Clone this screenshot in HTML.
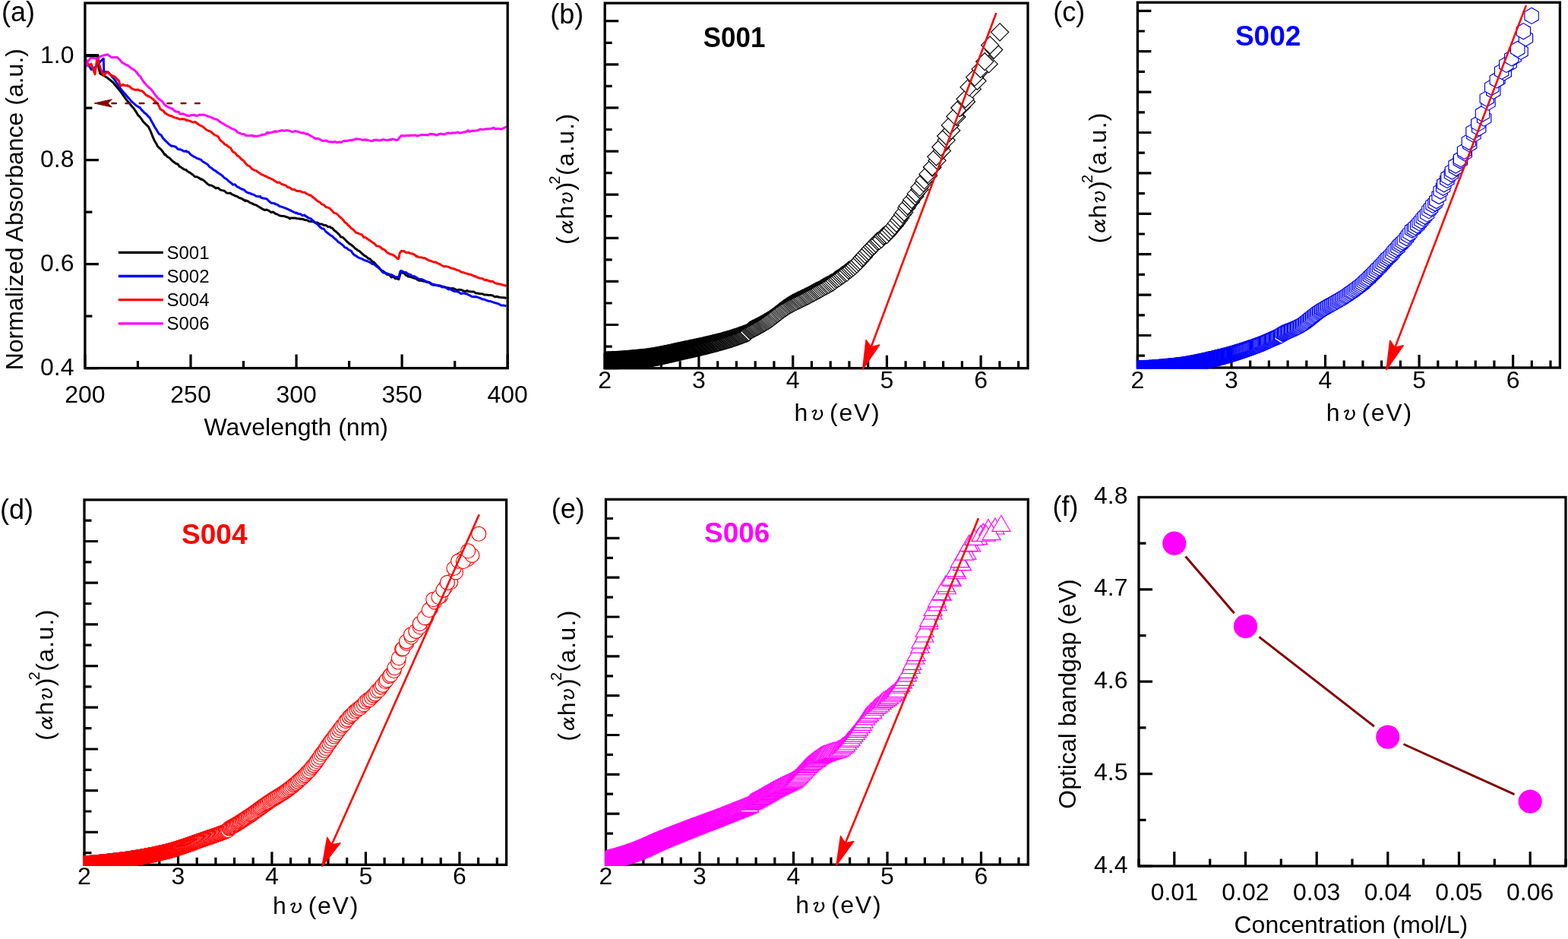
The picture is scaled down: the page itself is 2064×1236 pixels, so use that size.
<!DOCTYPE html>
<html><head><meta charset="utf-8"><title>Optical absorption and bandgap</title>
<style>html,body{margin:0;padding:0;background:#fff;}svg{display:block;}</style></head>
<body>
<svg width="2064" height="1236" viewBox="0 0 2064 1236" font-family="'Liberation Sans', Arial, sans-serif">
<rect width="2064" height="1236" fill="#fff"/>
<clipPath id="ca"><rect x="111.9" y="4" width="556.3" height="480.6"/></clipPath>
<g clip-path="url(#ca)" fill="none" stroke-width="3" stroke-linejoin="round">
<path d="M112.0 72.6L120.0 72.4L129.0 72.4L130.0 90.0L132.0 97.0L140.4 101.7L148.8 108.5L158.5 120.2L162.0 125.2L164.8 129.2L167.6 132.8L168.2 133.8L170.4 135.9L173.2 139.5L175.9 142.5L177.9 145.4L178.7 146.6L181.5 151.3L184.3 154.0L187.1 157.9L187.6 159.0L189.8 161.5L192.6 164.2L195.4 166.8L195.4 166.9L198.2 172.7L201.0 179.7L201.2 180.3L203.7 185.8L206.5 190.2L207.0 192.0L209.3 194.4L212.1 196.9L214.9 200.5L216.8 203.6L217.6 203.2L220.4 206.4L223.2 208.0L226.0 211.1L226.5 211.4L228.8 213.3L231.5 215.3L234.3 216.2L236.2 219.2L237.1 219.4L239.9 221.4L242.7 223.1L245.4 223.8L245.9 225.0L248.2 226.3L251.0 228.0L253.8 230.0L255.6 231.8L256.6 232.8L259.3 232.8L262.1 234.4L264.9 236.1L265.3 235.7L267.7 237.2L270.5 239.7L273.2 242.1L275.0 243.4L276.0 243.8L278.8 244.2L281.6 246.1L284.4 248.0L284.7 247.3L287.1 247.4L289.9 249.9L292.7 250.6L295.5 251.2L298.3 254.0L301.0 254.3L303.8 254.3L304.1 255.1L306.6 256.3L309.4 257.8L312.2 258.6L314.9 260.4L317.7 261.2L320.5 262.9L323.3 264.6L323.5 263.8L326.1 264.7L328.8 266.6L331.6 267.6L334.4 269.3L337.2 269.9L340.0 271.7L342.7 273.3L342.9 273.5L345.5 275.1L348.3 276.4L351.1 276.0L353.9 277.4L356.6 279.4L359.4 278.9L362.2 281.0L362.3 281.3L365.0 282.0L367.8 283.7L370.5 284.2L373.3 284.4L376.1 285.2L378.9 286.1L381.7 288.0L381.7 287.1L384.4 286.9L387.2 287.1L390.0 287.3L390.0 287.5L392.8 287.8L395.6 288.3L398.3 288.3L401.1 289.5L401.3 289.5L403.9 289.8L406.7 291.3L409.5 291.5L412.2 291.7L412.7 291.8L415.0 292.9L417.8 293.1L420.6 294.8L423.4 295.0L424.0 295.2L426.1 296.4L428.9 296.4L431.7 298.5L434.5 298.4L435.3 299.7L437.3 300.1L440.0 303.3L442.8 305.2L445.6 308.1L446.6 308.8L448.4 311.7L451.2 312.4L453.9 315.0L456.7 318.0L458.0 319.0L459.5 320.5L462.3 322.3L465.1 324.5L467.8 327.3L469.3 328.0L470.6 329.4L473.4 330.7L476.2 333.5L479.0 335.8L480.6 337.1L481.7 337.3L484.5 340.0L487.3 341.2L490.1 344.3L492.0 345.0L492.9 346.1L495.6 349.1L498.4 351.7L501.2 355.1L503.3 357.5L504.0 356.7L506.8 358.9L509.5 361.5L512.3 361.7L514.6 364.3L515.1 365.0L517.9 364.3L520.7 366.8L523.4 366.7L524.8 367.7L526.2 363.2L527.0 360.0L528.2 358.6L529.0 359.1L531.8 359.5L534.6 362.6L537.3 363.2L537.3 364.1L540.1 364.3L542.9 365.3L545.7 366.4L548.5 367.1L548.6 367.7L551.2 369.2L554.0 369.0L556.8 370.1L559.6 370.5L562.4 371.5L565.1 371.9L567.9 374.3L570.7 374.3L571.2 374.5L573.5 375.6L576.3 375.8L579.0 376.0L581.8 376.9L584.6 377.5L587.4 378.5L590.2 379.0L592.9 379.7L593.9 380.1L595.7 379.5L598.5 380.3L601.3 382.2L604.1 381.2L606.8 381.4L609.6 382.7L612.4 383.7L615.2 382.4L616.5 383.5L618.0 383.7L620.7 384.0L623.5 383.9L626.3 385.9L629.1 386.0L631.9 386.7L634.6 386.7L637.4 388.0L639.2 388.1L640.2 387.9L643.0 388.6L645.8 388.5L648.5 388.9L651.3 390.9L654.1 390.3L656.9 391.2L659.7 391.5L662.4 391.7L665.2 392.1L666.4 392.6" stroke="#000"/>
<path d="M112.0 73.4L113.3 80.2L120.1 91.6L126.0 88.0L133.0 80.0L136.3 77.0L136.8 94.4L142.4 95.0L150.5 104.5L158.5 116.3L162.0 120.9L164.8 123.7L167.6 127.1L168.2 127.9L170.4 130.1L173.2 133.6L175.9 136.0L177.9 137.6L178.7 138.5L181.5 140.2L184.3 141.9L187.1 145.5L187.6 145.4L189.8 148.2L192.6 150.3L195.4 153.5L197.3 155.1L198.2 157.2L201.0 162.2L203.7 167.3L206.5 171.5L207.0 172.6L209.3 176.2L212.1 177.9L214.9 182.4L216.8 184.2L217.6 185.2L220.4 187.6L223.2 190.5L226.0 192.5L226.5 192.0L228.8 192.4L231.5 193.5L234.3 196.4L236.2 196.8L237.1 196.5L239.9 197.9L242.7 199.3L245.4 198.7L245.9 199.8L248.2 200.1L251.0 203.5L253.8 205.3L255.6 206.5L256.6 206.8L259.3 208.4L262.1 209.3L264.9 210.3L265.3 211.4L267.7 213.1L270.5 214.7L273.2 216.4L276.0 219.8L278.8 221.5L281.6 223.9L284.4 225.2L284.7 226.0L287.1 227.4L289.9 229.3L292.7 231.4L295.5 234.2L298.3 235.7L301.0 238.4L303.8 240.5L304.1 240.5L306.6 243.2L309.4 242.8L312.2 245.9L314.9 247.0L317.7 248.7L320.5 249.5L323.3 251.8L323.5 252.2L326.1 253.7L328.8 254.3L331.6 255.5L334.4 256.4L337.2 258.3L340.0 258.7L342.7 258.5L342.9 259.9L345.5 260.7L348.3 261.2L351.1 261.7L353.9 264.6L356.6 266.9L359.4 267.4L362.2 268.0L362.3 268.7L365.0 269.2L367.8 271.5L370.5 272.1L373.3 273.1L376.1 274.1L378.9 275.3L381.7 276.9L381.7 276.4L384.4 278.1L387.2 279.3L390.0 280.5L390.0 279.9L392.8 281.6L395.6 281.8L398.3 283.7L401.1 283.1L401.3 283.9L403.9 285.4L406.7 287.1L409.5 288.0L412.2 291.5L412.7 290.7L415.0 293.7L417.8 295.0L420.6 298.3L423.4 300.5L424.0 300.9L426.1 301.0L428.9 305.0L431.7 307.0L434.5 309.3L435.3 309.9L437.3 310.8L440.0 313.6L442.8 315.8L445.6 318.9L446.6 319.0L448.4 320.6L451.2 322.6L453.9 325.7L456.7 326.7L458.0 328.0L459.5 329.0L462.3 330.4L465.1 334.6L467.8 336.5L469.3 337.1L470.6 338.3L473.4 339.6L476.2 340.6L479.0 342.1L480.6 342.8L481.7 343.1L484.5 344.2L487.3 345.5L490.1 347.4L492.0 347.3L492.9 348.4L495.6 350.6L498.4 352.7L501.2 355.2L503.3 357.5L504.0 358.7L506.8 359.2L509.5 360.0L512.3 360.9L514.6 362.0L515.1 361.5L517.9 363.1L520.7 364.5L523.4 364.7L524.8 365.4L526.2 359.8L527.0 357.0L528.2 356.4L529.0 356.7L531.8 358.2L534.6 358.6L537.3 360.9L537.3 360.8L540.1 361.5L542.9 363.7L545.7 363.8L548.5 365.7L548.6 365.4L551.2 367.4L554.0 367.4L556.8 368.3L559.6 369.9L562.4 370.9L565.1 371.5L567.9 373.5L570.7 375.5L571.2 374.5L573.5 375.0L576.3 375.9L579.0 376.2L581.8 377.9L584.6 377.8L587.4 378.7L590.2 380.9L592.9 380.5L593.9 381.3L595.7 382.5L598.5 383.6L601.3 383.7L604.1 384.7L606.8 386.4L609.6 385.9L612.4 386.5L615.2 386.9L616.5 388.1L618.0 388.6L620.7 390.3L623.5 390.8L626.3 390.5L629.1 391.4L631.9 392.4L634.6 393.7L637.4 394.2L639.2 394.9L640.2 395.3L643.0 396.2L645.8 396.6L648.5 397.6L651.3 398.5L654.1 399.2L656.9 400.3L659.7 402.0L662.4 402.0L665.2 402.5L666.4 402.8" stroke="#0000ff"/>
<path d="M112.0 77.0L116.1 86.3L120.0 84.0L125.0 97.7L128.2 74.2L130.3 84.3L133.0 92.0L136.3 99.7L141.2 94.4L146.0 99.0L150.5 100.5L156.6 106.6L158.5 113.4L162.0 111.3L163.0 112.0L164.8 112.7L167.6 112.1L168.2 113.4L170.4 113.6L173.2 116.4L175.9 117.7L177.9 118.2L178.7 118.3L181.5 117.9L184.3 119.3L187.1 119.7L187.6 120.2L189.8 122.4L192.6 125.5L195.4 126.5L197.3 127.9L198.2 128.1L201.0 130.1L203.7 133.0L206.5 135.2L207.0 135.7L209.3 139.6L210.9 143.5L212.1 144.4L214.9 145.8L217.6 149.2L218.7 149.3L220.4 150.8L223.2 152.2L226.0 152.7L226.5 153.2L228.8 154.4L231.5 155.1L234.3 156.0L236.2 157.0L237.1 156.9L239.9 156.6L242.7 156.8L245.4 158.4L245.9 158.0L248.2 158.6L251.0 159.7L253.8 161.0L255.6 160.9L256.6 160.3L259.3 162.3L262.1 164.3L264.9 165.8L265.3 165.8L267.7 167.2L270.5 170.0L273.2 171.5L275.0 172.6L276.0 172.5L278.8 174.3L281.6 177.0L284.4 178.5L284.7 178.4L287.1 179.7L289.9 184.4L292.7 186.8L294.4 188.1L295.5 189.8L298.3 191.0L301.0 193.3L303.8 195.0L304.1 195.9L306.6 199.9L309.4 201.1L312.2 204.9L313.8 205.6L314.9 206.4L317.7 209.6L320.5 211.3L323.3 214.9L323.5 215.3L326.1 217.9L328.8 218.8L331.6 222.4L333.2 223.0L334.4 223.9L337.2 224.8L340.0 226.8L342.7 228.5L342.9 228.9L345.5 230.2L348.3 231.3L351.1 232.5L353.9 234.2L356.6 235.2L359.4 236.4L362.2 238.5L362.3 238.6L365.0 240.3L367.8 240.1L370.5 242.3L373.3 243.2L376.1 244.2L378.9 246.5L381.7 247.0L381.7 247.3L384.4 249.4L387.2 249.3L390.0 251.0L390.0 251.2L392.8 251.4L395.6 251.7L398.3 253.1L401.1 253.2L401.3 253.3L403.9 255.2L406.7 256.5L409.5 257.5L412.2 259.8L412.7 260.1L415.0 262.0L417.8 264.7L420.6 265.8L423.4 268.6L424.0 269.1L426.1 269.4L428.9 272.5L431.7 273.1L434.5 274.3L435.3 275.9L437.3 277.4L440.0 280.4L442.8 281.0L445.6 283.5L446.6 285.0L448.4 286.3L451.2 288.8L453.9 292.5L456.7 294.5L458.0 296.3L459.5 297.2L462.3 300.5L465.1 302.2L467.8 305.4L469.3 306.5L470.6 306.6L473.4 307.8L476.2 308.9L479.0 312.5L480.6 312.2L481.7 312.8L484.5 315.1L487.3 316.8L490.1 318.9L492.0 320.1L492.9 320.7L495.6 323.8L498.4 324.0L501.2 325.6L503.3 328.0L504.0 327.8L506.8 329.3L509.5 332.2L512.3 333.9L514.6 334.8L515.1 334.5L517.9 335.8L520.7 338.0L523.4 340.6L524.8 340.5L526.2 333.3L527.0 332.0L528.2 330.3L529.0 330.8L531.8 330.6L534.6 332.5L537.3 332.6L537.3 332.0L540.1 333.6L542.9 333.9L545.7 335.4L548.5 337.9L548.6 337.1L551.2 338.5L554.0 338.8L556.8 339.4L559.6 339.8L562.4 341.7L565.1 342.9L567.9 343.8L570.7 344.8L571.2 345.0L573.5 345.1L576.3 346.7L579.0 347.7L581.8 349.5L584.6 350.8L587.4 350.6L590.2 351.2L592.9 352.6L593.9 353.0L595.7 353.3L598.5 354.2L601.3 355.5L604.1 355.9L606.8 357.9L609.6 358.4L612.4 359.6L615.2 360.3L616.5 360.9L618.0 361.0L620.7 361.8L623.5 363.2L626.3 364.0L629.1 365.4L631.9 366.2L634.6 366.4L637.4 368.2L639.2 368.8L640.2 368.3L643.0 369.5L645.8 370.5L648.5 370.3L651.3 372.4L654.1 373.2L656.9 373.8L659.7 374.5L662.4 375.3L665.2 375.8L666.4 376.7" stroke="#ff0000"/>
<path d="M112.9 88.3L116.1 80.2L120.1 75.4L126.2 77.4L134.3 73.4L141.6 71.7L146.5 75.4L154.6 75.4L160.2 81.6L160.6 82.3L162.9 83.3L165.7 85.2L167.9 86.3L168.5 86.0L171.3 88.7L174.1 90.5L176.8 92.2L177.9 93.0L179.6 94.9L182.4 98.9L185.2 101.1L185.7 102.7L188.0 106.0L190.7 109.6L191.5 110.5L193.5 112.7L196.3 115.5L199.1 117.6L199.3 118.2L201.9 121.3L204.6 125.3L207.0 127.9L207.4 128.6L210.2 131.2L213.0 132.9L215.8 136.9L216.8 137.6L218.5 139.4L221.3 141.0L224.1 142.2L226.5 143.5L226.9 142.8L229.7 146.0L232.4 147.0L235.2 147.2L236.2 149.3L238.0 150.1L240.8 149.8L243.6 150.7L245.9 152.2L246.3 151.8L249.1 152.6L251.9 151.4L254.7 151.5L255.6 151.2L257.5 152.2L260.2 152.2L263.0 151.1L265.3 151.2L265.8 151.2L268.6 151.1L271.4 152.0L274.1 153.3L275.0 153.2L276.9 154.2L279.7 155.1L282.5 156.7L284.7 157.0L285.3 156.9L288.0 159.0L290.8 161.2L293.6 162.8L294.4 162.9L296.4 164.7L299.2 166.0L301.9 167.2L304.1 168.7L304.7 169.3L307.5 170.1L310.3 171.4L313.1 174.4L313.8 174.5L315.8 175.3L318.6 176.6L321.4 176.5L323.5 178.4L324.2 178.3L327.0 178.4L329.7 178.5L332.5 178.0L333.2 179.4L335.3 179.0L338.1 179.4L340.9 178.8L342.9 178.4L343.6 177.8L346.4 177.3L349.2 177.0L352.0 174.0L352.6 175.5L354.8 174.8L357.5 174.3L360.3 173.6L362.3 172.6L363.1 173.5L365.9 172.9L368.7 172.1L371.4 171.8L372.0 171.6L374.2 172.2L377.0 171.6L379.8 172.1L381.7 172.2L382.6 172.8L385.3 173.7L388.1 172.6L390.0 172.9L390.9 173.0L393.7 173.7L396.5 175.0L399.2 174.7L401.3 175.1L402.0 176.3L404.8 176.3L407.6 178.1L410.4 179.5L412.7 180.8L413.1 181.4L415.9 182.7L418.7 182.3L421.5 183.7L424.0 185.3L424.3 185.5L427.0 185.2L429.8 185.0L432.6 186.8L435.3 186.4L435.4 186.7L438.2 186.9L440.9 186.5L443.7 187.5L446.5 186.9L446.6 187.1L449.3 187.3L452.1 185.7L454.8 185.3L457.6 185.5L458.0 185.3L460.4 184.4L463.2 184.7L466.0 183.8L468.7 182.6L469.3 183.0L471.5 183.3L474.3 183.3L477.1 184.4L479.9 183.7L480.6 184.2L482.6 183.9L485.4 184.9L488.2 185.5L491.0 185.4L492.0 184.2L493.8 184.2L496.5 184.3L499.3 185.1L502.1 184.1L503.3 184.2L504.9 183.6L507.7 184.3L510.4 184.5L513.2 183.7L514.6 184.2L516.0 183.2L518.8 183.3L521.6 184.6L523.7 184.2L524.3 182.9L527.1 179.8L528.2 178.5L529.9 178.6L532.7 178.9L535.5 178.3L537.3 178.5L538.2 178.8L541.0 178.0L543.8 178.3L546.6 177.9L548.6 178.5L549.4 179.1L552.1 178.2L554.9 177.6L557.7 177.6L560.5 177.5L563.3 177.9L566.0 176.3L568.8 176.4L571.2 176.9L571.6 176.6L574.4 178.2L577.2 177.0L579.9 176.1L582.7 176.4L585.5 177.0L588.3 175.4L591.1 175.1L593.8 175.8L593.9 175.1L596.6 175.1L599.4 175.0L602.2 174.0L605.0 175.2L607.7 174.8L610.5 173.8L613.3 173.6L616.1 171.7L616.5 172.9L618.9 173.0L621.6 172.1L624.4 172.2L627.2 172.0L630.0 171.0L632.8 169.9L635.5 170.8L638.3 169.8L639.2 170.1L641.1 169.8L643.9 169.4L646.7 169.4L649.4 168.0L652.2 170.0L655.0 169.2L657.8 169.5L660.6 169.9L663.3 168.5L666.1 167.2L666.4 168.3" stroke="#ff00ff"/>
</g>
<path d="M262.6 135.9H147.4" stroke="#800000" stroke-width="2.5" stroke-linecap="round" stroke-dasharray="5.6 12.7" fill="none"/>
<path d="M124.2 135.9L147.4 130.8L142.2 135.9L147.4 141Z" fill="#800000" stroke="#800000" stroke-width="1" stroke-linejoin="round"/>
<rect x="111.9" y="4" width="556.3" height="480.6" fill="none" stroke="#000" stroke-width="3.3"/>
<path d="M111.9 484.6v-18M181.4 484.6v-9.5M251 484.6v-18M320.5 484.6v-9.5M390.1 484.6v-18M459.6 484.6v-9.5M529.1 484.6v-18M598.7 484.6v-9.5M668.2 484.6v-18" stroke="#000" stroke-width="3.2" fill="none"/>
<path d="M111.9 484.6h18M111.9 416.1h9.5M111.9 347.6h18M111.9 279.1h9.5M111.9 210.6h18M111.9 142.1h9.5M111.9 73.6h18" stroke="#000" stroke-width="3.2" fill="none"/>
<text x="111.9" y="530" font-size="32" text-anchor="middle" font-weight="normal" fill="#000" >200</text>
<text x="251" y="530" font-size="32" text-anchor="middle" font-weight="normal" fill="#000" >250</text>
<text x="390.1" y="530" font-size="32" text-anchor="middle" font-weight="normal" fill="#000" >300</text>
<text x="529.1" y="530" font-size="32" text-anchor="middle" font-weight="normal" fill="#000" >350</text>
<text x="668.2" y="530" font-size="32" text-anchor="middle" font-weight="normal" fill="#000" >400</text>
<text x="97.5" y="493.6" font-size="32" text-anchor="end" font-weight="normal" fill="#000" >0.4</text>
<text x="97.5" y="356.6" font-size="32" text-anchor="end" font-weight="normal" fill="#000" >0.6</text>
<text x="97.5" y="219.6" font-size="32" text-anchor="end" font-weight="normal" fill="#000" >0.8</text>
<text x="97.5" y="82.6" font-size="32" text-anchor="end" font-weight="normal" fill="#000" >1.0</text>
<text x="268.5" y="573" font-size="32" text-anchor="start" font-weight="normal" fill="#000" >Wavelength (nm)</text>
<text transform="translate(29.8,275.7) rotate(-90)" font-size="32" text-anchor="middle">Normalized Absorbance (a.u.)</text>
<text x="1.9" y="28.3" font-size="36" text-anchor="start" font-weight="normal" fill="#000" >(a)</text>
<path d="M155.8 332.4H214.8" stroke="#000" stroke-width="3.3"/>
<text x="219.5" y="340.6" font-size="24" text-anchor="start" font-weight="normal" fill="#000" >S001</text>
<path d="M155.8 363.5H214.8" stroke="#0000ff" stroke-width="3.3"/>
<text x="219.5" y="371.7" font-size="24" text-anchor="start" font-weight="normal" fill="#000" >S002</text>
<path d="M155.8 394.7H214.8" stroke="#ff0000" stroke-width="3.3"/>
<text x="219.5" y="402.9" font-size="24" text-anchor="start" font-weight="normal" fill="#000" >S004</text>
<path d="M155.8 425.8H214.8" stroke="#ff00ff" stroke-width="3.3"/>
<text x="219.5" y="434" font-size="24" text-anchor="start" font-weight="normal" fill="#000" >S006</text>
<rect x="796.2" y="4.1" width="556.8" height="480.6" fill="none" stroke="#000" stroke-width="3.3"/>
<path d="M796.2 27.7h18M796.2 56.3h9.5M796.2 84.8h18M796.2 113.4h9.5M796.2 141.9h18M796.2 170.5h9.5M796.2 199.1h18M796.2 227.6h9.5M796.2 256.2h18M796.2 284.7h9.5M796.2 313.3h18M796.2 341.9h9.5M796.2 370.4h18M796.2 399h9.5M796.2 427.5h18M796.2 456.1h9.5M796.2 484.7h18" stroke="#000" stroke-width="3.2" fill="none"/>
<path d="M796.2 484.7v-17M820.9 484.7v-9.5M845.7 484.7v-9.5M870.4 484.7v-9.5M895.2 484.7v-9.5M919.9 484.7v-17M944.7 484.7v-9.5M969.4 484.7v-9.5M994.2 484.7v-9.5M1018.9 484.7v-9.5M1043.7 484.7v-17M1068.4 484.7v-9.5M1093.2 484.7v-9.5M1117.9 484.7v-9.5M1142.7 484.7v-9.5M1167.4 484.7v-17M1192.1 484.7v-9.5M1216.9 484.7v-9.5M1241.6 484.7v-9.5M1266.4 484.7v-9.5M1291.1 484.7v-17M1315.9 484.7v-9.5M1340.6 484.7v-9.5" stroke="#000" stroke-width="3.2" fill="none"/>
<clipPath id="cb"><rect x="794.8" y="2.7" width="559.6" height="483.4"/></clipPath>
<g clip-path="url(#cb)" fill="#fff" stroke="#000" stroke-width="1.15" stroke-linejoin="miter">
<path stroke-width="2.15" d="M796.2 463.9L807.8 475.5L796.2 487.1L784.6 475.5Z"/>
<path stroke-width="2.15" d="M796.6 463.9L808.2 475.5L796.6 487.1L785.0 475.5Z"/>
<path stroke-width="2.15" d="M797.0 463.9L808.6 475.5L797.0 487.1L785.4 475.5Z"/>
<path stroke-width="2.15" d="M797.4 463.9L809.0 475.5L797.4 487.1L785.8 475.5Z"/>
<path stroke-width="2.15" d="M797.8 463.9L809.4 475.5L797.8 487.1L786.2 475.5Z"/>
<path stroke-width="2.15" d="M798.2 463.9L809.8 475.5L798.2 487.1L786.6 475.5Z"/>
<path stroke-width="2.15" d="M798.6 463.9L810.2 475.5L798.6 487.1L787.0 475.5Z"/>
<path stroke-width="2.15" d="M799.0 463.9L810.6 475.5L799.0 487.1L787.4 475.5Z"/>
<path stroke-width="2.15" d="M799.4 463.8L811.0 475.4L799.4 487.0L787.8 475.4Z"/>
<path stroke-width="2.15" d="M799.8 463.8L811.4 475.4L799.8 487.0L788.2 475.4Z"/>
<path stroke-width="2.15" d="M800.3 463.8L811.9 475.4L800.3 487.0L788.7 475.4Z"/>
<path stroke-width="2.15" d="M800.7 463.8L812.3 475.4L800.7 487.0L789.1 475.4Z"/>
<path stroke-width="2.15" d="M801.1 463.8L812.7 475.4L801.1 487.0L789.5 475.4Z"/>
<path stroke-width="2.15" d="M801.5 463.8L813.1 475.4L801.5 487.0L789.9 475.4Z"/>
<path stroke-width="2.15" d="M801.9 463.8L813.5 475.4L801.9 487.0L790.3 475.4Z"/>
<path stroke-width="2.15" d="M802.3 463.8L813.9 475.4L802.3 487.0L790.7 475.4Z"/>
<path stroke-width="2.15" d="M802.8 463.7L814.4 475.3L802.8 486.9L791.2 475.3Z"/>
<path stroke-width="2.15" d="M803.2 463.7L814.8 475.3L803.2 486.9L791.6 475.3Z"/>
<path stroke-width="2.15" d="M803.6 463.7L815.2 475.3L803.6 486.9L792.0 475.3Z"/>
<path stroke-width="2.15" d="M804.0 463.7L815.6 475.3L804.0 486.9L792.4 475.3Z"/>
<path stroke-width="2.15" d="M804.4 463.7L816.0 475.3L804.4 486.9L792.8 475.3Z"/>
<path stroke-width="2.15" d="M804.9 463.7L816.5 475.3L804.9 486.9L793.3 475.3Z"/>
<path stroke-width="2.15" d="M805.3 463.6L816.9 475.2L805.3 486.8L793.7 475.2Z"/>
<path stroke-width="2.15" d="M805.7 463.6L817.3 475.2L805.7 486.8L794.1 475.2Z"/>
<path stroke-width="2.15" d="M806.2 463.6L817.8 475.2L806.2 486.8L794.6 475.2Z"/>
<path stroke-width="2.15" d="M806.6 463.6L818.2 475.2L806.6 486.8L795.0 475.2Z"/>
<path stroke-width="2.15" d="M807.0 463.6L818.6 475.2L807.0 486.8L795.4 475.2Z"/>
<path stroke-width="2.15" d="M807.5 463.6L819.1 475.2L807.5 486.8L795.9 475.2Z"/>
<path stroke-width="2.15" d="M807.9 463.5L819.5 475.1L807.9 486.7L796.3 475.1Z"/>
<path stroke-width="2.15" d="M808.3 463.5L819.9 475.1L808.3 486.7L796.7 475.1Z"/>
<path stroke-width="2.15" d="M808.8 463.5L820.4 475.1L808.8 486.7L797.2 475.1Z"/>
<path stroke-width="2.15" d="M809.2 463.5L820.8 475.1L809.2 486.7L797.6 475.1Z"/>
<path stroke-width="2.15" d="M809.7 463.4L821.3 475.0L809.7 486.6L798.1 475.0Z"/>
<path stroke-width="2.15" d="M810.1 463.4L821.7 475.0L810.1 486.6L798.5 475.0Z"/>
<path stroke-width="2.15" d="M810.6 463.4L822.2 475.0L810.6 486.6L799.0 475.0Z"/>
<path stroke-width="2.15" d="M811.0 463.4L822.6 475.0L811.0 486.6L799.4 475.0Z"/>
<path stroke-width="2.15" d="M811.5 463.3L823.1 474.9L811.5 486.5L799.9 474.9Z"/>
<path stroke-width="2.15" d="M811.9 463.3L823.5 474.9L811.9 486.5L800.3 474.9Z"/>
<path stroke-width="2.15" d="M812.4 463.3L824.0 474.9L812.4 486.5L800.8 474.9Z"/>
<path stroke-width="2.15" d="M812.8 463.3L824.4 474.9L812.8 486.5L801.2 474.9Z"/>
<path stroke-width="2.15" d="M813.3 463.2L824.9 474.8L813.3 486.4L801.7 474.8Z"/>
<path stroke-width="2.15" d="M813.7 463.2L825.3 474.8L813.7 486.4L802.1 474.8Z"/>
<path stroke-width="2.15" d="M814.2 463.2L825.8 474.8L814.2 486.4L802.6 474.8Z"/>
<path stroke-width="2.15" d="M814.6 463.1L826.2 474.7L814.6 486.3L803.0 474.7Z"/>
<path stroke-width="2.15" d="M815.1 463.1L826.7 474.7L815.1 486.3L803.5 474.7Z"/>
<path stroke-width="2.15" d="M815.6 463.1L827.2 474.7L815.6 486.3L804.0 474.7Z"/>
<path stroke-width="2.15" d="M816.0 463.0L827.6 474.6L816.0 486.2L804.4 474.6Z"/>
<path stroke-width="2.15" d="M816.5 463.0L828.1 474.6L816.5 486.2L804.9 474.6Z"/>
<path stroke-width="2.15" d="M817.0 463.0L828.6 474.6L817.0 486.2L805.4 474.6Z"/>
<path stroke-width="2.15" d="M817.4 462.9L829.0 474.5L817.4 486.1L805.8 474.5Z"/>
<path stroke-width="2.15" d="M817.9 462.9L829.5 474.5L817.9 486.1L806.3 474.5Z"/>
<path stroke-width="2.15" d="M818.4 462.9L830.0 474.5L818.4 486.1L806.8 474.5Z"/>
<path stroke-width="2.15" d="M818.9 462.8L830.5 474.4L818.9 486.0L807.3 474.4Z"/>
<path stroke-width="2.15" d="M819.3 462.8L830.9 474.4L819.3 486.0L807.7 474.4Z"/>
<path stroke-width="2.15" d="M819.8 462.8L831.4 474.4L819.8 486.0L808.2 474.4Z"/>
<path stroke-width="2.15" d="M820.3 462.7L831.9 474.3L820.3 485.9L808.7 474.3Z"/>
<path stroke-width="2.15" d="M820.8 462.7L832.4 474.3L820.8 485.9L809.2 474.3Z"/>
<path stroke-width="2.15" d="M821.3 462.7L832.9 474.3L821.3 485.9L809.7 474.3Z"/>
<path stroke-width="2.15" d="M821.7 462.6L833.3 474.2L821.7 485.8L810.1 474.2Z"/>
<path stroke-width="2.15" d="M822.2 462.6L833.8 474.2L822.2 485.8L810.6 474.2Z"/>
<path stroke-width="2.15" d="M822.7 462.5L834.3 474.1L822.7 485.7L811.1 474.1Z"/>
<path stroke-width="2.15" d="M823.2 462.5L834.8 474.1L823.2 485.7L811.6 474.1Z"/>
<path stroke-width="2.15" d="M823.7 462.5L835.3 474.1L823.7 485.7L812.1 474.1Z"/>
<path stroke-width="2.15" d="M824.2 462.4L835.8 474.0L824.2 485.6L812.6 474.0Z"/>
<path stroke-width="2.15" d="M824.7 462.4L836.3 474.0L824.7 485.6L813.1 474.0Z"/>
<path stroke-width="2.15" d="M825.2 462.3L836.8 473.9L825.2 485.5L813.6 473.9Z"/>
<path stroke-width="2.15" d="M825.7 462.3L837.3 473.9L825.7 485.5L814.1 473.9Z"/>
<path stroke-width="2.15" d="M826.2 462.3L837.8 473.9L826.2 485.5L814.6 473.9Z"/>
<path stroke-width="2.15" d="M826.7 462.2L838.3 473.8L826.7 485.4L815.1 473.8Z"/>
<path stroke-width="2.15" d="M827.2 462.2L838.8 473.8L827.2 485.4L815.6 473.8Z"/>
<path stroke-width="2.15" d="M827.7 462.1L839.3 473.7L827.7 485.3L816.1 473.7Z"/>
<path stroke-width="2.15" d="M828.2 462.1L839.8 473.7L828.2 485.3L816.6 473.7Z"/>
<path stroke-width="2.15" d="M828.7 462.0L840.3 473.6L828.7 485.2L817.1 473.6Z"/>
<path stroke-width="2.15" d="M829.2 462.0L840.8 473.6L829.2 485.2L817.6 473.6Z"/>
<path stroke-width="2.15" d="M829.7 461.9L841.3 473.5L829.7 485.1L818.1 473.5Z"/>
<path stroke-width="2.15" d="M830.3 461.9L841.9 473.5L830.3 485.1L818.7 473.5Z"/>
<path stroke-width="2.15" d="M830.8 461.8L842.4 473.4L830.8 485.0L819.2 473.4Z"/>
<path stroke-width="2.15" d="M831.3 461.8L842.9 473.4L831.3 485.0L819.7 473.4Z"/>
<path stroke-width="2.15" d="M831.8 461.7L843.4 473.3L831.8 484.9L820.2 473.3Z"/>
<path stroke-width="2.15" d="M832.3 461.7L843.9 473.3L832.3 484.9L820.7 473.3Z"/>
<path stroke-width="2.15" d="M832.9 461.6L844.5 473.2L832.9 484.8L821.3 473.2Z"/>
<path stroke-width="2.15" d="M833.4 461.6L845.0 473.2L833.4 484.8L821.8 473.2Z"/>
<path stroke-width="2.15" d="M833.9 461.5L845.5 473.1L833.9 484.7L822.3 473.1Z"/>
<path stroke-width="2.15" d="M834.4 461.5L846.0 473.1L834.4 484.7L822.8 473.1Z"/>
<path stroke-width="2.15" d="M835.0 461.4L846.6 473.0L835.0 484.6L823.4 473.0Z"/>
<path stroke-width="2.15" d="M835.5 461.4L847.1 473.0L835.5 484.6L823.9 473.0Z"/>
<path stroke-width="2.15" d="M836.1 461.3L847.7 472.9L836.1 484.5L824.5 472.9Z"/>
<path stroke-width="2.15" d="M836.6 461.3L848.2 472.9L836.6 484.5L825.0 472.9Z"/>
<path stroke-width="2.15" d="M837.1 461.2L848.7 472.8L837.1 484.4L825.5 472.8Z"/>
<path stroke-width="2.15" d="M837.7 461.2L849.3 472.8L837.7 484.4L826.1 472.8Z"/>
<path stroke-width="2.15" d="M838.2 461.1L849.8 472.7L838.2 484.3L826.6 472.7Z"/>
<path stroke-width="2.15" d="M838.8 461.1L850.4 472.7L838.8 484.3L827.2 472.7Z"/>
<path stroke-width="2.15" d="M839.3 461.0L850.9 472.6L839.3 484.2L827.7 472.6Z"/>
<path stroke-width="2.15" d="M839.9 461.0L851.5 472.6L839.9 484.2L828.3 472.6Z"/>
<path stroke-width="2.14" d="M840.4 460.9L852.0 472.5L840.4 484.1L828.8 472.5Z"/>
<path stroke-width="2.14" d="M841.0 460.8L852.6 472.4L841.0 484.0L829.4 472.4Z"/>
<path stroke-width="2.13" d="M841.5 460.8L853.1 472.4L841.5 484.0L829.9 472.4Z"/>
<path stroke-width="2.13" d="M842.1 460.7L853.7 472.3L842.1 483.9L830.5 472.3Z"/>
<path stroke-width="2.12" d="M842.7 460.7L854.3 472.3L842.7 483.9L831.1 472.3Z"/>
<path stroke-width="2.12" d="M843.2 460.6L854.8 472.2L843.2 483.8L831.6 472.2Z"/>
<path stroke-width="2.11" d="M843.8 460.6L855.4 472.2L843.8 483.8L832.2 472.2Z"/>
<path stroke-width="2.11" d="M844.4 460.5L856.0 472.1L844.4 483.7L832.8 472.1Z"/>
<path stroke-width="2.10" d="M844.9 460.4L856.5 472.0L844.9 483.6L833.3 472.0Z"/>
<path stroke-width="2.10" d="M845.5 460.4L857.1 472.0L845.5 483.6L833.9 472.0Z"/>
<path stroke-width="2.09" d="M846.1 460.3L857.7 471.9L846.1 483.5L834.5 471.9Z"/>
<path stroke-width="2.09" d="M846.7 460.3L858.3 471.9L846.7 483.5L835.1 471.9Z"/>
<path stroke-width="2.08" d="M847.2 460.2L858.8 471.8L847.2 483.4L835.6 471.8Z"/>
<path stroke-width="2.08" d="M847.8 460.1L859.4 471.7L847.8 483.3L836.2 471.7Z"/>
<path stroke-width="2.07" d="M848.4 460.1L860.0 471.7L848.4 483.3L836.8 471.7Z"/>
<path stroke-width="2.06" d="M849.0 460.0L860.6 471.6L849.0 483.2L837.4 471.6Z"/>
<path stroke-width="2.06" d="M849.6 459.9L861.2 471.5L849.6 483.1L838.0 471.5Z"/>
<path stroke-width="2.05" d="M850.2 459.8L861.8 471.4L850.2 483.0L838.6 471.4Z"/>
<path stroke-width="2.05" d="M850.8 459.8L862.4 471.4L850.8 483.0L839.2 471.4Z"/>
<path stroke-width="2.04" d="M851.4 459.7L863.0 471.3L851.4 482.9L839.8 471.3Z"/>
<path stroke-width="2.04" d="M852.0 459.6L863.6 471.2L852.0 482.8L840.4 471.2Z"/>
<path stroke-width="2.03" d="M852.6 459.5L864.2 471.1L852.6 482.7L841.0 471.1Z"/>
<path stroke-width="2.03" d="M853.2 459.4L864.8 471.0L853.2 482.6L841.6 471.0Z"/>
<path stroke-width="2.02" d="M853.8 459.3L865.4 470.9L853.8 482.5L842.2 470.9Z"/>
<path stroke-width="2.02" d="M854.4 459.2L866.0 470.8L854.4 482.4L842.8 470.8Z"/>
<path stroke-width="2.01" d="M855.0 459.1L866.6 470.7L855.0 482.3L843.4 470.7Z"/>
<path stroke-width="2.01" d="M855.6 459.0L867.2 470.6L855.6 482.2L844.0 470.6Z"/>
<path stroke-width="2.00" d="M856.2 458.9L867.8 470.5L856.2 482.1L844.6 470.5Z"/>
<path stroke-width="1.99" d="M856.8 458.8L868.4 470.4L856.8 482.0L845.2 470.4Z"/>
<path stroke-width="1.99" d="M857.4 458.7L869.0 470.3L857.4 481.9L845.8 470.3Z"/>
<path stroke-width="1.98" d="M858.1 458.6L869.7 470.2L858.1 481.8L846.5 470.2Z"/>
<path stroke-width="1.98" d="M858.7 458.5L870.3 470.1L858.7 481.7L847.1 470.1Z"/>
<path stroke-width="1.97" d="M859.3 458.4L870.9 470.0L859.3 481.6L847.7 470.0Z"/>
<path stroke-width="1.97" d="M859.9 458.3L871.5 469.9L859.9 481.5L848.3 469.9Z"/>
<path stroke-width="1.96" d="M860.6 458.2L872.2 469.8L860.6 481.4L849.0 469.8Z"/>
<path stroke-width="1.96" d="M861.2 458.1L872.8 469.7L861.2 481.3L849.6 469.7Z"/>
<path stroke-width="1.95" d="M861.9 458.0L873.5 469.6L861.9 481.2L850.3 469.6Z"/>
<path stroke-width="1.94" d="M862.5 457.9L874.1 469.5L862.5 481.1L850.9 469.5Z"/>
<path stroke-width="1.94" d="M863.1 457.7L874.7 469.3L863.1 480.9L851.5 469.3Z"/>
<path stroke-width="1.93" d="M863.8 457.6L875.4 469.2L863.8 480.8L852.2 469.2Z"/>
<path stroke-width="1.93" d="M864.4 457.5L876.0 469.1L864.4 480.7L852.8 469.1Z"/>
<path stroke-width="1.92" d="M865.1 457.4L876.7 469.0L865.1 480.6L853.5 469.0Z"/>
<path stroke-width="1.91" d="M865.7 457.2L877.3 468.8L865.7 480.4L854.1 468.8Z"/>
<path stroke-width="1.91" d="M866.4 457.1L878.0 468.7L866.4 480.3L854.8 468.7Z"/>
<path stroke-width="1.90" d="M867.1 457.0L878.7 468.6L867.1 480.2L855.5 468.6Z"/>
<path stroke-width="1.90" d="M867.7 456.9L879.3 468.5L867.7 480.1L856.1 468.5Z"/>
<path stroke-width="1.89" d="M868.4 456.7L880.0 468.3L868.4 479.9L856.8 468.3Z"/>
<path stroke-width="1.88" d="M869.0 456.6L880.6 468.2L869.0 479.8L857.4 468.2Z"/>
<path stroke-width="1.88" d="M869.7 456.4L881.3 468.0L869.7 479.6L858.1 468.0Z"/>
<path stroke-width="1.87" d="M870.4 456.3L882.0 467.9L870.4 479.5L858.8 467.9Z"/>
<path stroke-width="1.87" d="M871.1 456.2L882.7 467.8L871.1 479.4L859.5 467.8Z"/>
<path stroke-width="1.86" d="M871.7 456.0L883.3 467.6L871.7 479.2L860.1 467.6Z"/>
<path stroke-width="1.85" d="M872.4 455.9L884.0 467.5L872.4 479.1L860.8 467.5Z"/>
<path stroke-width="1.85" d="M873.1 455.7L884.7 467.3L873.1 478.9L861.5 467.3Z"/>
<path stroke-width="1.84" d="M873.8 455.6L885.4 467.2L873.8 478.8L862.2 467.2Z"/>
<path stroke-width="1.84" d="M874.5 455.4L886.1 467.0L874.5 478.6L862.9 467.0Z"/>
<path stroke-width="1.83" d="M875.2 455.3L886.8 466.9L875.2 478.5L863.6 466.9Z"/>
<path stroke-width="1.82" d="M875.9 455.1L887.5 466.7L875.9 478.3L864.3 466.7Z"/>
<path stroke-width="1.82" d="M876.6 455.0L888.2 466.6L876.6 478.2L865.0 466.6Z"/>
<path stroke-width="1.81" d="M877.3 454.8L888.9 466.4L877.3 478.0L865.7 466.4Z"/>
<path stroke-width="1.80" d="M878.0 454.7L889.6 466.3L878.0 477.9L866.4 466.3Z"/>
<path stroke-width="1.80" d="M878.7 454.5L890.3 466.1L878.7 477.7L867.1 466.1Z"/>
<path stroke-width="1.79" d="M879.4 454.3L891.0 465.9L879.4 477.5L867.8 465.9Z"/>
<path stroke-width="1.79" d="M880.1 454.2L891.7 465.8L880.1 477.4L868.5 465.8Z"/>
<path stroke-width="1.78" d="M880.8 454.0L892.4 465.6L880.8 477.2L869.2 465.6Z"/>
<path stroke-width="1.77" d="M881.6 453.9L893.2 465.5L881.6 477.1L870.0 465.5Z"/>
<path stroke-width="1.77" d="M882.3 453.7L893.9 465.3L882.3 476.9L870.7 465.3Z"/>
<path stroke-width="1.76" d="M883.0 453.5L894.6 465.1L883.0 476.7L871.4 465.1Z"/>
<path stroke-width="1.75" d="M883.7 453.4L895.3 465.0L883.7 476.6L872.1 465.0Z"/>
<path stroke-width="1.75" d="M884.5 453.2L896.1 464.8L884.5 476.4L872.9 464.8Z"/>
<path stroke-width="1.74" d="M885.2 453.0L896.8 464.6L885.2 476.2L873.6 464.6Z"/>
<path stroke-width="1.73" d="M885.9 452.9L897.5 464.5L885.9 476.1L874.3 464.5Z"/>
<path stroke-width="1.73" d="M886.7 452.7L898.3 464.3L886.7 475.9L875.1 464.3Z"/>
<path stroke-width="1.72" d="M887.4 452.5L899.0 464.1L887.4 475.7L875.8 464.1Z"/>
<path stroke-width="1.71" d="M888.2 452.3L899.8 463.9L888.2 475.5L876.6 463.9Z"/>
<path stroke-width="1.71" d="M888.9 452.2L900.5 463.8L888.9 475.4L877.3 463.8Z"/>
<path stroke-width="1.70" d="M889.7 452.0L901.3 463.6L889.7 475.2L878.1 463.6Z"/>
<path stroke-width="1.69" d="M890.4 451.8L902.0 463.4L890.4 475.0L878.8 463.4Z"/>
<path stroke-width="1.69" d="M891.2 451.7L902.8 463.3L891.2 474.9L879.6 463.3Z"/>
<path stroke-width="1.68" d="M892.0 451.5L903.6 463.1L892.0 474.7L880.4 463.1Z"/>
<path stroke-width="1.67" d="M892.7 451.3L904.3 462.9L892.7 474.5L881.1 462.9Z"/>
<path stroke-width="1.66" d="M893.5 451.1L905.1 462.7L893.5 474.3L881.9 462.7Z"/>
<path stroke-width="1.66" d="M894.3 450.9L905.9 462.5L894.3 474.1L882.7 462.5Z"/>
<path stroke-width="1.65" d="M895.1 450.8L906.7 462.4L895.1 474.0L883.5 462.4Z"/>
<path stroke-width="1.64" d="M895.9 450.6L907.5 462.2L895.9 473.8L884.3 462.2Z"/>
<path stroke-width="1.64" d="M896.6 450.4L908.2 462.0L896.6 473.6L885.0 462.0Z"/>
<path stroke-width="1.63" d="M897.4 450.2L909.0 461.8L897.4 473.4L885.8 461.8Z"/>
<path stroke-width="1.62" d="M898.2 450.1L909.8 461.7L898.2 473.3L886.6 461.7Z"/>
<path stroke-width="1.62" d="M899.0 449.9L910.6 461.5L899.0 473.1L887.4 461.5Z"/>
<path stroke-width="1.61" d="M899.8 449.7L911.4 461.3L899.8 472.9L888.2 461.3Z"/>
<path stroke-width="1.60" d="M900.6 449.5L912.2 461.1L900.6 472.7L889.0 461.1Z"/>
<path stroke-width="1.59" d="M901.4 449.4L913.0 461.0L901.4 472.6L889.8 461.0Z"/>
<path stroke-width="1.59" d="M902.3 449.2L913.9 460.8L902.3 472.4L890.7 460.8Z"/>
<path stroke-width="1.58" d="M903.1 449.0L914.7 460.6L903.1 472.2L891.5 460.6Z"/>
<path stroke-width="1.57" d="M903.9 448.8L915.5 460.4L903.9 472.0L892.3 460.4Z"/>
<path stroke-width="1.56" d="M904.7 448.6L916.3 460.2L904.7 471.8L893.1 460.2Z"/>
<path stroke-width="1.56" d="M905.5 448.5L917.1 460.1L905.5 471.7L893.9 460.1Z"/>
<path stroke-width="1.55" d="M906.4 448.3L918.0 459.9L906.4 471.5L894.8 459.9Z"/>
<path stroke-width="1.54" d="M907.2 448.1L918.8 459.7L907.2 471.3L895.6 459.7Z"/>
<path stroke-width="1.53" d="M908.1 447.9L919.7 459.5L908.1 471.1L896.5 459.5Z"/>
<path stroke-width="1.53" d="M908.9 447.7L920.5 459.3L908.9 470.9L897.3 459.3Z"/>
<path stroke-width="1.52" d="M909.7 447.5L921.3 459.1L909.7 470.7L898.1 459.1Z"/>
<path stroke-width="1.51" d="M910.6 447.4L922.2 459.0L910.6 470.6L899.0 459.0Z"/>
<path stroke-width="1.50" d="M911.5 447.2L923.1 458.8L911.5 470.4L899.9 458.8Z"/>
<path stroke-width="1.50" d="M912.3 447.0L923.9 458.6L912.3 470.2L900.7 458.6Z"/>
<path stroke-width="1.49" d="M913.2 446.8L924.8 458.4L913.2 470.0L901.6 458.4Z"/>
<path stroke-width="1.48" d="M914.0 446.6L925.6 458.2L914.0 469.8L902.4 458.2Z"/>
<path stroke-width="1.47" d="M914.9 446.4L926.5 458.0L914.9 469.6L903.3 458.0Z"/>
<path stroke-width="1.46" d="M915.8 446.2L927.4 457.8L915.8 469.4L904.2 457.8Z"/>
<path stroke-width="1.46" d="M916.7 446.0L928.3 457.6L916.7 469.2L905.1 457.6Z"/>
<path stroke-width="1.45" d="M917.6 445.8L929.2 457.4L917.6 469.0L906.0 457.4Z"/>
<path stroke-width="1.44" d="M918.4 445.6L930.0 457.2L918.4 468.8L906.8 457.2Z"/>
<path stroke-width="1.43" d="M919.3 445.4L930.9 457.0L919.3 468.6L907.7 457.0Z"/>
<path stroke-width="1.43" d="M920.2 445.2L931.8 456.8L920.2 468.4L908.6 456.8Z"/>
<path stroke-width="1.42" d="M921.1 445.0L932.7 456.6L921.1 468.2L909.5 456.6Z"/>
<path stroke-width="1.41" d="M922.0 444.8L933.6 456.4L922.0 468.0L910.4 456.4Z"/>
<path stroke-width="1.40" d="M923.0 444.6L934.6 456.2L923.0 467.8L911.4 456.2Z"/>
<path stroke-width="1.39" d="M923.9 444.4L935.5 456.0L923.9 467.6L912.3 456.0Z"/>
<path stroke-width="1.38" d="M924.8 444.2L936.4 455.8L924.8 467.4L913.2 455.8Z"/>
<path stroke-width="1.38" d="M925.7 443.9L937.3 455.5L925.7 467.1L914.1 455.5Z"/>
<path stroke-width="1.37" d="M926.6 443.7L938.2 455.3L926.6 466.9L915.0 455.3Z"/>
<path stroke-width="1.36" d="M927.6 443.5L939.2 455.1L927.6 466.7L916.0 455.1Z"/>
<path stroke-width="1.35" d="M928.5 443.3L940.1 454.9L928.5 466.5L916.9 454.9Z"/>
<path stroke-width="1.34" d="M929.5 443.1L941.1 454.7L929.5 466.3L917.9 454.7Z"/>
<path stroke-width="1.33" d="M930.4 442.8L942.0 454.4L930.4 466.0L918.8 454.4Z"/>
<path stroke-width="1.33" d="M931.4 442.6L943.0 454.2L931.4 465.8L919.8 454.2Z"/>
<path stroke-width="1.32" d="M932.3 442.4L943.9 454.0L932.3 465.6L920.7 454.0Z"/>
<path stroke-width="1.31" d="M933.3 442.1L944.9 453.7L933.3 465.3L921.7 453.7Z"/>
<path stroke-width="1.30" d="M934.2 441.9L945.8 453.5L934.2 465.1L922.6 453.5Z"/>
<path stroke-width="1.29" d="M935.2 441.7L946.8 453.3L935.2 464.9L923.6 453.3Z"/>
<path stroke-width="1.28" d="M936.2 441.4L947.8 453.0L936.2 464.6L924.6 453.0Z"/>
<path stroke-width="1.27" d="M937.2 441.2L948.8 452.8L937.2 464.4L925.6 452.8Z"/>
<path stroke-width="1.26" d="M938.1 440.9L949.7 452.5L938.1 464.1L926.5 452.5Z"/>
<path stroke-width="1.26" d="M939.1 440.7L950.7 452.3L939.1 463.9L927.5 452.3Z"/>
<path stroke-width="1.25" d="M940.1 440.4L951.7 452.0L940.1 463.6L928.5 452.0Z"/>
<path stroke-width="1.24" d="M941.1 440.2L952.7 451.8L941.1 463.4L929.5 451.8Z"/>
<path stroke-width="1.23" d="M942.1 439.9L953.7 451.5L942.1 463.1L930.5 451.5Z"/>
<path stroke-width="1.22" d="M943.2 439.6L954.8 451.2L943.2 462.8L931.6 451.2Z"/>
<path stroke-width="1.21" d="M944.2 439.4L955.8 451.0L944.2 462.6L932.6 451.0Z"/>
<path stroke-width="1.20" d="M945.2 439.1L956.8 450.7L945.2 462.3L933.6 450.7Z"/>
<path d="M946.2 438.8L957.8 450.4L946.2 462.0L934.6 450.4Z"/>
<path d="M947.3 438.6L958.9 450.2L947.3 461.8L935.7 450.2Z"/>
<path d="M948.3 438.3L959.9 449.9L948.3 461.5L936.7 449.9Z"/>
<path d="M949.3 438.0L960.9 449.6L949.3 461.2L937.7 449.6Z"/>
<path d="M950.4 437.7L962.0 449.3L950.4 460.9L938.8 449.3Z"/>
<path d="M951.4 437.4L963.0 449.0L951.4 460.6L939.8 449.0Z"/>
<path d="M952.5 437.1L964.1 448.7L952.5 460.3L940.9 448.7Z"/>
<path d="M953.6 436.8L965.2 448.4L953.6 460.0L942.0 448.4Z"/>
<path d="M954.6 436.5L966.2 448.1L954.6 459.7L943.0 448.1Z"/>
<path d="M955.7 436.2L967.3 447.8L955.7 459.4L944.1 447.8Z"/>
<path d="M956.8 435.9L968.4 447.5L956.8 459.1L945.2 447.5Z"/>
<path d="M957.9 435.6L969.5 447.2L957.9 458.8L946.3 447.2Z"/>
<path d="M959.0 435.3L970.6 446.9L959.0 458.5L947.4 446.9Z"/>
<path d="M960.1 434.9L971.7 446.5L960.1 458.1L948.5 446.5Z"/>
<path d="M961.2 434.6L972.8 446.2L961.2 457.8L949.6 446.2Z"/>
<path d="M962.3 434.2L973.9 445.8L962.3 457.4L950.7 445.8Z"/>
<path d="M963.4 433.9L975.0 445.5L963.4 457.1L951.8 445.5Z"/>
<path d="M964.5 433.5L976.1 445.1L964.5 456.7L952.9 445.1Z"/>
<path d="M965.7 433.1L977.3 444.7L965.7 456.3L954.1 444.7Z"/>
<path d="M966.8 432.8L978.4 444.4L966.8 456.0L955.2 444.4Z"/>
<path d="M967.9 432.4L979.5 444.0L967.9 455.6L956.3 444.0Z"/>
<path d="M969.1 432.0L980.7 443.6L969.1 455.2L957.5 443.6Z"/>
<path d="M970.2 431.6L981.8 443.2L970.2 454.8L958.6 443.2Z"/>
<path d="M971.4 431.2L983.0 442.8L971.4 454.4L959.8 442.8Z"/>
<path d="M972.6 430.8L984.2 442.4L972.6 454.0L961.0 442.4Z"/>
<path d="M973.7 430.3L985.3 441.9L973.7 453.5L962.1 441.9Z"/>
<path d="M974.9 429.9L986.5 441.5L974.9 453.1L963.3 441.5Z"/>
<path d="M976.1 429.5L987.7 441.1L976.1 452.7L964.5 441.1Z"/>
<path d="M977.3 429.0L988.9 440.6L977.3 452.2L965.7 440.6Z"/>
<path d="M978.5 428.6L990.1 440.2L978.5 451.8L966.9 440.2Z"/>
<path d="M979.7 428.1L991.3 439.7L979.7 451.3L968.1 439.7Z"/>
<path d="M980.9 427.7L992.5 439.3L980.9 450.9L969.3 439.3Z"/>
<path d="M982.1 427.2L993.7 438.8L982.1 450.4L970.5 438.8Z"/>
<path d="M983.4 426.7L995.0 438.3L983.4 449.9L971.8 438.3Z"/>
<path d="M984.6 426.2L996.2 437.8L984.6 449.4L973.0 437.8Z"/>
<path d="M985.9 425.8L997.5 437.4L985.9 449.0L974.3 437.4Z"/>
<path d="M987.1 423.2L998.7 434.8L987.1 446.4L975.5 434.8Z"/>
<path d="M988.4 422.7L1000.0 434.3L988.4 445.9L976.8 434.3Z"/>
<path d="M989.6 422.1L1001.2 433.7L989.6 445.3L978.0 433.7Z"/>
<path d="M990.9 421.4L1002.5 433.0L990.9 444.6L979.3 433.0Z"/>
<path d="M992.2 420.8L1003.8 432.4L992.2 444.0L980.6 432.4Z"/>
<path d="M993.5 420.2L1005.1 431.8L993.5 443.4L981.9 431.8Z"/>
<path d="M994.7 419.5L1006.3 431.1L994.7 442.7L983.1 431.1Z"/>
<path d="M996.0 418.8L1007.6 430.4L996.0 442.0L984.4 430.4Z"/>
<path d="M997.4 418.2L1009.0 429.8L997.4 441.4L985.8 429.8Z"/>
<path d="M998.7 417.5L1010.3 429.1L998.7 440.7L987.1 429.1Z"/>
<path d="M1000.0 416.7L1011.6 428.3L1000.0 439.9L988.4 428.3Z"/>
<path d="M1001.3 416.0L1012.9 427.6L1001.3 439.2L989.7 427.6Z"/>
<path d="M1002.7 415.3L1014.3 426.9L1002.7 438.5L991.1 426.9Z"/>
<path d="M1004.0 414.5L1015.6 426.1L1004.0 437.7L992.4 426.1Z"/>
<path d="M1005.4 413.7L1017.0 425.3L1005.4 436.9L993.8 425.3Z"/>
<path d="M1006.7 412.9L1018.3 424.5L1006.7 436.1L995.1 424.5Z"/>
<path d="M1008.1 412.1L1019.7 423.7L1008.1 435.3L996.5 423.7Z"/>
<path d="M1009.5 411.3L1021.1 422.9L1009.5 434.5L997.9 422.9Z"/>
<path d="M1010.9 410.5L1022.5 422.1L1010.9 433.7L999.3 422.1Z"/>
<path d="M1012.3 409.6L1023.9 421.2L1012.3 432.8L1000.7 421.2Z"/>
<path d="M1013.7 408.7L1025.3 420.3L1013.7 431.9L1002.1 420.3Z"/>
<path d="M1015.1 407.7L1026.7 419.3L1015.1 430.9L1003.5 419.3Z"/>
<path d="M1016.5 406.7L1028.1 418.3L1016.5 429.9L1004.9 418.3Z"/>
<path d="M1017.9 405.6L1029.5 417.2L1017.9 428.8L1006.3 417.2Z"/>
<path d="M1019.4 404.5L1031.0 416.1L1019.4 427.7L1007.8 416.1Z"/>
<path d="M1020.8 403.4L1032.4 415.0L1020.8 426.6L1009.2 415.0Z"/>
<path d="M1022.3 402.3L1033.9 413.9L1022.3 425.5L1010.7 413.9Z"/>
<path d="M1023.7 401.2L1035.3 412.8L1023.7 424.4L1012.1 412.8Z"/>
<path d="M1025.2 400.0L1036.8 411.6L1025.2 423.2L1013.6 411.6Z"/>
<path d="M1026.7 398.9L1038.3 410.5L1026.7 422.1L1015.1 410.5Z"/>
<path d="M1028.2 397.6L1039.8 409.2L1028.2 420.8L1016.6 409.2Z"/>
<path d="M1029.7 396.5L1041.3 408.1L1029.7 419.7L1018.1 408.1Z"/>
<path d="M1031.2 395.4L1042.8 407.0L1031.2 418.6L1019.6 407.0Z"/>
<path d="M1032.7 394.2L1044.3 405.8L1032.7 417.4L1021.1 405.8Z"/>
<path d="M1034.3 393.2L1045.9 404.8L1034.3 416.4L1022.7 404.8Z"/>
<path d="M1035.8 392.2L1047.4 403.8L1035.8 415.4L1024.2 403.8Z"/>
<path d="M1037.4 391.1L1049.0 402.7L1037.4 414.3L1025.8 402.7Z"/>
<path d="M1038.9 390.2L1050.5 401.8L1038.9 413.4L1027.3 401.8Z"/>
<path d="M1040.5 389.2L1052.1 400.8L1040.5 412.4L1028.9 400.8Z"/>
<path d="M1042.1 388.4L1053.7 400.0L1042.1 411.6L1030.5 400.0Z"/>
<path d="M1043.7 387.4L1055.3 399.0L1043.7 410.6L1032.1 399.0Z"/>
<path d="M1045.3 386.6L1056.9 398.2L1045.3 409.8L1033.7 398.2Z"/>
<path d="M1046.9 385.8L1058.5 397.4L1046.9 409.0L1035.3 397.4Z"/>
<path d="M1048.5 385.1L1060.1 396.7L1048.5 408.3L1036.9 396.7Z"/>
<path d="M1050.1 384.1L1061.7 395.7L1050.1 407.3L1038.5 395.7Z"/>
<path d="M1051.8 383.4L1063.4 395.0L1051.8 406.6L1040.2 395.0Z"/>
<path d="M1053.4 382.7L1065.0 394.3L1053.4 405.9L1041.8 394.3Z"/>
<path d="M1055.1 381.8L1066.7 393.4L1055.1 405.0L1043.5 393.4Z"/>
<path d="M1056.7 381.0L1068.3 392.6L1056.7 404.2L1045.1 392.6Z"/>
<path d="M1058.5 380.2L1070.1 391.8L1058.5 403.4L1046.9 391.8Z"/>
<path d="M1060.2 379.2L1071.8 390.8L1060.2 402.4L1048.6 390.8Z"/>
<path d="M1061.9 378.5L1073.5 390.1L1061.9 401.7L1050.3 390.1Z"/>
<path d="M1063.6 377.8L1075.2 389.4L1063.6 401.0L1052.0 389.4Z"/>
<path d="M1065.3 376.8L1076.9 388.4L1065.3 400.0L1053.7 388.4Z"/>
<path d="M1067.1 375.7L1078.7 387.3L1067.1 398.9L1055.5 387.3Z"/>
<path d="M1068.8 374.8L1080.4 386.4L1068.8 398.0L1057.2 386.4Z"/>
<path d="M1070.6 373.9L1082.2 385.5L1070.6 397.1L1059.0 385.5Z"/>
<path d="M1072.4 373.1L1084.0 384.7L1072.4 396.3L1060.8 384.7Z"/>
<path d="M1074.2 371.9L1085.8 383.5L1074.2 395.1L1062.6 383.5Z"/>
<path d="M1076.0 371.0L1087.6 382.6L1076.0 394.2L1064.4 382.6Z"/>
<path d="M1077.8 370.3L1089.4 381.9L1077.8 393.5L1066.2 381.9Z"/>
<path d="M1079.6 369.3L1091.2 380.9L1079.6 392.5L1068.0 380.9Z"/>
<path d="M1081.5 368.1L1093.1 379.7L1081.5 391.3L1069.9 379.7Z"/>
<path d="M1083.3 367.0L1094.9 378.6L1083.3 390.2L1071.7 378.6Z"/>
<path d="M1085.1 365.8L1096.7 377.4L1085.1 389.0L1073.5 377.4Z"/>
<path d="M1087.1 364.9L1098.7 376.5L1087.1 388.1L1075.5 376.5Z"/>
<path d="M1089.0 363.7L1100.6 375.3L1089.0 386.9L1077.4 375.3Z"/>
<path d="M1090.9 363.1L1102.5 374.7L1090.9 386.3L1079.3 374.7Z"/>
<path d="M1092.8 361.7L1104.4 373.3L1092.8 384.9L1081.2 373.3Z"/>
<path d="M1094.7 360.7L1106.3 372.3L1094.7 383.9L1083.1 372.3Z"/>
<path d="M1096.8 359.7L1108.4 371.3L1096.8 382.9L1085.2 371.3Z"/>
<path d="M1098.8 358.1L1110.4 369.7L1098.8 381.3L1087.2 369.7Z"/>
<path d="M1100.7 356.2L1112.3 367.8L1100.7 379.4L1089.1 367.8Z"/>
<path d="M1102.6 355.3L1114.2 366.9L1102.6 378.5L1091.0 366.9Z"/>
<path d="M1104.8 354.1L1116.4 365.7L1104.8 377.3L1093.2 365.7Z"/>
<path d="M1106.7 352.3L1118.3 363.9L1106.7 375.5L1095.1 363.9Z"/>
<path d="M1108.7 350.9L1120.3 362.5L1108.7 374.1L1097.1 362.5Z"/>
<path d="M1110.8 349.7L1122.4 361.3L1110.8 372.9L1099.2 361.3Z"/>
<path d="M1112.8 347.7L1124.4 359.3L1112.8 370.9L1101.2 359.3Z"/>
<path d="M1115.0 347.1L1126.6 358.7L1115.0 370.3L1103.4 358.7Z"/>
<path d="M1117.0 344.3L1128.6 355.9L1117.0 367.5L1105.4 355.9Z"/>
<path d="M1119.3 343.2L1130.9 354.8L1119.3 366.4L1107.7 354.8Z"/>
<path d="M1121.1 341.8L1132.7 353.4L1121.1 365.0L1109.5 353.4Z"/>
<path d="M1123.5 340.1L1135.1 351.7L1123.5 363.3L1111.9 351.7Z"/>
<path d="M1125.4 338.1L1137.0 349.7L1125.4 361.3L1113.8 349.7Z"/>
<path d="M1127.9 336.0L1139.5 347.6L1127.9 359.2L1116.3 347.6Z"/>
<path d="M1129.9 333.6L1141.5 345.2L1129.9 356.8L1118.3 345.2Z"/>
<path d="M1132.1 331.6L1143.7 343.2L1132.1 354.8L1120.5 343.2Z"/>
<path d="M1134.5 327.9L1146.1 339.5L1134.5 351.1L1122.9 339.5Z"/>
<path d="M1136.8 326.4L1148.4 338.0L1136.8 349.6L1125.2 338.0Z"/>
<path d="M1138.7 323.5L1150.3 335.1L1138.7 346.7L1127.1 335.1Z"/>
<path d="M1141.1 321.1L1152.7 332.7L1141.1 344.3L1129.5 332.7Z"/>
<path d="M1143.2 319.0L1154.8 330.6L1143.2 342.2L1131.6 330.6Z"/>
<path d="M1145.8 315.8L1157.4 327.4L1145.8 339.0L1134.2 327.4Z"/>
<path d="M1148.1 313.3L1159.7 324.9L1148.1 336.5L1136.5 324.9Z"/>
<path d="M1150.4 311.5L1162.0 323.1L1150.4 334.7L1138.8 323.1Z"/>
<path d="M1152.7 308.9L1164.3 320.5L1152.7 332.1L1141.1 320.5Z"/>
<path d="M1155.1 305.9L1166.7 317.5L1155.1 329.1L1143.5 317.5Z"/>
<path d="M1157.4 305.3L1169.0 316.9L1157.4 328.5L1145.8 316.9Z"/>
<path d="M1160.1 303.3L1171.7 314.9L1160.1 326.5L1148.5 314.9Z"/>
<path d="M1162.7 299.3L1174.3 310.9L1162.7 322.5L1151.1 310.9Z"/>
<path d="M1164.5 298.0L1176.1 309.6L1164.5 321.2L1152.9 309.6Z"/>
<path d="M1167.4 297.4L1179.0 309.0L1167.4 320.6L1155.8 309.0Z"/>
<path d="M1169.8 294.3L1181.4 305.9L1169.8 317.5L1158.2 305.9Z"/>
<path d="M1172.5 291.5L1184.1 303.1L1172.5 314.7L1160.9 303.1Z"/>
<path d="M1174.8 288.4L1186.4 300.0L1174.8 311.6L1163.2 300.0Z"/>
<path d="M1177.5 285.6L1189.1 297.2L1177.5 308.8L1165.9 297.2Z"/>
<path d="M1179.9 282.3L1191.5 293.9L1179.9 305.5L1168.3 293.9Z"/>
<path d="M1182.9 278.5L1194.5 290.1L1182.9 301.7L1171.3 290.1Z"/>
<path d="M1185.0 275.5L1196.6 287.1L1185.0 298.7L1173.4 287.1Z"/>
<path d="M1188.0 270.8L1199.6 282.4L1188.0 294.0L1176.4 282.4Z"/>
<path d="M1190.1 267.8L1201.7 279.4L1190.1 291.0L1178.5 279.4Z"/>
<path d="M1193.3 262.1L1204.9 273.7L1193.3 285.3L1181.7 273.7Z"/>
<path d="M1194.6 259.5L1206.2 271.1L1194.6 282.7L1183.0 271.1Z"/>
<path d="M1199.0 254.3L1210.6 265.9L1199.0 277.5L1187.4 265.9Z"/>
<path d="M1200.3 251.3L1211.9 262.9L1200.3 274.5L1188.7 262.9Z"/>
<path d="M1204.4 246.8L1216.0 258.4L1204.4 270.0L1192.8 258.4Z"/>
<path d="M1205.8 243.3L1217.4 254.9L1205.8 266.5L1194.2 254.9Z"/>
<path d="M1210.5 237.9L1222.1 249.5L1210.5 261.1L1198.9 249.5Z"/>
<path d="M1210.4 235.1L1222.0 246.7L1210.4 258.3L1198.8 246.7Z"/>
<path d="M1215.6 229.2L1227.2 240.8L1215.6 252.4L1204.0 240.8Z"/>
<path d="M1216.7 225.6L1228.3 237.2L1216.7 248.8L1205.1 237.2Z"/>
<path d="M1222.2 219.7L1233.8 231.3L1222.2 242.9L1210.6 231.3Z"/>
<path d="M1221.5 217.6L1233.1 229.2L1221.5 240.8L1209.9 229.2Z"/>
<path d="M1227.2 209.0L1238.8 220.6L1227.2 232.2L1215.6 220.6Z"/>
<path d="M1227.1 208.2L1238.7 219.8L1227.1 231.4L1215.5 219.8Z"/>
<path d="M1233.5 199.7L1245.1 211.3L1233.5 222.9L1221.9 211.3Z"/>
<path d="M1232.4 194.7L1244.0 206.3L1232.4 217.9L1220.8 206.3Z"/>
<path d="M1239.9 186.8L1251.5 198.4L1239.9 210.0L1228.3 198.4Z"/>
<path d="M1238.4 181.9L1250.0 193.5L1238.4 205.1L1226.8 193.5Z"/>
<path d="M1245.6 173.0L1257.2 184.6L1245.6 196.2L1234.0 184.6Z"/>
<path d="M1245.2 167.4L1256.8 179.0L1245.2 190.6L1233.6 179.0Z"/>
<path d="M1252.2 160.1L1263.8 171.7L1252.2 183.3L1240.6 171.7Z"/>
<path d="M1250.8 153.3L1262.4 164.9L1250.8 176.5L1239.2 164.9Z"/>
<path d="M1259.4 142.3L1271.0 153.9L1259.4 165.5L1247.8 153.9Z"/>
<path d="M1257.4 141.6L1269.0 153.2L1257.4 164.8L1245.8 153.2Z"/>
<path d="M1265.5 129.6L1277.1 141.2L1265.5 152.8L1253.9 141.2Z"/>
<path d="M1263.3 130.4L1274.9 142.0L1263.3 153.6L1251.7 142.0Z"/>
<path d="M1272.0 122.3L1283.6 133.9L1272.0 145.5L1260.4 133.9Z"/>
<path d="M1270.6 118.7L1282.2 130.3L1270.6 141.9L1259.0 130.3Z"/>
<path d="M1279.7 105.6L1291.3 117.2L1279.7 128.8L1268.1 117.2Z"/>
<path d="M1275.6 103.1L1287.2 114.7L1275.6 126.3L1264.0 114.7Z"/>
<path d="M1286.4 95.0L1298.0 106.6L1286.4 118.2L1274.8 106.6Z"/>
<path d="M1283.2 90.1L1294.8 101.7L1283.2 113.3L1271.6 101.7Z"/>
<path d="M1293.8 78.5L1305.4 90.1L1293.8 101.7L1282.2 90.1Z"/>
<path d="M1290.7 79.3L1302.3 90.9L1290.7 102.5L1279.1 90.9Z"/>
<path d="M1301.7 72.6L1313.3 84.2L1301.7 95.8L1290.1 84.2Z"/>
<path d="M1296.2 69.5L1307.8 81.1L1296.2 92.7L1284.6 81.1Z"/>
<path d="M1308.2 53.9L1319.8 65.5L1308.2 77.1L1296.6 65.5Z"/>
<path d="M1303.2 47.8L1314.8 59.4L1303.2 71.0L1291.6 59.4Z"/>
<path d="M1316.1 30.7L1327.7 42.3L1316.1 53.9L1304.5 42.3Z"/>
</g>
<path d="M1311 18L1146.6 457" stroke="#f00" stroke-width="2.6" stroke-linecap="round" fill="none"/>
<path d="M1135.7 486L1140.1 447.6L1146.6 457L1157.6 454.1Z" fill="#f00" stroke="#f00" stroke-width="1.5" stroke-linejoin="round"/>
<text x="796.2" y="510.8" font-size="32" text-anchor="middle" font-weight="normal" fill="#000" >2</text>
<text x="919.9" y="510.8" font-size="32" text-anchor="middle" font-weight="normal" fill="#000" >3</text>
<text x="1043.7" y="510.8" font-size="32" text-anchor="middle" font-weight="normal" fill="#000" >4</text>
<text x="1167.4" y="510.8" font-size="32" text-anchor="middle" font-weight="normal" fill="#000" >5</text>
<text x="1291.1" y="510.8" font-size="32" text-anchor="middle" font-weight="normal" fill="#000" >6</text>
<text x="925.8" y="61.7" font-size="37" text-anchor="start" font-weight="bold" fill="#000" textLength="81.5" lengthAdjust="spacingAndGlyphs">S001</text>
<text x="724.3" y="31.2" font-size="36" text-anchor="start" font-weight="normal" fill="#000" >(b)</text>
<g transform="translate(755.3,320) rotate(-90)"><text x="-2" y="0" font-size="32">(</text><text x="7.3" y="0" font-size="28" font-family="IPAGothic, 'DejaVu Serif', serif">α</text><text x="31.4" y="0" font-size="32">h</text><text x="46" y="0" font-size="28" font-family="IPAGothic, 'DejaVu Serif', serif">υ</text><text x="69.6" y="0" font-size="32">)</text><text x="77.6" y="-18" font-size="20">2</text><text x="89" y="0" font-size="32" letter-spacing="1.28">(a.u.)</text></g>
<text x="1045.5" y="554.2" font-size="32">h</text><text x="1062.6" y="554.2" font-size="28" font-family="IPAGothic, 'DejaVu Serif', serif">υ</text><text x="1092.1" y="554.2" font-size="32" letter-spacing="1.73">(eV)</text>
<rect x="1497.4" y="3.2" width="556" height="480.8" fill="none" stroke="#000" stroke-width="3.3"/>
<path d="M1497.4 14.3h18M1497.4 41h9.5M1497.4 67.7h18M1497.4 94.4h9.5M1497.4 121.1h18M1497.4 147.8h9.5M1497.4 174.5h18M1497.4 201.2h9.5M1497.4 227.9h18M1497.4 254.6h9.5M1497.4 281.3h18M1497.4 308h9.5M1497.4 334.7h18M1497.4 361.4h9.5M1497.4 388.1h18M1497.4 414.8h9.5M1497.4 441.5h18M1497.4 468.2h9.5" stroke="#000" stroke-width="3.2" fill="none"/>
<path d="M1497.4 484v-17M1522.1 484v-9.5M1546.8 484v-9.5M1571.5 484v-9.5M1596.2 484v-9.5M1621 484v-17M1645.7 484v-9.5M1670.4 484v-9.5M1695.1 484v-9.5M1719.8 484v-9.5M1744.5 484v-17M1769.2 484v-9.5M1793.9 484v-9.5M1818.6 484v-9.5M1843.4 484v-9.5M1868.1 484v-17M1892.8 484v-9.5M1917.5 484v-9.5M1942.2 484v-9.5M1966.9 484v-9.5M1991.6 484v-17M2016.3 484v-9.5M2041 484v-9.5" stroke="#000" stroke-width="3.2" fill="none"/>
<clipPath id="cc"><rect x="1496" y="1.8" width="558.8" height="483.6"/></clipPath>
<g clip-path="url(#cc)" fill="#fff" stroke="#0000ff" stroke-width="1.15" stroke-linejoin="miter">
<path stroke-width="2.15" d="M1497.4 475.4L1488.2 480.7L1488.2 491.3L1497.4 496.6L1506.6 491.3L1506.6 480.7Z"/>
<path stroke-width="2.15" d="M1497.8 475.4L1488.6 480.7L1488.6 491.3L1497.8 496.6L1507.0 491.3L1507.0 480.7Z"/>
<path stroke-width="2.15" d="M1498.2 475.4L1489.0 480.7L1489.0 491.3L1498.2 496.6L1507.4 491.3L1507.4 480.7Z"/>
<path stroke-width="2.15" d="M1498.6 475.4L1489.4 480.7L1489.4 491.3L1498.6 496.6L1507.8 491.3L1507.8 480.7Z"/>
<path stroke-width="2.15" d="M1499.0 475.4L1489.8 480.7L1489.8 491.3L1499.0 496.6L1508.2 491.3L1508.2 480.7Z"/>
<path stroke-width="2.15" d="M1499.4 475.4L1490.2 480.7L1490.2 491.3L1499.4 496.6L1508.6 491.3L1508.6 480.7Z"/>
<path stroke-width="2.15" d="M1499.8 475.4L1490.6 480.7L1490.6 491.3L1499.8 496.6L1509.0 491.3L1509.0 480.7Z"/>
<path stroke-width="2.15" d="M1500.2 475.4L1491.0 480.7L1491.0 491.3L1500.2 496.6L1509.4 491.3L1509.4 480.7Z"/>
<path stroke-width="2.15" d="M1500.6 475.4L1491.5 480.7L1491.5 491.3L1500.6 496.6L1509.8 491.3L1509.8 480.7Z"/>
<path stroke-width="2.15" d="M1501.0 475.3L1491.9 480.6L1491.9 491.2L1501.0 496.5L1510.2 491.2L1510.2 480.6Z"/>
<path stroke-width="2.15" d="M1501.5 475.3L1492.3 480.6L1492.3 491.2L1501.5 496.5L1510.6 491.2L1510.6 480.6Z"/>
<path stroke-width="2.15" d="M1501.9 475.3L1492.7 480.6L1492.7 491.2L1501.9 496.5L1511.0 491.2L1511.0 480.6Z"/>
<path stroke-width="2.15" d="M1502.3 475.3L1493.1 480.6L1493.1 491.2L1502.3 496.5L1511.5 491.2L1511.5 480.6Z"/>
<path stroke-width="2.15" d="M1502.7 475.3L1493.5 480.6L1493.5 491.2L1502.7 496.5L1511.9 491.2L1511.9 480.6Z"/>
<path stroke-width="2.15" d="M1503.1 475.3L1493.9 480.6L1493.9 491.2L1503.1 496.5L1512.3 491.2L1512.3 480.6Z"/>
<path stroke-width="2.15" d="M1503.5 475.3L1494.3 480.6L1494.3 491.2L1503.5 496.5L1512.7 491.2L1512.7 480.6Z"/>
<path stroke-width="2.15" d="M1503.9 475.3L1494.8 480.6L1494.8 491.2L1503.9 496.5L1513.1 491.2L1513.1 480.6Z"/>
<path stroke-width="2.15" d="M1504.4 475.2L1495.2 480.5L1495.2 491.1L1504.4 496.4L1513.5 491.1L1513.5 480.5Z"/>
<path stroke-width="2.15" d="M1504.8 475.2L1495.6 480.5L1495.6 491.1L1504.8 496.4L1514.0 491.1L1514.0 480.5Z"/>
<path stroke-width="2.15" d="M1505.2 475.2L1496.0 480.5L1496.0 491.1L1505.2 496.4L1514.4 491.1L1514.4 480.5Z"/>
<path stroke-width="2.15" d="M1505.6 475.2L1496.5 480.5L1496.5 491.1L1505.6 496.4L1514.8 491.1L1514.8 480.5Z"/>
<path stroke-width="2.15" d="M1506.1 475.2L1496.9 480.5L1496.9 491.1L1506.1 496.4L1515.2 491.1L1515.2 480.5Z"/>
<path stroke-width="2.15" d="M1506.5 475.1L1497.3 480.4L1497.3 491.0L1506.5 496.3L1515.7 491.0L1515.7 480.4Z"/>
<path stroke-width="2.15" d="M1506.9 475.1L1497.7 480.4L1497.7 491.0L1506.9 496.3L1516.1 491.0L1516.1 480.4Z"/>
<path stroke-width="2.15" d="M1507.4 475.1L1498.2 480.4L1498.2 491.0L1507.4 496.3L1516.5 491.0L1516.5 480.4Z"/>
<path stroke-width="2.15" d="M1507.8 475.1L1498.6 480.4L1498.6 491.0L1507.8 496.3L1517.0 491.0L1517.0 480.4Z"/>
<path stroke-width="2.15" d="M1508.2 475.1L1499.0 480.4L1499.0 491.0L1508.2 496.3L1517.4 491.0L1517.4 480.4Z"/>
<path stroke-width="2.15" d="M1508.7 475.0L1499.5 480.3L1499.5 490.9L1508.7 496.2L1517.8 490.9L1517.8 480.3Z"/>
<path stroke-width="2.15" d="M1509.1 475.0L1499.9 480.3L1499.9 490.9L1509.1 496.2L1518.3 490.9L1518.3 480.3Z"/>
<path stroke-width="2.15" d="M1509.5 475.0L1500.3 480.3L1500.3 490.9L1509.5 496.2L1518.7 490.9L1518.7 480.3Z"/>
<path stroke-width="2.15" d="M1510.0 475.0L1500.8 480.3L1500.8 490.9L1510.0 496.2L1519.1 490.9L1519.1 480.3Z"/>
<path stroke-width="2.15" d="M1510.4 475.0L1501.2 480.3L1501.2 490.9L1510.4 496.2L1519.6 490.9L1519.6 480.3Z"/>
<path stroke-width="2.15" d="M1510.8 474.9L1501.7 480.2L1501.7 490.8L1510.8 496.1L1520.0 490.8L1520.0 480.2Z"/>
<path stroke-width="2.15" d="M1511.3 474.9L1502.1 480.2L1502.1 490.8L1511.3 496.1L1520.5 490.8L1520.5 480.2Z"/>
<path stroke-width="2.15" d="M1511.7 474.9L1502.6 480.2L1502.6 490.8L1511.7 496.1L1520.9 490.8L1520.9 480.2Z"/>
<path stroke-width="2.15" d="M1512.2 474.9L1503.0 480.2L1503.0 490.8L1512.2 496.1L1521.4 490.8L1521.4 480.2Z"/>
<path stroke-width="2.15" d="M1512.6 474.8L1503.5 480.1L1503.5 490.7L1512.6 496.0L1521.8 490.7L1521.8 480.1Z"/>
<path stroke-width="2.15" d="M1513.1 474.8L1503.9 480.1L1503.9 490.7L1513.1 496.0L1522.3 490.7L1522.3 480.1Z"/>
<path stroke-width="2.15" d="M1513.5 474.8L1504.4 480.1L1504.4 490.7L1513.5 496.0L1522.7 490.7L1522.7 480.1Z"/>
<path stroke-width="2.15" d="M1514.0 474.7L1504.8 480.0L1504.8 490.6L1514.0 495.9L1523.2 490.6L1523.2 480.0Z"/>
<path stroke-width="2.15" d="M1514.4 474.7L1505.3 480.0L1505.3 490.6L1514.4 495.9L1523.6 490.6L1523.6 480.0Z"/>
<path stroke-width="2.15" d="M1514.9 474.7L1505.7 480.0L1505.7 490.6L1514.9 495.9L1524.1 490.6L1524.1 480.0Z"/>
<path stroke-width="2.15" d="M1515.4 474.7L1506.2 480.0L1506.2 490.6L1515.4 495.9L1524.5 490.6L1524.5 480.0Z"/>
<path stroke-width="2.15" d="M1515.8 474.6L1506.6 479.9L1506.6 490.5L1515.8 495.8L1525.0 490.5L1525.0 479.9Z"/>
<path stroke-width="2.15" d="M1516.3 474.6L1507.1 479.9L1507.1 490.5L1516.3 495.8L1525.5 490.5L1525.5 479.9Z"/>
<path stroke-width="2.15" d="M1516.7 474.6L1507.6 479.9L1507.6 490.5L1516.7 495.8L1525.9 490.5L1525.9 479.9Z"/>
<path stroke-width="2.15" d="M1517.2 474.5L1508.0 479.8L1508.0 490.4L1517.2 495.7L1526.4 490.4L1526.4 479.8Z"/>
<path stroke-width="2.15" d="M1517.7 474.5L1508.5 479.8L1508.5 490.4L1517.7 495.7L1526.8 490.4L1526.8 479.8Z"/>
<path stroke-width="2.15" d="M1518.1 474.5L1509.0 479.8L1509.0 490.4L1518.1 495.7L1527.3 490.4L1527.3 479.8Z"/>
<path stroke-width="2.15" d="M1518.6 474.4L1509.4 479.7L1509.4 490.3L1518.6 495.6L1527.8 490.3L1527.8 479.7Z"/>
<path stroke-width="2.15" d="M1519.1 474.4L1509.9 479.7L1509.9 490.3L1519.1 495.6L1528.3 490.3L1528.3 479.7Z"/>
<path stroke-width="2.15" d="M1519.5 474.4L1510.4 479.7L1510.4 490.3L1519.5 495.6L1528.7 490.3L1528.7 479.7Z"/>
<path stroke-width="2.15" d="M1520.0 474.3L1510.8 479.6L1510.8 490.2L1520.0 495.5L1529.2 490.2L1529.2 479.6Z"/>
<path stroke-width="2.15" d="M1520.5 474.3L1511.3 479.6L1511.3 490.2L1520.5 495.5L1529.7 490.2L1529.7 479.6Z"/>
<path stroke-width="2.15" d="M1521.0 474.2L1511.8 479.5L1511.8 490.1L1521.0 495.4L1530.2 490.1L1530.2 479.5Z"/>
<path stroke-width="2.15" d="M1521.5 474.2L1512.3 479.5L1512.3 490.1L1521.5 495.4L1530.6 490.1L1530.6 479.5Z"/>
<path stroke-width="2.15" d="M1521.9 474.2L1512.8 479.5L1512.8 490.1L1521.9 495.4L1531.1 490.1L1531.1 479.5Z"/>
<path stroke-width="2.15" d="M1522.4 474.1L1513.2 479.4L1513.2 490.0L1522.4 495.3L1531.6 490.0L1531.6 479.4Z"/>
<path stroke-width="2.15" d="M1522.9 474.1L1513.7 479.4L1513.7 490.0L1522.9 495.3L1532.1 490.0L1532.1 479.4Z"/>
<path stroke-width="2.15" d="M1523.4 474.0L1514.2 479.3L1514.2 489.9L1523.4 495.2L1532.6 489.9L1532.6 479.3Z"/>
<path stroke-width="2.15" d="M1523.9 474.0L1514.7 479.3L1514.7 489.9L1523.9 495.2L1533.1 489.9L1533.1 479.3Z"/>
<path stroke-width="2.15" d="M1524.4 474.0L1515.2 479.3L1515.2 489.9L1524.4 495.2L1533.5 489.9L1533.5 479.3Z"/>
<path stroke-width="2.15" d="M1524.9 473.9L1515.7 479.2L1515.7 489.8L1524.9 495.1L1534.0 489.8L1534.0 479.2Z"/>
<path stroke-width="2.15" d="M1525.3 473.9L1516.2 479.2L1516.2 489.8L1525.3 495.1L1534.5 489.8L1534.5 479.2Z"/>
<path stroke-width="2.15" d="M1525.8 473.8L1516.7 479.1L1516.7 489.7L1525.8 495.0L1535.0 489.7L1535.0 479.1Z"/>
<path stroke-width="2.15" d="M1526.3 473.8L1517.2 479.1L1517.2 489.7L1526.3 495.0L1535.5 489.7L1535.5 479.1Z"/>
<path stroke-width="2.15" d="M1526.8 473.7L1517.7 479.0L1517.7 489.6L1526.8 494.9L1536.0 489.6L1536.0 479.0Z"/>
<path stroke-width="2.15" d="M1527.3 473.7L1518.2 479.0L1518.2 489.6L1527.3 494.9L1536.5 489.6L1536.5 479.0Z"/>
<path stroke-width="2.15" d="M1527.8 473.7L1518.7 479.0L1518.7 489.6L1527.8 494.9L1537.0 489.6L1537.0 479.0Z"/>
<path stroke-width="2.15" d="M1528.3 473.6L1519.2 478.9L1519.2 489.5L1528.3 494.8L1537.5 489.5L1537.5 478.9Z"/>
<path stroke-width="2.15" d="M1528.9 473.6L1519.7 478.9L1519.7 489.5L1528.9 494.8L1538.0 489.5L1538.0 478.9Z"/>
<path stroke-width="2.15" d="M1529.4 473.5L1520.2 478.8L1520.2 489.4L1529.4 494.7L1538.5 489.4L1538.5 478.8Z"/>
<path stroke-width="2.15" d="M1529.9 473.5L1520.7 478.8L1520.7 489.4L1529.9 494.7L1539.0 489.4L1539.0 478.8Z"/>
<path stroke-width="2.15" d="M1530.4 473.4L1521.2 478.7L1521.2 489.3L1530.4 494.6L1539.6 489.3L1539.6 478.7Z"/>
<path stroke-width="2.15" d="M1530.9 473.4L1521.7 478.7L1521.7 489.3L1530.9 494.6L1540.1 489.3L1540.1 478.7Z"/>
<path stroke-width="2.15" d="M1531.4 473.3L1522.2 478.6L1522.2 489.2L1531.4 494.5L1540.6 489.2L1540.6 478.6Z"/>
<path stroke-width="2.15" d="M1531.9 473.3L1522.7 478.6L1522.7 489.2L1531.9 494.5L1541.1 489.2L1541.1 478.6Z"/>
<path stroke-width="2.15" d="M1532.4 473.2L1523.3 478.5L1523.3 489.1L1532.4 494.4L1541.6 489.1L1541.6 478.5Z"/>
<path stroke-width="2.15" d="M1533.0 473.2L1523.8 478.5L1523.8 489.1L1533.0 494.4L1542.1 489.1L1542.1 478.5Z"/>
<path stroke-width="2.15" d="M1533.5 473.1L1524.3 478.4L1524.3 489.0L1533.5 494.3L1542.7 489.0L1542.7 478.4Z"/>
<path stroke-width="2.15" d="M1534.0 473.1L1524.8 478.4L1524.8 489.0L1534.0 494.3L1543.2 489.0L1543.2 478.4Z"/>
<path stroke-width="2.15" d="M1534.5 473.0L1525.4 478.3L1525.4 488.9L1534.5 494.2L1543.7 488.9L1543.7 478.3Z"/>
<path stroke-width="2.15" d="M1535.1 473.0L1525.9 478.3L1525.9 488.9L1535.1 494.2L1544.2 488.9L1544.2 478.3Z"/>
<path stroke-width="2.15" d="M1535.6 472.9L1526.4 478.2L1526.4 488.8L1535.6 494.1L1544.8 488.8L1544.8 478.2Z"/>
<path stroke-width="2.15" d="M1536.1 472.9L1526.9 478.2L1526.9 488.8L1536.1 494.1L1545.3 488.8L1545.3 478.2Z"/>
<path stroke-width="2.15" d="M1536.7 472.8L1527.5 478.1L1527.5 488.7L1536.7 494.0L1545.8 488.7L1545.8 478.1Z"/>
<path stroke-width="2.15" d="M1537.2 472.7L1528.0 478.0L1528.0 488.6L1537.2 493.9L1546.4 488.6L1546.4 478.0Z"/>
<path stroke-width="2.15" d="M1537.7 472.7L1528.6 478.0L1528.6 488.6L1537.7 493.9L1546.9 488.6L1546.9 478.0Z"/>
<path stroke-width="2.15" d="M1538.3 472.6L1529.1 477.9L1529.1 488.5L1538.3 493.8L1547.5 488.5L1547.5 477.9Z"/>
<path stroke-width="2.15" d="M1538.8 472.6L1529.6 477.9L1529.6 488.5L1538.8 493.8L1548.0 488.5L1548.0 477.9Z"/>
<path stroke-width="2.15" d="M1539.4 472.5L1530.2 477.8L1530.2 488.4L1539.4 493.7L1548.5 488.4L1548.5 477.8Z"/>
<path stroke-width="2.15" d="M1539.9 472.5L1530.7 477.8L1530.7 488.4L1539.9 493.7L1549.1 488.4L1549.1 477.8Z"/>
<path stroke-width="2.15" d="M1540.5 472.4L1531.3 477.7L1531.3 488.3L1540.5 493.6L1549.6 488.3L1549.6 477.7Z"/>
<path stroke-width="2.15" d="M1541.0 472.4L1531.8 477.7L1531.8 488.3L1541.0 493.6L1550.2 488.3L1550.2 477.7Z"/>
<path stroke-width="2.14" d="M1541.6 472.3L1532.4 477.6L1532.4 488.2L1541.6 493.5L1550.7 488.2L1550.7 477.6Z"/>
<path stroke-width="2.14" d="M1542.1 472.2L1532.9 477.5L1532.9 488.1L1542.1 493.4L1551.3 488.1L1551.3 477.5Z"/>
<path stroke-width="2.13" d="M1542.7 472.2L1533.5 477.5L1533.5 488.1L1542.7 493.4L1551.9 488.1L1551.9 477.5Z"/>
<path stroke-width="2.13" d="M1543.2 472.1L1534.1 477.4L1534.1 488.0L1543.2 493.3L1552.4 488.0L1552.4 477.4Z"/>
<path stroke-width="2.12" d="M1543.8 472.1L1534.6 477.4L1534.6 488.0L1543.8 493.3L1553.0 488.0L1553.0 477.4Z"/>
<path stroke-width="2.12" d="M1544.4 472.0L1535.2 477.3L1535.2 487.9L1544.4 493.2L1553.5 487.9L1553.5 477.3Z"/>
<path stroke-width="2.11" d="M1544.9 471.9L1535.7 477.2L1535.7 487.8L1544.9 493.1L1554.1 487.8L1554.1 477.2Z"/>
<path stroke-width="2.11" d="M1545.5 471.9L1536.3 477.2L1536.3 487.8L1545.5 493.1L1554.7 487.8L1554.7 477.2Z"/>
<path stroke-width="2.10" d="M1546.1 471.8L1536.9 477.1L1536.9 487.7L1546.1 493.0L1555.2 487.7L1555.2 477.1Z"/>
<path stroke-width="2.10" d="M1546.6 471.8L1537.5 477.1L1537.5 487.7L1546.6 493.0L1555.8 487.7L1555.8 477.1Z"/>
<path stroke-width="2.09" d="M1547.2 471.7L1538.0 477.0L1538.0 487.6L1547.2 492.9L1556.4 487.6L1556.4 477.0Z"/>
<path stroke-width="2.09" d="M1547.8 471.6L1538.6 476.9L1538.6 487.5L1547.8 492.8L1557.0 487.5L1557.0 476.9Z"/>
<path stroke-width="2.08" d="M1548.4 471.5L1539.2 476.8L1539.2 487.4L1548.4 492.7L1557.5 487.4L1557.5 476.8Z"/>
<path stroke-width="2.08" d="M1548.9 471.5L1539.8 476.8L1539.8 487.4L1548.9 492.7L1558.1 487.4L1558.1 476.8Z"/>
<path stroke-width="2.07" d="M1549.5 471.4L1540.3 476.7L1540.3 487.3L1549.5 492.6L1558.7 487.3L1558.7 476.7Z"/>
<path stroke-width="2.06" d="M1550.1 471.3L1540.9 476.6L1540.9 487.2L1550.1 492.5L1559.3 487.2L1559.3 476.6Z"/>
<path stroke-width="2.06" d="M1550.7 471.2L1541.5 476.5L1541.5 487.1L1550.7 492.4L1559.9 487.1L1559.9 476.5Z"/>
<path stroke-width="2.05" d="M1551.3 471.2L1542.1 476.5L1542.1 487.1L1551.3 492.4L1560.5 487.1L1560.5 476.5Z"/>
<path stroke-width="2.05" d="M1551.9 471.1L1542.7 476.4L1542.7 487.0L1551.9 492.3L1561.1 487.0L1561.1 476.4Z"/>
<path stroke-width="2.04" d="M1552.5 471.0L1543.3 476.3L1543.3 486.9L1552.5 492.2L1561.7 486.9L1561.7 476.3Z"/>
<path stroke-width="2.04" d="M1553.1 470.9L1543.9 476.2L1543.9 486.8L1553.1 492.1L1562.3 486.8L1562.3 476.2Z"/>
<path stroke-width="2.03" d="M1553.7 470.8L1544.5 476.1L1544.5 486.7L1553.7 492.0L1562.9 486.7L1562.9 476.1Z"/>
<path stroke-width="2.03" d="M1554.3 470.7L1545.1 476.0L1545.1 486.6L1554.3 491.9L1563.5 486.6L1563.5 476.0Z"/>
<path stroke-width="2.02" d="M1554.9 470.7L1545.7 476.0L1545.7 486.6L1554.9 491.9L1564.1 486.6L1564.1 476.0Z"/>
<path stroke-width="2.02" d="M1555.5 470.6L1546.3 475.9L1546.3 486.5L1555.5 491.8L1564.7 486.5L1564.7 475.9Z"/>
<path stroke-width="2.01" d="M1556.1 470.5L1546.9 475.8L1546.9 486.4L1556.1 491.7L1565.3 486.4L1565.3 475.8Z"/>
<path stroke-width="2.01" d="M1556.7 470.4L1547.5 475.7L1547.5 486.3L1556.7 491.6L1565.9 486.3L1565.9 475.7Z"/>
<path stroke-width="2.00" d="M1557.3 470.3L1548.1 475.6L1548.1 486.2L1557.3 491.5L1566.5 486.2L1566.5 475.6Z"/>
<path stroke-width="1.99" d="M1557.9 470.2L1548.8 475.5L1548.8 486.1L1557.9 491.4L1567.1 486.1L1567.1 475.5Z"/>
<path stroke-width="1.99" d="M1558.6 470.1L1549.4 475.4L1549.4 486.0L1558.6 491.3L1567.7 486.0L1567.7 475.4Z"/>
<path stroke-width="1.98" d="M1559.2 470.0L1550.0 475.3L1550.0 485.9L1559.2 491.2L1568.4 485.9L1568.4 475.3Z"/>
<path stroke-width="1.98" d="M1559.8 469.9L1550.6 475.2L1550.6 485.8L1559.8 491.1L1569.0 485.8L1569.0 475.2Z"/>
<path stroke-width="1.97" d="M1560.4 469.8L1551.2 475.1L1551.2 485.7L1560.4 491.0L1569.6 485.7L1569.6 475.1Z"/>
<path stroke-width="1.97" d="M1561.1 469.6L1551.9 474.9L1551.9 485.5L1561.1 490.8L1570.2 485.5L1570.2 474.9Z"/>
<path stroke-width="1.96" d="M1561.7 469.5L1552.5 474.8L1552.5 485.4L1561.7 490.7L1570.9 485.4L1570.9 474.8Z"/>
<path stroke-width="1.96" d="M1562.3 469.4L1553.1 474.7L1553.1 485.3L1562.3 490.6L1571.5 485.3L1571.5 474.7Z"/>
<path stroke-width="1.95" d="M1563.0 469.3L1553.8 474.6L1553.8 485.2L1563.0 490.5L1572.1 485.2L1572.1 474.6Z"/>
<path stroke-width="1.94" d="M1563.6 469.2L1554.4 474.5L1554.4 485.1L1563.6 490.4L1572.8 485.1L1572.8 474.5Z"/>
<path stroke-width="1.94" d="M1564.2 469.1L1555.1 474.4L1555.1 485.0L1564.2 490.3L1573.4 485.0L1573.4 474.4Z"/>
<path stroke-width="1.93" d="M1564.9 468.9L1555.7 474.2L1555.7 484.8L1564.9 490.1L1574.1 484.8L1574.1 474.2Z"/>
<path stroke-width="1.93" d="M1565.5 468.8L1556.4 474.1L1556.4 484.7L1565.5 490.0L1574.7 484.7L1574.7 474.1Z"/>
<path stroke-width="1.92" d="M1566.2 468.7L1557.0 474.0L1557.0 484.6L1566.2 489.9L1575.4 484.6L1575.4 474.0Z"/>
<path stroke-width="1.91" d="M1566.8 468.6L1557.7 473.9L1557.7 484.5L1566.8 489.8L1576.0 484.5L1576.0 473.9Z"/>
<path stroke-width="1.91" d="M1567.5 468.4L1558.3 473.7L1558.3 484.3L1567.5 489.6L1576.7 484.3L1576.7 473.7Z"/>
<path stroke-width="1.90" d="M1568.1 468.3L1559.0 473.6L1559.0 484.2L1568.1 489.5L1577.3 484.2L1577.3 473.6Z"/>
<path stroke-width="1.90" d="M1568.8 468.2L1559.6 473.5L1559.6 484.1L1568.8 489.4L1578.0 484.1L1578.0 473.5Z"/>
<path stroke-width="1.89" d="M1569.5 468.1L1560.3 473.4L1560.3 484.0L1569.5 489.3L1578.7 484.0L1578.7 473.4Z"/>
<path stroke-width="1.88" d="M1570.1 467.9L1561.0 473.2L1561.0 483.8L1570.1 489.1L1579.3 483.8L1579.3 473.2Z"/>
<path stroke-width="1.88" d="M1570.8 467.8L1561.6 473.1L1561.6 483.7L1570.8 489.0L1580.0 483.7L1580.0 473.1Z"/>
<path stroke-width="1.87" d="M1571.5 467.6L1562.3 472.9L1562.3 483.5L1571.5 488.8L1580.7 483.5L1580.7 472.9Z"/>
<path stroke-width="1.87" d="M1572.2 467.5L1563.0 472.8L1563.0 483.4L1572.2 488.7L1581.3 483.4L1581.3 472.8Z"/>
<path stroke-width="1.86" d="M1572.8 467.4L1563.7 472.7L1563.7 483.3L1572.8 488.6L1582.0 483.3L1582.0 472.7Z"/>
<path stroke-width="1.85" d="M1573.5 467.2L1564.3 472.5L1564.3 483.1L1573.5 488.4L1582.7 483.1L1582.7 472.5Z"/>
<path stroke-width="1.85" d="M1574.2 467.1L1565.0 472.4L1565.0 483.0L1574.2 488.3L1583.4 483.0L1583.4 472.4Z"/>
<path stroke-width="1.84" d="M1574.9 466.9L1565.7 472.2L1565.7 482.8L1574.9 488.1L1584.1 482.8L1584.1 472.2Z"/>
<path stroke-width="1.84" d="M1575.6 466.8L1566.4 472.1L1566.4 482.7L1575.6 488.0L1584.8 482.7L1584.8 472.1Z"/>
<path stroke-width="1.83" d="M1576.3 466.6L1567.1 471.9L1567.1 482.5L1576.3 487.8L1585.4 482.5L1585.4 471.9Z"/>
<path stroke-width="1.82" d="M1577.0 466.5L1567.8 471.8L1567.8 482.4L1577.0 487.7L1586.1 482.4L1586.1 471.8Z"/>
<path stroke-width="1.82" d="M1577.7 466.3L1568.5 471.6L1568.5 482.2L1577.7 487.5L1586.8 482.2L1586.8 471.6Z"/>
<path stroke-width="1.81" d="M1578.4 466.2L1569.2 471.5L1569.2 482.1L1578.4 487.4L1587.5 482.1L1587.5 471.5Z"/>
<path stroke-width="1.80" d="M1579.1 466.0L1569.9 471.3L1569.9 481.9L1579.1 487.2L1588.2 481.9L1588.2 471.3Z"/>
<path stroke-width="1.80" d="M1579.8 465.8L1570.6 471.1L1570.6 481.7L1579.8 487.0L1589.0 481.7L1589.0 471.1Z"/>
<path stroke-width="1.79" d="M1580.5 465.7L1571.3 471.0L1571.3 481.6L1580.5 486.9L1589.7 481.6L1589.7 471.0Z"/>
<path stroke-width="1.79" d="M1581.2 465.5L1572.0 470.8L1572.0 481.4L1581.2 486.7L1590.4 481.4L1590.4 470.8Z"/>
<path stroke-width="1.78" d="M1581.9 465.4L1572.7 470.7L1572.7 481.3L1581.9 486.6L1591.1 481.3L1591.1 470.7Z"/>
<path stroke-width="1.77" d="M1582.6 465.2L1573.4 470.5L1573.4 481.1L1582.6 486.4L1591.8 481.1L1591.8 470.5Z"/>
<path stroke-width="1.77" d="M1583.4 465.0L1574.2 470.3L1574.2 480.9L1583.4 486.2L1592.5 480.9L1592.5 470.3Z"/>
<path stroke-width="1.76" d="M1584.1 464.9L1574.9 470.2L1574.9 480.8L1584.1 486.1L1593.3 480.8L1593.3 470.2Z"/>
<path stroke-width="1.75" d="M1584.8 464.7L1575.6 470.0L1575.6 480.6L1584.8 485.9L1594.0 480.6L1594.0 470.0Z"/>
<path stroke-width="1.75" d="M1585.5 464.5L1576.4 469.8L1576.4 480.4L1585.5 485.7L1594.7 480.4L1594.7 469.8Z"/>
<path stroke-width="1.74" d="M1586.3 464.4L1577.1 469.7L1577.1 480.3L1586.3 485.6L1595.5 480.3L1595.5 469.7Z"/>
<path stroke-width="1.73" d="M1587.0 464.2L1577.8 469.5L1577.8 480.1L1587.0 485.4L1596.2 480.1L1596.2 469.5Z"/>
<path stroke-width="1.73" d="M1587.8 464.0L1578.6 469.3L1578.6 479.9L1587.8 485.2L1596.9 479.9L1596.9 469.3Z"/>
<path stroke-width="1.72" d="M1588.5 463.8L1579.3 469.1L1579.3 479.7L1588.5 485.0L1597.7 479.7L1597.7 469.1Z"/>
<path stroke-width="1.71" d="M1589.2 463.6L1580.1 468.9L1580.1 479.5L1589.2 484.8L1598.4 479.5L1598.4 468.9Z"/>
<path stroke-width="1.71" d="M1590.0 463.5L1580.8 468.8L1580.8 479.4L1590.0 484.7L1599.2 479.4L1599.2 468.8Z"/>
<path stroke-width="1.70" d="M1590.8 463.3L1581.6 468.6L1581.6 479.2L1590.8 484.5L1599.9 479.2L1599.9 468.6Z"/>
<path stroke-width="1.69" d="M1591.5 463.1L1582.3 468.4L1582.3 479.0L1591.5 484.3L1600.7 479.0L1600.7 468.4Z"/>
<path stroke-width="1.69" d="M1592.3 462.9L1583.1 468.2L1583.1 478.8L1592.3 484.1L1601.5 478.8L1601.5 468.2Z"/>
<path stroke-width="1.68" d="M1593.0 462.7L1583.9 468.0L1583.9 478.6L1593.0 483.9L1602.2 478.6L1602.2 468.0Z"/>
<path stroke-width="1.67" d="M1593.8 462.6L1584.6 467.9L1584.6 478.5L1593.8 483.8L1603.0 478.5L1603.0 467.9Z"/>
<path stroke-width="1.66" d="M1594.6 462.4L1585.4 467.7L1585.4 478.3L1594.6 483.6L1603.8 478.3L1603.8 467.7Z"/>
<path stroke-width="1.66" d="M1595.4 462.2L1586.2 467.5L1586.2 478.1L1595.4 483.4L1604.5 478.1L1604.5 467.5Z"/>
<path stroke-width="1.65" d="M1596.1 462.0L1587.0 467.3L1587.0 477.9L1596.1 483.2L1605.3 477.9L1605.3 467.3Z"/>
<path stroke-width="1.64" d="M1596.9 461.8L1587.7 467.1L1587.7 477.7L1596.9 483.0L1606.1 477.7L1606.1 467.1Z"/>
<path stroke-width="1.64" d="M1597.7 461.6L1588.5 466.9L1588.5 477.5L1597.7 482.8L1606.9 477.5L1606.9 466.9Z"/>
<path stroke-width="1.63" d="M1598.5 461.4L1589.3 466.7L1589.3 477.3L1598.5 482.6L1607.7 477.3L1607.7 466.7Z"/>
<path stroke-width="1.62" d="M1599.3 461.2L1590.1 466.5L1590.1 477.1L1599.3 482.4L1608.5 477.1L1608.5 466.5Z"/>
<path stroke-width="1.62" d="M1600.1 461.0L1590.9 466.3L1590.9 476.9L1600.1 482.2L1609.3 476.9L1609.3 466.3Z"/>
<path stroke-width="1.61" d="M1600.9 460.8L1591.7 466.1L1591.7 476.7L1600.9 482.0L1610.1 476.7L1610.1 466.1Z"/>
<path stroke-width="1.60" d="M1601.7 460.7L1592.5 466.0L1592.5 476.6L1601.7 481.9L1610.9 476.6L1610.9 466.0Z"/>
<path stroke-width="1.59" d="M1602.5 460.5L1593.3 465.8L1593.3 476.4L1602.5 481.7L1611.7 476.4L1611.7 465.8Z"/>
<path stroke-width="1.59" d="M1603.3 460.2L1594.1 465.5L1594.1 476.1L1603.3 481.4L1612.5 476.1L1612.5 465.5Z"/>
<path stroke-width="1.58" d="M1604.1 460.0L1594.9 465.3L1594.9 475.9L1604.1 481.2L1613.3 475.9L1613.3 465.3Z"/>
<path stroke-width="1.57" d="M1604.9 459.8L1595.8 465.1L1595.8 475.7L1604.9 481.0L1614.1 475.7L1614.1 465.1Z"/>
<path stroke-width="1.56" d="M1605.8 459.6L1596.6 464.9L1596.6 475.5L1605.8 480.8L1614.9 475.5L1614.9 464.9Z"/>
<path stroke-width="1.56" d="M1606.6 459.4L1597.4 464.7L1597.4 475.3L1606.6 480.6L1615.8 475.3L1615.8 464.7Z"/>
<path stroke-width="1.55" d="M1607.4 459.2L1598.2 464.5L1598.2 475.1L1607.4 480.4L1616.6 475.1L1616.6 464.5Z"/>
<path stroke-width="1.54" d="M1608.3 459.0L1599.1 464.3L1599.1 474.9L1608.3 480.2L1617.4 474.9L1617.4 464.3Z"/>
<path stroke-width="1.53" d="M1609.1 458.7L1599.9 464.0L1599.9 474.6L1609.1 479.9L1618.3 474.6L1618.3 464.0Z"/>
<path stroke-width="1.53" d="M1609.9 458.5L1600.8 463.8L1600.8 474.4L1609.9 479.7L1619.1 474.4L1619.1 463.8Z"/>
<path stroke-width="1.52" d="M1610.8 458.3L1601.6 463.6L1601.6 474.2L1610.8 479.5L1620.0 474.2L1620.0 463.6Z"/>
<path stroke-width="1.51" d="M1611.6 458.1L1602.5 463.4L1602.5 474.0L1611.6 479.3L1620.8 474.0L1620.8 463.4Z"/>
<path stroke-width="1.50" d="M1612.5 457.8L1603.3 463.1L1603.3 473.7L1612.5 479.0L1621.7 473.7L1621.7 463.1Z"/>
<path stroke-width="1.50" d="M1613.3 457.6L1604.2 462.9L1604.2 473.5L1613.3 478.8L1622.5 473.5L1622.5 462.9Z"/>
<path stroke-width="1.49" d="M1614.2 457.3L1605.0 462.6L1605.0 473.2L1614.2 478.5L1623.4 473.2L1623.4 462.6Z"/>
<path stroke-width="1.48" d="M1615.1 457.1L1605.9 462.4L1605.9 473.0L1615.1 478.3L1624.3 473.0L1624.3 462.4Z"/>
<path stroke-width="1.47" d="M1615.9 456.9L1606.8 462.2L1606.8 472.8L1615.9 478.1L1625.1 472.8L1625.1 462.2Z"/>
<path stroke-width="1.46" d="M1616.8 456.6L1607.6 461.9L1607.6 472.5L1616.8 477.8L1626.0 472.5L1626.0 461.9Z"/>
<path stroke-width="1.46" d="M1617.7 456.4L1608.5 461.7L1608.5 472.3L1617.7 477.6L1626.9 472.3L1626.9 461.7Z"/>
<path stroke-width="1.45" d="M1618.6 456.1L1609.4 461.4L1609.4 472.0L1618.6 477.3L1627.8 472.0L1627.8 461.4Z"/>
<path stroke-width="1.44" d="M1619.5 455.8L1610.3 461.1L1610.3 471.7L1619.5 477.0L1628.6 471.7L1628.6 461.1Z"/>
<path stroke-width="1.43" d="M1620.4 455.6L1611.2 460.9L1611.2 471.5L1620.4 476.8L1629.5 471.5L1629.5 460.9Z"/>
<path stroke-width="1.43" d="M1621.3 455.3L1612.1 460.6L1612.1 471.2L1621.3 476.5L1630.4 471.2L1630.4 460.6Z"/>
<path stroke-width="1.42" d="M1622.2 455.0L1613.0 460.3L1613.0 470.9L1622.2 476.2L1631.3 470.9L1631.3 460.3Z"/>
<path stroke-width="1.41" d="M1623.1 454.8L1613.9 460.1L1613.9 470.7L1623.1 476.0L1632.2 470.7L1632.2 460.1Z"/>
<path stroke-width="1.40" d="M1624.0 454.5L1614.8 459.8L1614.8 470.4L1624.0 475.7L1633.1 470.4L1633.1 459.8Z"/>
<path stroke-width="1.39" d="M1624.9 454.2L1615.7 459.5L1615.7 470.1L1624.9 475.4L1634.1 470.1L1634.1 459.5Z"/>
<path stroke-width="1.38" d="M1625.8 453.9L1616.6 459.2L1616.6 469.8L1625.8 475.1L1635.0 469.8L1635.0 459.2Z"/>
<path stroke-width="1.38" d="M1626.7 453.6L1617.5 458.9L1617.5 469.5L1626.7 474.8L1635.9 469.5L1635.9 458.9Z"/>
<path stroke-width="1.37" d="M1627.7 453.4L1618.5 458.7L1618.5 469.3L1627.7 474.6L1636.8 469.3L1636.8 458.7Z"/>
<path stroke-width="1.36" d="M1628.6 453.1L1619.4 458.4L1619.4 469.0L1628.6 474.3L1637.8 469.0L1637.8 458.4Z"/>
<path stroke-width="1.35" d="M1629.5 452.8L1620.3 458.1L1620.3 468.7L1629.5 474.0L1638.7 468.7L1638.7 458.1Z"/>
<path stroke-width="1.34" d="M1630.5 452.5L1621.3 457.8L1621.3 468.4L1630.5 473.7L1639.6 468.4L1639.6 457.8Z"/>
<path stroke-width="1.33" d="M1631.4 452.2L1622.2 457.5L1622.2 468.1L1631.4 473.4L1640.6 468.1L1640.6 457.5Z"/>
<path stroke-width="1.33" d="M1632.4 451.9L1623.2 457.2L1623.2 467.8L1632.4 473.1L1641.5 467.8L1641.5 457.2Z"/>
<path stroke-width="1.32" d="M1633.3 451.6L1624.1 456.9L1624.1 467.5L1633.3 472.8L1642.5 467.5L1642.5 456.9Z"/>
<path stroke-width="1.31" d="M1634.3 451.2L1625.1 456.5L1625.1 467.1L1634.3 472.4L1643.5 467.1L1643.5 456.5Z"/>
<path stroke-width="1.30" d="M1635.2 450.9L1626.1 456.2L1626.1 466.8L1635.2 472.1L1644.4 466.8L1644.4 456.2Z"/>
<path stroke-width="1.29" d="M1636.2 450.6L1627.0 455.9L1627.0 466.5L1636.2 471.8L1645.4 466.5L1645.4 455.9Z"/>
<path stroke-width="1.28" d="M1637.2 450.3L1628.0 455.6L1628.0 466.2L1637.2 471.5L1646.4 466.2L1646.4 455.6Z"/>
<path stroke-width="1.27" d="M1638.2 450.0L1629.0 455.3L1629.0 465.9L1638.2 471.2L1647.3 465.9L1647.3 455.3Z"/>
<path stroke-width="1.26" d="M1639.1 449.6L1630.0 454.9L1630.0 465.5L1639.1 470.8L1648.3 465.5L1648.3 454.9Z"/>
<path stroke-width="1.26" d="M1640.1 449.3L1631.0 454.6L1631.0 465.2L1640.1 470.5L1649.3 465.2L1649.3 454.6Z"/>
<path stroke-width="1.25" d="M1641.1 449.0L1631.9 454.3L1631.9 464.9L1641.1 470.2L1650.3 464.9L1650.3 454.3Z"/>
<path stroke-width="1.24" d="M1642.1 448.6L1632.9 453.9L1632.9 464.5L1642.1 469.8L1651.3 464.5L1651.3 453.9Z"/>
<path stroke-width="1.23" d="M1643.1 448.3L1634.0 453.6L1634.0 464.2L1643.1 469.5L1652.3 464.2L1652.3 453.6Z"/>
<path stroke-width="1.22" d="M1644.1 447.9L1635.0 453.2L1635.0 463.8L1644.1 469.1L1653.3 463.8L1653.3 453.2Z"/>
<path stroke-width="1.21" d="M1645.2 447.6L1636.0 452.9L1636.0 463.5L1645.2 468.8L1654.3 463.5L1654.3 452.9Z"/>
<path stroke-width="1.20" d="M1646.2 447.2L1637.0 452.5L1637.0 463.1L1646.2 468.4L1655.4 463.1L1655.4 452.5Z"/>
<path d="M1647.2 446.9L1638.0 452.2L1638.0 462.8L1647.2 468.1L1656.4 462.8L1656.4 452.2Z"/>
<path d="M1648.2 446.5L1639.1 451.8L1639.1 462.4L1648.2 467.7L1657.4 462.4L1657.4 451.8Z"/>
<path d="M1649.3 446.1L1640.1 451.4L1640.1 462.0L1649.3 467.3L1658.5 462.0L1658.5 451.4Z"/>
<path d="M1650.3 445.8L1641.1 451.1L1641.1 461.7L1650.3 467.0L1659.5 461.7L1659.5 451.1Z"/>
<path d="M1651.4 445.4L1642.2 450.7L1642.2 461.3L1651.4 466.6L1660.5 461.3L1660.5 450.7Z"/>
<path d="M1652.4 445.0L1643.2 450.3L1643.2 460.9L1652.4 466.2L1661.6 460.9L1661.6 450.3Z"/>
<path d="M1653.5 444.6L1644.3 449.9L1644.3 460.5L1653.5 465.8L1662.7 460.5L1662.7 449.9Z"/>
<path d="M1654.5 444.2L1645.4 449.5L1645.4 460.1L1654.5 465.4L1663.7 460.1L1663.7 449.5Z"/>
<path d="M1655.6 443.8L1646.4 449.1L1646.4 459.7L1655.6 465.0L1664.8 459.7L1664.8 449.1Z"/>
<path d="M1656.7 443.5L1647.5 448.8L1647.5 459.4L1656.7 464.7L1665.9 459.4L1665.9 448.8Z"/>
<path d="M1657.8 443.0L1648.6 448.3L1648.6 458.9L1657.8 464.2L1666.9 458.9L1666.9 448.3Z"/>
<path d="M1658.8 442.6L1649.7 447.9L1649.7 458.5L1658.8 463.8L1668.0 458.5L1668.0 447.9Z"/>
<path d="M1659.9 442.2L1650.8 447.5L1650.8 458.1L1659.9 463.4L1669.1 458.1L1669.1 447.5Z"/>
<path d="M1661.0 441.7L1651.9 447.0L1651.9 457.6L1661.0 462.9L1670.2 457.6L1670.2 447.0Z"/>
<path d="M1662.1 441.3L1653.0 446.6L1653.0 457.2L1662.1 462.5L1671.3 457.2L1671.3 446.6Z"/>
<path d="M1663.3 440.8L1654.1 446.1L1654.1 456.7L1663.3 462.0L1672.4 456.7L1672.4 446.1Z"/>
<path d="M1664.4 440.3L1655.2 445.6L1655.2 456.2L1664.4 461.5L1673.5 456.2L1673.5 445.6Z"/>
<path d="M1665.5 439.8L1656.3 445.1L1656.3 455.7L1665.5 461.0L1674.7 455.7L1674.7 445.1Z"/>
<path d="M1666.6 439.3L1657.4 444.6L1657.4 455.2L1666.6 460.5L1675.8 455.2L1675.8 444.6Z"/>
<path d="M1667.8 438.8L1658.6 444.1L1658.6 454.7L1667.8 460.0L1676.9 454.7L1676.9 444.1Z"/>
<path d="M1668.9 438.3L1659.7 443.6L1659.7 454.2L1668.9 459.5L1678.1 454.2L1678.1 443.6Z"/>
<path d="M1670.0 437.8L1660.9 443.1L1660.9 453.7L1670.0 459.0L1679.2 453.7L1679.2 443.1Z"/>
<path d="M1671.2 437.3L1662.0 442.6L1662.0 453.2L1671.2 458.5L1680.4 453.2L1680.4 442.6Z"/>
<path d="M1672.4 436.7L1663.2 442.0L1663.2 452.6L1672.4 457.9L1681.5 452.6L1681.5 442.0Z"/>
<path d="M1673.5 436.2L1664.3 441.5L1664.3 452.1L1673.5 457.4L1682.7 452.1L1682.7 441.5Z"/>
<path d="M1674.7 435.7L1665.5 441.0L1665.5 451.6L1674.7 456.9L1683.9 451.6L1683.9 441.0Z"/>
<path d="M1675.9 435.2L1666.7 440.5L1666.7 451.1L1675.9 456.4L1685.0 451.1L1685.0 440.5Z"/>
<path d="M1677.1 434.6L1667.9 439.9L1667.9 450.5L1677.1 455.8L1686.2 450.5L1686.2 439.9Z"/>
<path d="M1678.2 434.1L1669.1 439.4L1669.1 450.0L1678.2 455.3L1687.4 450.0L1687.4 439.4Z"/>
<path d="M1679.4 433.6L1670.3 438.9L1670.3 449.5L1679.4 454.8L1688.6 449.5L1688.6 438.9Z"/>
<path d="M1680.7 433.1L1671.5 438.4L1671.5 449.0L1680.7 454.3L1689.8 449.0L1689.8 438.4Z"/>
<path d="M1681.9 432.6L1672.7 437.9L1672.7 448.5L1681.9 453.8L1691.0 448.5L1691.0 437.9Z"/>
<path d="M1683.1 432.1L1673.9 437.4L1673.9 448.0L1683.1 453.3L1692.3 448.0L1692.3 437.4Z"/>
<path d="M1684.3 431.6L1675.1 436.9L1675.1 447.5L1684.3 452.8L1693.5 447.5L1693.5 436.9Z"/>
<path d="M1685.5 431.2L1676.4 436.5L1676.4 447.1L1685.5 452.4L1694.7 447.1L1694.7 436.5Z"/>
<path d="M1686.8 430.7L1677.6 436.0L1677.6 446.6L1686.8 451.9L1696.0 446.6L1696.0 436.0Z"/>
<path d="M1688.0 428.3L1678.8 433.6L1678.8 444.2L1688.0 449.5L1697.2 444.2L1697.2 433.6Z"/>
<path d="M1689.3 427.8L1680.1 433.1L1680.1 443.7L1689.3 449.0L1698.5 443.7L1698.5 433.1Z"/>
<path d="M1690.5 427.3L1681.4 432.6L1681.4 443.2L1690.5 448.5L1699.7 443.2L1699.7 432.6Z"/>
<path d="M1691.8 426.8L1682.6 432.1L1682.6 442.7L1691.8 448.0L1701.0 442.7L1701.0 432.1Z"/>
<path d="M1693.1 426.3L1683.9 431.6L1683.9 442.2L1693.1 447.5L1702.3 442.2L1702.3 431.6Z"/>
<path d="M1694.4 425.8L1685.2 431.1L1685.2 441.7L1694.4 447.0L1703.6 441.7L1703.6 431.1Z"/>
<path d="M1695.7 425.3L1686.5 430.6L1686.5 441.2L1695.7 446.5L1704.8 441.2L1704.8 430.6Z"/>
<path d="M1697.0 424.8L1687.8 430.1L1687.8 440.7L1697.0 446.0L1706.1 440.7L1706.1 430.1Z"/>
<path d="M1698.3 424.2L1689.1 429.5L1689.1 440.1L1698.3 445.4L1707.4 440.1L1707.4 429.5Z"/>
<path d="M1699.6 423.7L1690.4 429.0L1690.4 439.6L1699.6 444.9L1708.8 439.6L1708.8 429.0Z"/>
<path d="M1700.9 423.2L1691.7 428.5L1691.7 439.1L1700.9 444.4L1710.1 439.1L1710.1 428.5Z"/>
<path d="M1702.2 422.6L1693.1 427.9L1693.1 438.5L1702.2 443.8L1711.4 438.5L1711.4 427.9Z"/>
<path d="M1703.6 422.0L1694.4 427.3L1694.4 437.9L1703.6 443.2L1712.7 437.9L1712.7 427.3Z"/>
<path d="M1704.9 421.4L1695.7 426.7L1695.7 437.3L1704.9 442.6L1714.1 437.3L1714.1 426.7Z"/>
<path d="M1706.3 420.8L1697.1 426.1L1697.1 436.7L1706.3 442.0L1715.4 436.7L1715.4 426.1Z"/>
<path d="M1707.6 420.1L1698.4 425.4L1698.4 436.0L1707.6 441.3L1716.8 436.0L1716.8 425.4Z"/>
<path d="M1709.0 419.5L1699.8 424.8L1699.8 435.4L1709.0 440.7L1718.2 435.4L1718.2 424.8Z"/>
<path d="M1710.4 418.7L1701.2 424.0L1701.2 434.6L1710.4 439.9L1719.6 434.6L1719.6 424.0Z"/>
<path d="M1711.8 418.0L1702.6 423.3L1702.6 433.9L1711.8 439.2L1720.9 433.9L1720.9 423.3Z"/>
<path d="M1713.2 417.1L1704.0 422.4L1704.0 433.0L1713.2 438.3L1722.3 433.0L1722.3 422.4Z"/>
<path d="M1714.6 416.3L1705.4 421.6L1705.4 432.2L1714.6 437.5L1723.7 432.2L1723.7 421.6Z"/>
<path d="M1716.0 415.3L1706.8 420.6L1706.8 431.2L1716.0 436.5L1725.2 431.2L1725.2 420.6Z"/>
<path d="M1717.4 414.3L1708.2 419.6L1708.2 430.2L1717.4 435.5L1726.6 430.2L1726.6 419.6Z"/>
<path d="M1718.8 413.2L1709.6 418.5L1709.6 429.1L1718.8 434.4L1728.0 429.1L1728.0 418.5Z"/>
<path d="M1720.3 412.1L1711.1 417.4L1711.1 428.0L1720.3 433.3L1729.4 428.0L1729.4 417.4Z"/>
<path d="M1721.7 411.0L1712.5 416.3L1712.5 426.9L1721.7 432.2L1730.9 426.9L1730.9 416.3Z"/>
<path d="M1723.1 409.8L1714.0 415.1L1714.0 425.7L1723.1 431.0L1732.3 425.7L1732.3 415.1Z"/>
<path d="M1724.6 408.6L1715.4 413.9L1715.4 424.5L1724.6 429.8L1733.8 424.5L1733.8 413.9Z"/>
<path d="M1726.1 407.4L1716.9 412.7L1716.9 423.3L1726.1 428.6L1735.3 423.3L1735.3 412.7Z"/>
<path d="M1727.6 406.3L1718.4 411.6L1718.4 422.2L1727.6 427.5L1736.8 422.2L1736.8 411.6Z"/>
<path d="M1729.1 405.0L1719.9 410.3L1719.9 420.9L1729.1 426.2L1738.2 420.9L1738.2 410.3Z"/>
<path d="M1730.6 403.8L1721.4 409.1L1721.4 419.7L1730.6 425.0L1739.7 419.7L1739.7 409.1Z"/>
<path d="M1732.1 402.7L1722.9 408.0L1722.9 418.6L1732.1 423.9L1741.3 418.6L1741.3 408.0Z"/>
<path d="M1733.6 401.5L1724.4 406.8L1724.4 417.4L1733.6 422.7L1742.8 417.4L1742.8 406.8Z"/>
<path d="M1735.1 400.3L1725.9 405.6L1725.9 416.2L1735.1 421.5L1744.3 416.2L1744.3 405.6Z"/>
<path d="M1736.7 399.3L1727.5 404.6L1727.5 415.2L1736.7 420.5L1745.8 415.2L1745.8 404.6Z"/>
<path d="M1738.2 398.3L1729.0 403.6L1729.0 414.2L1738.2 419.5L1747.4 414.2L1747.4 403.6Z"/>
<path d="M1739.8 397.2L1730.6 402.5L1730.6 413.1L1739.8 418.4L1749.0 413.1L1749.0 402.5Z"/>
<path d="M1741.3 396.4L1732.2 401.7L1732.2 412.3L1741.3 417.6L1750.5 412.3L1750.5 401.7Z"/>
<path d="M1742.9 395.4L1733.8 400.7L1733.8 411.3L1742.9 416.6L1752.1 411.3L1752.1 400.7Z"/>
<path d="M1744.5 394.5L1735.3 399.8L1735.3 410.4L1744.5 415.7L1753.7 410.4L1753.7 399.8Z"/>
<path d="M1746.1 393.6L1736.9 398.9L1736.9 409.5L1746.1 414.8L1755.3 409.5L1755.3 398.9Z"/>
<path d="M1747.7 392.6L1738.5 397.9L1738.5 408.5L1747.7 413.8L1756.9 408.5L1756.9 397.9Z"/>
<path d="M1749.3 391.8L1740.2 397.1L1740.2 407.7L1749.3 413.0L1758.5 407.7L1758.5 397.1Z"/>
<path d="M1751.0 390.9L1741.8 396.2L1741.8 406.8L1751.0 412.1L1760.2 406.8L1760.2 396.2Z"/>
<path d="M1752.6 390.1L1743.5 395.4L1743.5 406.0L1752.6 411.3L1761.8 406.0L1761.8 395.4Z"/>
<path d="M1754.3 389.1L1745.1 394.4L1745.1 405.0L1754.3 410.3L1763.4 405.0L1763.4 394.4Z"/>
<path d="M1755.9 388.2L1746.8 393.5L1746.8 404.1L1755.9 409.4L1765.1 404.1L1765.1 393.5Z"/>
<path d="M1757.6 387.2L1748.4 392.5L1748.4 403.1L1757.6 408.4L1766.8 403.1L1766.8 392.5Z"/>
<path d="M1759.2 386.0L1750.1 391.3L1750.1 401.9L1759.2 407.2L1768.4 401.9L1768.4 391.3Z"/>
<path d="M1761.0 385.3L1751.8 390.6L1751.8 401.2L1761.0 406.5L1770.1 401.2L1770.1 390.6Z"/>
<path d="M1762.7 384.2L1753.5 389.5L1753.5 400.1L1762.7 405.4L1771.9 400.1L1771.9 389.5Z"/>
<path d="M1764.4 383.3L1755.2 388.6L1755.2 399.2L1764.4 404.5L1773.6 399.2L1773.6 388.6Z"/>
<path d="M1766.2 382.4L1757.0 387.7L1757.0 398.3L1766.2 403.6L1775.4 398.3L1775.4 387.7Z"/>
<path d="M1767.9 381.2L1758.7 386.5L1758.7 397.1L1767.9 402.4L1777.1 397.1L1777.1 386.5Z"/>
<path d="M1769.7 380.0L1760.5 385.3L1760.5 395.9L1769.7 401.2L1778.9 395.9L1778.9 385.3Z"/>
<path d="M1771.5 378.9L1762.3 384.2L1762.3 394.8L1771.5 400.1L1780.6 394.8L1780.6 384.2Z"/>
<path d="M1773.2 377.8L1764.0 383.1L1764.0 393.7L1773.2 399.0L1782.4 393.7L1782.4 383.1Z"/>
<path d="M1775.0 376.5L1765.8 381.8L1765.8 392.4L1775.0 397.7L1784.1 392.4L1784.1 381.8Z"/>
<path d="M1776.8 375.3L1767.6 380.6L1767.6 391.2L1776.8 396.5L1786.0 391.2L1786.0 380.6Z"/>
<path d="M1778.6 373.9L1769.4 379.2L1769.4 389.8L1778.6 395.1L1787.8 389.8L1787.8 379.2Z"/>
<path d="M1780.4 372.9L1771.2 378.2L1771.2 388.8L1780.4 394.1L1789.6 388.8L1789.6 378.2Z"/>
<path d="M1782.3 371.3L1773.1 376.6L1773.1 387.2L1782.3 392.5L1791.5 387.2L1791.5 376.6Z"/>
<path d="M1784.2 370.1L1775.0 375.4L1775.0 386.0L1784.2 391.3L1793.4 386.0L1793.4 375.4Z"/>
<path d="M1786.0 368.6L1776.8 373.9L1776.8 384.5L1786.0 389.8L1795.1 384.5L1795.1 373.9Z"/>
<path d="M1788.0 367.3L1778.8 372.6L1778.8 383.2L1788.0 388.5L1797.2 383.2L1797.2 372.6Z"/>
<path d="M1789.7 365.8L1780.6 371.1L1780.6 381.7L1789.7 387.0L1798.9 381.7L1798.9 371.1Z"/>
<path d="M1791.7 364.5L1782.5 369.8L1782.5 380.4L1791.7 385.7L1800.8 380.4L1800.8 369.8Z"/>
<path d="M1793.6 362.9L1784.4 368.2L1784.4 378.8L1793.6 384.1L1802.7 378.8L1802.7 368.2Z"/>
<path d="M1795.5 361.0L1786.3 366.3L1786.3 376.9L1795.5 382.2L1804.6 376.9L1804.6 366.3Z"/>
<path d="M1797.5 359.1L1788.3 364.4L1788.3 375.0L1797.5 380.3L1806.7 375.0L1806.7 364.4Z"/>
<path d="M1799.4 357.2L1790.2 362.5L1790.2 373.1L1799.4 378.4L1808.6 373.1L1808.6 362.5Z"/>
<path d="M1801.5 355.8L1792.3 361.1L1792.3 371.7L1801.5 377.0L1810.7 371.7L1810.7 361.1Z"/>
<path d="M1803.4 353.4L1794.3 358.7L1794.3 369.3L1803.4 374.6L1812.6 369.3L1812.6 358.7Z"/>
<path d="M1805.4 351.5L1796.3 356.8L1796.3 367.4L1805.4 372.7L1814.6 367.4L1814.6 356.8Z"/>
<path d="M1807.4 349.8L1798.2 355.1L1798.2 365.7L1807.4 371.0L1816.6 365.7L1816.6 355.1Z"/>
<path d="M1809.3 347.7L1800.1 353.0L1800.1 363.6L1809.3 368.9L1818.5 363.6L1818.5 353.0Z"/>
<path d="M1811.5 345.4L1802.3 350.7L1802.3 361.3L1811.5 366.6L1820.7 361.3L1820.7 350.7Z"/>
<path d="M1813.5 343.0L1804.3 348.3L1804.3 358.9L1813.5 364.2L1822.7 358.9L1822.7 348.3Z"/>
<path d="M1815.7 341.6L1806.5 346.9L1806.5 357.5L1815.7 362.8L1824.9 357.5L1824.9 346.9Z"/>
<path d="M1817.7 338.9L1808.5 344.2L1808.5 354.8L1817.7 360.1L1826.9 354.8L1826.9 344.2Z"/>
<path d="M1820.0 336.7L1810.8 342.0L1810.8 352.6L1820.0 357.9L1829.2 352.6L1829.2 342.0Z"/>
<path d="M1822.0 334.2L1812.9 339.5L1812.9 350.1L1822.0 355.4L1831.2 350.1L1831.2 339.5Z"/>
<path d="M1824.2 331.8L1815.0 337.1L1815.0 347.7L1824.2 353.0L1833.4 347.7L1833.4 337.1Z"/>
<path d="M1826.3 329.4L1817.1 334.7L1817.1 345.3L1826.3 350.6L1835.5 345.3L1835.5 334.7Z"/>
<path d="M1828.5 327.7L1819.3 333.0L1819.3 343.6L1828.5 348.9L1837.6 343.6L1837.6 333.0Z"/>
<path d="M1830.7 325.6L1821.5 330.9L1821.5 341.5L1830.7 346.8L1839.9 341.5L1839.9 330.9Z"/>
<path d="M1833.0 323.1L1823.8 328.4L1823.8 339.0L1833.0 344.3L1842.1 339.0L1842.1 328.4Z"/>
<path d="M1835.0 320.0L1825.8 325.3L1825.8 335.9L1835.0 341.2L1844.1 335.9L1844.1 325.3Z"/>
<path d="M1837.4 317.6L1828.2 322.9L1828.2 333.5L1837.4 338.8L1846.5 333.5L1846.5 322.9Z"/>
<path d="M1839.9 315.4L1830.7 320.7L1830.7 331.3L1839.9 336.6L1849.1 331.3L1849.1 320.7Z"/>
<path d="M1841.8 312.2L1832.6 317.5L1832.6 328.1L1841.8 333.4L1851.0 328.1L1851.0 317.5Z"/>
<path d="M1844.1 310.4L1834.9 315.7L1834.9 326.3L1844.1 331.6L1853.3 326.3L1853.3 315.7Z"/>
<path d="M1846.3 308.1L1837.1 313.4L1837.1 324.0L1846.3 329.3L1855.5 324.0L1855.5 313.4Z"/>
<path d="M1848.5 306.0L1839.3 311.3L1839.3 321.9L1848.5 327.2L1857.7 321.9L1857.7 311.3Z"/>
<path d="M1851.3 302.4L1842.1 307.7L1842.1 318.3L1851.3 323.6L1860.5 318.3L1860.5 307.7Z"/>
<path d="M1853.5 299.2L1844.3 304.5L1844.3 315.1L1853.5 320.4L1862.7 315.1L1862.7 304.5Z"/>
<path d="M1855.9 296.3L1846.7 301.6L1846.7 312.2L1855.9 317.5L1865.1 312.2L1865.1 301.6Z"/>
<path d="M1858.6 291.9L1849.4 297.2L1849.4 307.8L1858.6 313.1L1867.8 307.8L1867.8 297.2Z"/>
<path d="M1861.1 290.7L1852.0 296.0L1852.0 306.6L1861.1 311.9L1870.3 306.6L1870.3 296.0Z"/>
<path d="M1863.0 288.2L1853.8 293.5L1853.8 304.1L1863.0 309.4L1872.1 304.1L1872.1 293.5Z"/>
<path d="M1865.8 285.9L1856.6 291.2L1856.6 301.8L1865.8 307.1L1875.0 301.8L1875.0 291.2Z"/>
<path d="M1868.2 282.7L1859.0 288.0L1859.0 298.6L1868.2 303.9L1877.4 298.6L1877.4 288.0Z"/>
<path d="M1870.7 280.1L1861.5 285.4L1861.5 296.0L1870.7 301.3L1879.8 296.0L1879.8 285.4Z"/>
<path d="M1873.2 276.7L1864.0 282.0L1864.0 292.6L1873.2 297.9L1882.4 292.6L1882.4 282.0Z"/>
<path d="M1875.6 274.1L1866.4 279.4L1866.4 290.0L1875.6 295.3L1884.8 290.0L1884.8 279.4Z"/>
<path d="M1878.6 271.0L1869.4 276.3L1869.4 286.9L1878.6 292.2L1887.7 286.9L1887.7 276.3Z"/>
<path d="M1880.9 266.5L1871.7 271.8L1871.7 282.4L1880.9 287.7L1890.1 282.4L1890.1 271.8Z"/>
<path d="M1883.5 263.4L1874.3 268.7L1874.3 279.3L1883.5 284.6L1892.6 279.3L1892.6 268.7Z"/>
<path d="M1886.0 259.2L1876.8 264.5L1876.8 275.1L1886.0 280.4L1895.1 275.1L1895.1 264.5Z"/>
<path d="M1888.9 256.9L1879.7 262.2L1879.7 272.8L1888.9 278.1L1898.1 272.8L1898.1 262.2Z"/>
<path d="M1890.7 253.4L1881.6 258.7L1881.6 269.3L1890.7 274.6L1899.9 269.3L1899.9 258.7Z"/>
<path d="M1894.1 247.4L1884.9 252.7L1884.9 263.3L1894.1 268.6L1903.3 263.3L1903.3 252.7Z"/>
<path d="M1896.2 240.8L1887.0 246.1L1887.0 256.7L1896.2 262.0L1905.3 256.7L1905.3 246.1Z"/>
<path d="M1899.6 236.1L1890.4 241.4L1890.4 252.0L1899.6 257.3L1908.8 252.0L1908.8 241.4Z"/>
<path d="M1900.8 231.6L1891.6 236.9L1891.6 247.5L1900.8 252.8L1910.0 247.5L1910.0 236.9Z"/>
<path d="M1904.8 226.2L1895.6 231.5L1895.6 242.1L1904.8 247.4L1914.0 242.1L1914.0 231.5Z"/>
<path d="M1906.0 222.6L1896.8 227.9L1896.8 238.5L1906.0 243.8L1915.1 238.5L1915.1 227.9Z"/>
<path d="M1910.3 218.3L1901.2 223.6L1901.2 234.2L1910.3 239.5L1919.5 234.2L1919.5 223.6Z"/>
<path d="M1911.4 214.8L1902.2 220.1L1902.2 230.7L1911.4 236.0L1920.6 230.7L1920.6 220.1Z"/>
<path d="M1916.5 210.4L1907.3 215.7L1907.3 226.3L1916.5 231.6L1925.7 226.3L1925.7 215.7Z"/>
<path d="M1916.1 206.9L1906.9 212.2L1906.9 222.8L1916.1 228.1L1925.3 222.8L1925.3 212.2Z"/>
<path d="M1922.3 200.9L1913.1 206.2L1913.1 216.8L1922.3 222.1L1931.4 216.8L1931.4 206.2Z"/>
<path d="M1922.6 198.6L1913.4 203.9L1913.4 214.5L1922.6 219.8L1931.7 214.5L1931.7 203.9Z"/>
<path d="M1928.3 190.8L1919.1 196.1L1919.1 206.7L1928.3 212.0L1937.4 206.7L1937.4 196.1Z"/>
<path d="M1927.6 188.2L1918.4 193.5L1918.4 204.1L1927.6 209.4L1936.7 204.1L1936.7 193.5Z"/>
<path d="M1934.8 179.2L1925.6 184.5L1925.6 195.1L1934.8 200.4L1943.9 195.1L1943.9 184.5Z"/>
<path d="M1933.4 175.8L1924.2 181.1L1924.2 191.7L1933.4 197.0L1942.5 191.7L1942.5 181.1Z"/>
<path d="M1939.9 166.5L1930.7 171.8L1930.7 182.4L1939.9 187.7L1949.1 182.4L1949.1 171.8Z"/>
<path d="M1939.0 162.5L1929.8 167.8L1929.8 178.4L1939.0 183.7L1948.2 178.4L1948.2 167.8Z"/>
<path d="M1946.7 157.8L1937.5 163.1L1937.5 173.7L1946.7 179.0L1955.9 173.7L1955.9 163.1Z"/>
<path d="M1945.8 152.0L1936.6 157.3L1936.6 167.9L1945.8 173.2L1955.0 167.9L1955.0 157.3Z"/>
<path d="M1953.6 145.0L1944.4 150.3L1944.4 160.9L1953.6 166.2L1962.8 160.9L1962.8 150.3Z"/>
<path d="M1951.5 139.1L1942.3 144.4L1942.3 155.0L1951.5 160.3L1960.7 155.0L1960.7 144.4Z"/>
<path d="M1959.0 124.0L1949.8 129.3L1949.8 139.9L1959.0 145.2L1968.2 139.9L1968.2 129.3Z"/>
<path d="M1957.2 119.2L1948.1 124.5L1948.1 135.1L1957.2 140.4L1966.4 135.1L1966.4 124.5Z"/>
<path d="M1965.8 109.2L1956.6 114.5L1956.6 125.1L1965.8 130.4L1975.0 125.1L1975.0 114.5Z"/>
<path d="M1963.7 104.3L1954.5 109.6L1954.5 120.2L1963.7 125.5L1972.9 120.2L1972.9 109.6Z"/>
<path d="M1972.0 93.7L1962.9 99.0L1962.9 109.6L1972.0 114.9L1981.2 109.6L1981.2 99.0Z"/>
<path d="M1970.2 94.7L1961.1 100.0L1961.1 110.6L1970.2 115.9L1979.4 110.6L1979.4 100.0Z"/>
<path d="M1980.2 84.7L1971.0 90.0L1971.0 100.6L1980.2 105.9L1989.4 100.6L1989.4 90.0Z"/>
<path d="M1976.6 83.2L1967.4 88.5L1967.4 99.1L1976.6 104.4L1985.8 99.1L1985.8 88.5Z"/>
<path d="M1987.1 72.8L1978.0 78.1L1978.0 88.7L1987.1 94.0L1996.3 88.7L1996.3 78.1Z"/>
<path d="M1982.8 74.2L1973.6 79.5L1973.6 90.1L1982.8 95.4L1991.9 90.1L1991.9 79.5Z"/>
<path d="M1993.1 64.6L1984.0 69.9L1984.0 80.5L1993.1 85.8L2002.3 80.5L2002.3 69.9Z"/>
<path d="M1989.7 65.7L1980.5 71.0L1980.5 81.6L1989.7 86.9L1998.8 81.6L1998.8 71.0Z"/>
<path d="M2002.0 57.2L1992.9 62.5L1992.9 73.1L2002.0 78.4L2011.2 73.1L2011.2 62.5Z"/>
<path d="M1997.7 54.2L1988.5 59.5L1988.5 70.1L1997.7 75.4L2006.9 70.1L2006.9 59.5Z"/>
<path d="M2008.4 39.6L1999.3 44.9L1999.3 55.5L2008.4 60.8L2017.6 55.5L2017.6 44.9Z"/>
<path d="M2005.3 30.6L1996.2 35.9L1996.2 46.5L2005.3 51.8L2014.5 46.5L2014.5 35.9Z"/>
<path d="M2016.1 10.2L2006.9 15.5L2006.9 26.1L2016.1 31.4L2025.3 26.1L2025.3 15.5Z"/>
</g>
<path d="M2008.6 7.9L1836.2 457.6" stroke="#f00" stroke-width="2.6" stroke-linecap="round" fill="none"/>
<path d="M1825.1 486.5L1829.8 448.2L1836.2 457.6L1847.2 454.8Z" fill="#f00" stroke="#f00" stroke-width="1.5" stroke-linejoin="round"/>
<text x="1497.4" y="510.8" font-size="32" text-anchor="middle" font-weight="normal" fill="#000" >2</text>
<text x="1621" y="510.8" font-size="32" text-anchor="middle" font-weight="normal" fill="#000" >3</text>
<text x="1744.5" y="510.8" font-size="32" text-anchor="middle" font-weight="normal" fill="#000" >4</text>
<text x="1868.1" y="510.8" font-size="32" text-anchor="middle" font-weight="normal" fill="#000" >5</text>
<text x="1991.6" y="510.8" font-size="32" text-anchor="middle" font-weight="normal" fill="#000" >6</text>
<text x="1625.9" y="60.3" font-size="37" text-anchor="start" font-weight="bold" fill="#0000ff" >S002</text>
<text x="1386.2" y="28.1" font-size="36" text-anchor="start" font-weight="normal" fill="#000" >(c)</text>
<g transform="translate(1456.3,318.6) rotate(-90)"><text x="-2" y="0" font-size="32">(</text><text x="7.3" y="0" font-size="28" font-family="IPAGothic, 'DejaVu Serif', serif">α</text><text x="31.4" y="0" font-size="32">h</text><text x="46" y="0" font-size="28" font-family="IPAGothic, 'DejaVu Serif', serif">υ</text><text x="69.6" y="0" font-size="32">)</text><text x="77.6" y="-18" font-size="20">2</text><text x="89" y="0" font-size="32" letter-spacing="1.28">(a.u.)</text></g>
<text x="1745.8" y="554" font-size="32">h</text><text x="1762.9" y="554" font-size="28" font-family="IPAGothic, 'DejaVu Serif', serif">υ</text><text x="1792.4" y="554" font-size="32" letter-spacing="1.73">(eV)</text>
<rect x="111" y="657.9" width="555.6" height="480.4" fill="none" stroke="#000" stroke-width="3.3"/>
<path d="M111 685.1h9.5M111 712.5h18M111 739.8h9.5M111 767.2h18M111 794.5h9.5M111 821.9h18M111 849.2h9.5M111 876.6h18M111 903.9h9.5M111 931.2h18M111 958.6h9.5M111 986h18M111 1013.3h9.5M111 1040.7h18M111 1068h9.5M111 1095.3h18M111 1122.7h9.5" stroke="#000" stroke-width="3.2" fill="none"/>
<path d="M111 1138.3v-17M135.7 1138.3v-9.5M160.4 1138.3v-9.5M185.1 1138.3v-9.5M209.8 1138.3v-9.5M234.5 1138.3v-17M259.2 1138.3v-9.5M283.9 1138.3v-9.5M308.5 1138.3v-9.5M333.2 1138.3v-9.5M357.9 1138.3v-17M382.6 1138.3v-9.5M407.3 1138.3v-9.5M432 1138.3v-9.5M456.7 1138.3v-9.5M481.4 1138.3v-17M506.1 1138.3v-9.5M530.8 1138.3v-9.5M555.5 1138.3v-9.5M580.2 1138.3v-9.5M604.9 1138.3v-17M629.6 1138.3v-9.5M654.3 1138.3v-9.5" stroke="#000" stroke-width="3.2" fill="none"/>
<clipPath id="cd"><rect x="109.6" y="656.5" width="558.4" height="483.2"/></clipPath>
<g clip-path="url(#cd)" fill="#fff" stroke="#ff0000" stroke-width="1.15" stroke-linejoin="miter">
<path stroke-width="2.15" d="M101.5 1137.0a9.5 9.5 0 1 0 19.0 0a9.5 9.5 0 1 0 -19.0 0Z"/>
<path stroke-width="2.15" d="M101.9 1137.0a9.5 9.5 0 1 0 19.0 0a9.5 9.5 0 1 0 -19.0 0Z"/>
<path stroke-width="2.15" d="M102.3 1136.9a9.5 9.5 0 1 0 19.0 0a9.5 9.5 0 1 0 -19.0 0Z"/>
<path stroke-width="2.15" d="M102.7 1136.9a9.5 9.5 0 1 0 19.0 0a9.5 9.5 0 1 0 -19.0 0Z"/>
<path stroke-width="2.15" d="M103.1 1136.9a9.5 9.5 0 1 0 19.0 0a9.5 9.5 0 1 0 -19.0 0Z"/>
<path stroke-width="2.15" d="M103.5 1136.9a9.5 9.5 0 1 0 19.0 0a9.5 9.5 0 1 0 -19.0 0Z"/>
<path stroke-width="2.15" d="M103.9 1136.8a9.5 9.5 0 1 0 19.0 0a9.5 9.5 0 1 0 -19.0 0Z"/>
<path stroke-width="2.15" d="M104.3 1136.8a9.5 9.5 0 1 0 19.0 0a9.5 9.5 0 1 0 -19.0 0Z"/>
<path stroke-width="2.15" d="M104.7 1136.8a9.5 9.5 0 1 0 19.0 0a9.5 9.5 0 1 0 -19.0 0Z"/>
<path stroke-width="2.15" d="M105.1 1136.7a9.5 9.5 0 1 0 19.0 0a9.5 9.5 0 1 0 -19.0 0Z"/>
<path stroke-width="2.15" d="M105.5 1136.7a9.5 9.5 0 1 0 19.0 0a9.5 9.5 0 1 0 -19.0 0Z"/>
<path stroke-width="2.15" d="M106.0 1136.7a9.5 9.5 0 1 0 19.0 0a9.5 9.5 0 1 0 -19.0 0Z"/>
<path stroke-width="2.15" d="M106.4 1136.7a9.5 9.5 0 1 0 19.0 0a9.5 9.5 0 1 0 -19.0 0Z"/>
<path stroke-width="2.15" d="M106.8 1136.6a9.5 9.5 0 1 0 19.0 0a9.5 9.5 0 1 0 -19.0 0Z"/>
<path stroke-width="2.15" d="M107.2 1136.6a9.5 9.5 0 1 0 19.0 0a9.5 9.5 0 1 0 -19.0 0Z"/>
<path stroke-width="2.15" d="M107.6 1136.6a9.5 9.5 0 1 0 19.0 0a9.5 9.5 0 1 0 -19.0 0Z"/>
<path stroke-width="2.15" d="M108.0 1136.5a9.5 9.5 0 1 0 19.0 0a9.5 9.5 0 1 0 -19.0 0Z"/>
<path stroke-width="2.15" d="M108.5 1136.5a9.5 9.5 0 1 0 19.0 0a9.5 9.5 0 1 0 -19.0 0Z"/>
<path stroke-width="2.15" d="M108.9 1136.5a9.5 9.5 0 1 0 19.0 0a9.5 9.5 0 1 0 -19.0 0Z"/>
<path stroke-width="2.15" d="M109.3 1136.4a9.5 9.5 0 1 0 19.0 0a9.5 9.5 0 1 0 -19.0 0Z"/>
<path stroke-width="2.15" d="M109.7 1136.4a9.5 9.5 0 1 0 19.0 0a9.5 9.5 0 1 0 -19.0 0Z"/>
<path stroke-width="2.15" d="M110.2 1136.4a9.5 9.5 0 1 0 19.0 0a9.5 9.5 0 1 0 -19.0 0Z"/>
<path stroke-width="2.15" d="M110.6 1136.3a9.5 9.5 0 1 0 19.0 0a9.5 9.5 0 1 0 -19.0 0Z"/>
<path stroke-width="2.15" d="M111.0 1136.3a9.5 9.5 0 1 0 19.0 0a9.5 9.5 0 1 0 -19.0 0Z"/>
<path stroke-width="2.15" d="M111.4 1136.3a9.5 9.5 0 1 0 19.0 0a9.5 9.5 0 1 0 -19.0 0Z"/>
<path stroke-width="2.15" d="M111.9 1136.2a9.5 9.5 0 1 0 19.0 0a9.5 9.5 0 1 0 -19.0 0Z"/>
<path stroke-width="2.15" d="M112.3 1136.2a9.5 9.5 0 1 0 19.0 0a9.5 9.5 0 1 0 -19.0 0Z"/>
<path stroke-width="2.15" d="M112.7 1136.2a9.5 9.5 0 1 0 19.0 0a9.5 9.5 0 1 0 -19.0 0Z"/>
<path stroke-width="2.15" d="M113.2 1136.1a9.5 9.5 0 1 0 19.0 0a9.5 9.5 0 1 0 -19.0 0Z"/>
<path stroke-width="2.15" d="M113.6 1136.1a9.5 9.5 0 1 0 19.0 0a9.5 9.5 0 1 0 -19.0 0Z"/>
<path stroke-width="2.15" d="M114.1 1136.1a9.5 9.5 0 1 0 19.0 0a9.5 9.5 0 1 0 -19.0 0Z"/>
<path stroke-width="2.15" d="M114.5 1136.0a9.5 9.5 0 1 0 19.0 0a9.5 9.5 0 1 0 -19.0 0Z"/>
<path stroke-width="2.15" d="M114.9 1136.0a9.5 9.5 0 1 0 19.0 0a9.5 9.5 0 1 0 -19.0 0Z"/>
<path stroke-width="2.15" d="M115.4 1135.9a9.5 9.5 0 1 0 19.0 0a9.5 9.5 0 1 0 -19.0 0Z"/>
<path stroke-width="2.15" d="M115.8 1135.9a9.5 9.5 0 1 0 19.0 0a9.5 9.5 0 1 0 -19.0 0Z"/>
<path stroke-width="2.15" d="M116.3 1135.9a9.5 9.5 0 1 0 19.0 0a9.5 9.5 0 1 0 -19.0 0Z"/>
<path stroke-width="2.15" d="M116.7 1135.8a9.5 9.5 0 1 0 19.0 0a9.5 9.5 0 1 0 -19.0 0Z"/>
<path stroke-width="2.15" d="M117.2 1135.8a9.5 9.5 0 1 0 19.0 0a9.5 9.5 0 1 0 -19.0 0Z"/>
<path stroke-width="2.15" d="M117.6 1135.7a9.5 9.5 0 1 0 19.0 0a9.5 9.5 0 1 0 -19.0 0Z"/>
<path stroke-width="2.15" d="M118.1 1135.7a9.5 9.5 0 1 0 19.0 0a9.5 9.5 0 1 0 -19.0 0Z"/>
<path stroke-width="2.15" d="M118.5 1135.7a9.5 9.5 0 1 0 19.0 0a9.5 9.5 0 1 0 -19.0 0Z"/>
<path stroke-width="2.15" d="M119.0 1135.6a9.5 9.5 0 1 0 19.0 0a9.5 9.5 0 1 0 -19.0 0Z"/>
<path stroke-width="2.15" d="M119.4 1135.6a9.5 9.5 0 1 0 19.0 0a9.5 9.5 0 1 0 -19.0 0Z"/>
<path stroke-width="2.15" d="M119.9 1135.5a9.5 9.5 0 1 0 19.0 0a9.5 9.5 0 1 0 -19.0 0Z"/>
<path stroke-width="2.15" d="M120.4 1135.5a9.5 9.5 0 1 0 19.0 0a9.5 9.5 0 1 0 -19.0 0Z"/>
<path stroke-width="2.15" d="M120.8 1135.4a9.5 9.5 0 1 0 19.0 0a9.5 9.5 0 1 0 -19.0 0Z"/>
<path stroke-width="2.15" d="M121.3 1135.4a9.5 9.5 0 1 0 19.0 0a9.5 9.5 0 1 0 -19.0 0Z"/>
<path stroke-width="2.15" d="M121.8 1135.4a9.5 9.5 0 1 0 19.0 0a9.5 9.5 0 1 0 -19.0 0Z"/>
<path stroke-width="2.15" d="M122.2 1135.3a9.5 9.5 0 1 0 19.0 0a9.5 9.5 0 1 0 -19.0 0Z"/>
<path stroke-width="2.15" d="M122.7 1135.3a9.5 9.5 0 1 0 19.0 0a9.5 9.5 0 1 0 -19.0 0Z"/>
<path stroke-width="2.15" d="M123.2 1135.2a9.5 9.5 0 1 0 19.0 0a9.5 9.5 0 1 0 -19.0 0Z"/>
<path stroke-width="2.15" d="M123.6 1135.2a9.5 9.5 0 1 0 19.0 0a9.5 9.5 0 1 0 -19.0 0Z"/>
<path stroke-width="2.15" d="M124.1 1135.1a9.5 9.5 0 1 0 19.0 0a9.5 9.5 0 1 0 -19.0 0Z"/>
<path stroke-width="2.15" d="M124.6 1135.1a9.5 9.5 0 1 0 19.0 0a9.5 9.5 0 1 0 -19.0 0Z"/>
<path stroke-width="2.15" d="M125.1 1135.0a9.5 9.5 0 1 0 19.0 0a9.5 9.5 0 1 0 -19.0 0Z"/>
<path stroke-width="2.15" d="M125.5 1135.0a9.5 9.5 0 1 0 19.0 0a9.5 9.5 0 1 0 -19.0 0Z"/>
<path stroke-width="2.15" d="M126.0 1134.9a9.5 9.5 0 1 0 19.0 0a9.5 9.5 0 1 0 -19.0 0Z"/>
<path stroke-width="2.15" d="M126.5 1134.9a9.5 9.5 0 1 0 19.0 0a9.5 9.5 0 1 0 -19.0 0Z"/>
<path stroke-width="2.15" d="M127.0 1134.8a9.5 9.5 0 1 0 19.0 0a9.5 9.5 0 1 0 -19.0 0Z"/>
<path stroke-width="2.15" d="M127.5 1134.8a9.5 9.5 0 1 0 19.0 0a9.5 9.5 0 1 0 -19.0 0Z"/>
<path stroke-width="2.15" d="M128.0 1134.7a9.5 9.5 0 1 0 19.0 0a9.5 9.5 0 1 0 -19.0 0Z"/>
<path stroke-width="2.15" d="M128.4 1134.7a9.5 9.5 0 1 0 19.0 0a9.5 9.5 0 1 0 -19.0 0Z"/>
<path stroke-width="2.15" d="M128.9 1134.6a9.5 9.5 0 1 0 19.0 0a9.5 9.5 0 1 0 -19.0 0Z"/>
<path stroke-width="2.15" d="M129.4 1134.6a9.5 9.5 0 1 0 19.0 0a9.5 9.5 0 1 0 -19.0 0Z"/>
<path stroke-width="2.15" d="M129.9 1134.5a9.5 9.5 0 1 0 19.0 0a9.5 9.5 0 1 0 -19.0 0Z"/>
<path stroke-width="2.15" d="M130.4 1134.5a9.5 9.5 0 1 0 19.0 0a9.5 9.5 0 1 0 -19.0 0Z"/>
<path stroke-width="2.15" d="M130.9 1134.4a9.5 9.5 0 1 0 19.0 0a9.5 9.5 0 1 0 -19.0 0Z"/>
<path stroke-width="2.15" d="M131.4 1134.3a9.5 9.5 0 1 0 19.0 0a9.5 9.5 0 1 0 -19.0 0Z"/>
<path stroke-width="2.15" d="M131.9 1134.3a9.5 9.5 0 1 0 19.0 0a9.5 9.5 0 1 0 -19.0 0Z"/>
<path stroke-width="2.15" d="M132.4 1134.2a9.5 9.5 0 1 0 19.0 0a9.5 9.5 0 1 0 -19.0 0Z"/>
<path stroke-width="2.15" d="M132.9 1134.2a9.5 9.5 0 1 0 19.0 0a9.5 9.5 0 1 0 -19.0 0Z"/>
<path stroke-width="2.15" d="M133.4 1134.1a9.5 9.5 0 1 0 19.0 0a9.5 9.5 0 1 0 -19.0 0Z"/>
<path stroke-width="2.15" d="M133.9 1134.1a9.5 9.5 0 1 0 19.0 0a9.5 9.5 0 1 0 -19.0 0Z"/>
<path stroke-width="2.15" d="M134.5 1134.0a9.5 9.5 0 1 0 19.0 0a9.5 9.5 0 1 0 -19.0 0Z"/>
<path stroke-width="2.15" d="M135.0 1133.9a9.5 9.5 0 1 0 19.0 0a9.5 9.5 0 1 0 -19.0 0Z"/>
<path stroke-width="2.15" d="M135.5 1133.9a9.5 9.5 0 1 0 19.0 0a9.5 9.5 0 1 0 -19.0 0Z"/>
<path stroke-width="2.15" d="M136.0 1133.8a9.5 9.5 0 1 0 19.0 0a9.5 9.5 0 1 0 -19.0 0Z"/>
<path stroke-width="2.15" d="M136.5 1133.8a9.5 9.5 0 1 0 19.0 0a9.5 9.5 0 1 0 -19.0 0Z"/>
<path stroke-width="2.15" d="M137.0 1133.7a9.5 9.5 0 1 0 19.0 0a9.5 9.5 0 1 0 -19.0 0Z"/>
<path stroke-width="2.15" d="M137.6 1133.6a9.5 9.5 0 1 0 19.0 0a9.5 9.5 0 1 0 -19.0 0Z"/>
<path stroke-width="2.15" d="M138.1 1133.6a9.5 9.5 0 1 0 19.0 0a9.5 9.5 0 1 0 -19.0 0Z"/>
<path stroke-width="2.15" d="M138.6 1133.5a9.5 9.5 0 1 0 19.0 0a9.5 9.5 0 1 0 -19.0 0Z"/>
<path stroke-width="2.15" d="M139.1 1133.5a9.5 9.5 0 1 0 19.0 0a9.5 9.5 0 1 0 -19.0 0Z"/>
<path stroke-width="2.15" d="M139.7 1133.4a9.5 9.5 0 1 0 19.0 0a9.5 9.5 0 1 0 -19.0 0Z"/>
<path stroke-width="2.15" d="M140.2 1133.3a9.5 9.5 0 1 0 19.0 0a9.5 9.5 0 1 0 -19.0 0Z"/>
<path stroke-width="2.15" d="M140.7 1133.3a9.5 9.5 0 1 0 19.0 0a9.5 9.5 0 1 0 -19.0 0Z"/>
<path stroke-width="2.15" d="M141.3 1133.2a9.5 9.5 0 1 0 19.0 0a9.5 9.5 0 1 0 -19.0 0Z"/>
<path stroke-width="2.15" d="M141.8 1133.1a9.5 9.5 0 1 0 19.0 0a9.5 9.5 0 1 0 -19.0 0Z"/>
<path stroke-width="2.15" d="M142.3 1133.1a9.5 9.5 0 1 0 19.0 0a9.5 9.5 0 1 0 -19.0 0Z"/>
<path stroke-width="2.15" d="M142.9 1133.0a9.5 9.5 0 1 0 19.0 0a9.5 9.5 0 1 0 -19.0 0Z"/>
<path stroke-width="2.15" d="M143.4 1132.9a9.5 9.5 0 1 0 19.0 0a9.5 9.5 0 1 0 -19.0 0Z"/>
<path stroke-width="2.15" d="M144.0 1132.9a9.5 9.5 0 1 0 19.0 0a9.5 9.5 0 1 0 -19.0 0Z"/>
<path stroke-width="2.15" d="M144.5 1132.8a9.5 9.5 0 1 0 19.0 0a9.5 9.5 0 1 0 -19.0 0Z"/>
<path stroke-width="2.15" d="M145.1 1132.7a9.5 9.5 0 1 0 19.0 0a9.5 9.5 0 1 0 -19.0 0Z"/>
<path stroke-width="2.14" d="M145.6 1132.7a9.5 9.5 0 1 0 19.0 0a9.5 9.5 0 1 0 -19.0 0Z"/>
<path stroke-width="2.14" d="M146.2 1132.6a9.5 9.5 0 1 0 19.0 0a9.5 9.5 0 1 0 -19.0 0Z"/>
<path stroke-width="2.13" d="M146.7 1132.5a9.5 9.5 0 1 0 19.0 0a9.5 9.5 0 1 0 -19.0 0Z"/>
<path stroke-width="2.13" d="M147.3 1132.4a9.5 9.5 0 1 0 19.0 0a9.5 9.5 0 1 0 -19.0 0Z"/>
<path stroke-width="2.12" d="M147.9 1132.4a9.5 9.5 0 1 0 19.0 0a9.5 9.5 0 1 0 -19.0 0Z"/>
<path stroke-width="2.12" d="M148.4 1132.3a9.5 9.5 0 1 0 19.0 0a9.5 9.5 0 1 0 -19.0 0Z"/>
<path stroke-width="2.11" d="M149.0 1132.2a9.5 9.5 0 1 0 19.0 0a9.5 9.5 0 1 0 -19.0 0Z"/>
<path stroke-width="2.11" d="M149.6 1132.2a9.5 9.5 0 1 0 19.0 0a9.5 9.5 0 1 0 -19.0 0Z"/>
<path stroke-width="2.10" d="M150.1 1132.1a9.5 9.5 0 1 0 19.0 0a9.5 9.5 0 1 0 -19.0 0Z"/>
<path stroke-width="2.10" d="M150.7 1132.0a9.5 9.5 0 1 0 19.0 0a9.5 9.5 0 1 0 -19.0 0Z"/>
<path stroke-width="2.09" d="M151.3 1131.9a9.5 9.5 0 1 0 19.0 0a9.5 9.5 0 1 0 -19.0 0Z"/>
<path stroke-width="2.09" d="M151.8 1131.9a9.5 9.5 0 1 0 19.0 0a9.5 9.5 0 1 0 -19.0 0Z"/>
<path stroke-width="2.08" d="M152.4 1131.8a9.5 9.5 0 1 0 19.0 0a9.5 9.5 0 1 0 -19.0 0Z"/>
<path stroke-width="2.08" d="M153.0 1131.7a9.5 9.5 0 1 0 19.0 0a9.5 9.5 0 1 0 -19.0 0Z"/>
<path stroke-width="2.07" d="M153.6 1131.6a9.5 9.5 0 1 0 19.0 0a9.5 9.5 0 1 0 -19.0 0Z"/>
<path stroke-width="2.06" d="M154.2 1131.5a9.5 9.5 0 1 0 19.0 0a9.5 9.5 0 1 0 -19.0 0Z"/>
<path stroke-width="2.06" d="M154.8 1131.5a9.5 9.5 0 1 0 19.0 0a9.5 9.5 0 1 0 -19.0 0Z"/>
<path stroke-width="2.05" d="M155.3 1131.4a9.5 9.5 0 1 0 19.0 0a9.5 9.5 0 1 0 -19.0 0Z"/>
<path stroke-width="2.05" d="M155.9 1131.3a9.5 9.5 0 1 0 19.0 0a9.5 9.5 0 1 0 -19.0 0Z"/>
<path stroke-width="2.04" d="M156.5 1131.2a9.5 9.5 0 1 0 19.0 0a9.5 9.5 0 1 0 -19.0 0Z"/>
<path stroke-width="2.04" d="M157.1 1131.1a9.5 9.5 0 1 0 19.0 0a9.5 9.5 0 1 0 -19.0 0Z"/>
<path stroke-width="2.03" d="M157.7 1131.0a9.5 9.5 0 1 0 19.0 0a9.5 9.5 0 1 0 -19.0 0Z"/>
<path stroke-width="2.03" d="M158.3 1131.0a9.5 9.5 0 1 0 19.0 0a9.5 9.5 0 1 0 -19.0 0Z"/>
<path stroke-width="2.02" d="M158.9 1130.9a9.5 9.5 0 1 0 19.0 0a9.5 9.5 0 1 0 -19.0 0Z"/>
<path stroke-width="2.02" d="M159.5 1130.8a9.5 9.5 0 1 0 19.0 0a9.5 9.5 0 1 0 -19.0 0Z"/>
<path stroke-width="2.01" d="M160.2 1130.7a9.5 9.5 0 1 0 19.0 0a9.5 9.5 0 1 0 -19.0 0Z"/>
<path stroke-width="2.01" d="M160.8 1130.6a9.5 9.5 0 1 0 19.0 0a9.5 9.5 0 1 0 -19.0 0Z"/>
<path stroke-width="2.00" d="M161.4 1130.5a9.5 9.5 0 1 0 19.0 0a9.5 9.5 0 1 0 -19.0 0Z"/>
<path stroke-width="1.99" d="M162.0 1130.4a9.5 9.5 0 1 0 19.0 0a9.5 9.5 0 1 0 -19.0 0Z"/>
<path stroke-width="1.99" d="M162.6 1130.3a9.5 9.5 0 1 0 19.0 0a9.5 9.5 0 1 0 -19.0 0Z"/>
<path stroke-width="1.98" d="M163.2 1130.2a9.5 9.5 0 1 0 19.0 0a9.5 9.5 0 1 0 -19.0 0Z"/>
<path stroke-width="1.98" d="M163.9 1130.1a9.5 9.5 0 1 0 19.0 0a9.5 9.5 0 1 0 -19.0 0Z"/>
<path stroke-width="1.97" d="M164.5 1130.0a9.5 9.5 0 1 0 19.0 0a9.5 9.5 0 1 0 -19.0 0Z"/>
<path stroke-width="1.97" d="M165.1 1129.9a9.5 9.5 0 1 0 19.0 0a9.5 9.5 0 1 0 -19.0 0Z"/>
<path stroke-width="1.96" d="M165.7 1129.8a9.5 9.5 0 1 0 19.0 0a9.5 9.5 0 1 0 -19.0 0Z"/>
<path stroke-width="1.96" d="M166.4 1129.7a9.5 9.5 0 1 0 19.0 0a9.5 9.5 0 1 0 -19.0 0Z"/>
<path stroke-width="1.95" d="M167.0 1129.6a9.5 9.5 0 1 0 19.0 0a9.5 9.5 0 1 0 -19.0 0Z"/>
<path stroke-width="1.94" d="M167.7 1129.5a9.5 9.5 0 1 0 19.0 0a9.5 9.5 0 1 0 -19.0 0Z"/>
<path stroke-width="1.94" d="M168.3 1129.4a9.5 9.5 0 1 0 19.0 0a9.5 9.5 0 1 0 -19.0 0Z"/>
<path stroke-width="1.93" d="M168.9 1129.3a9.5 9.5 0 1 0 19.0 0a9.5 9.5 0 1 0 -19.0 0Z"/>
<path stroke-width="1.93" d="M169.6 1129.2a9.5 9.5 0 1 0 19.0 0a9.5 9.5 0 1 0 -19.0 0Z"/>
<path stroke-width="1.92" d="M170.2 1129.1a9.5 9.5 0 1 0 19.0 0a9.5 9.5 0 1 0 -19.0 0Z"/>
<path stroke-width="1.91" d="M170.9 1129.0a9.5 9.5 0 1 0 19.0 0a9.5 9.5 0 1 0 -19.0 0Z"/>
<path stroke-width="1.91" d="M171.5 1128.8a9.5 9.5 0 1 0 19.0 0a9.5 9.5 0 1 0 -19.0 0Z"/>
<path stroke-width="1.90" d="M172.2 1128.7a9.5 9.5 0 1 0 19.0 0a9.5 9.5 0 1 0 -19.0 0Z"/>
<path stroke-width="1.90" d="M172.9 1128.6a9.5 9.5 0 1 0 19.0 0a9.5 9.5 0 1 0 -19.0 0Z"/>
<path stroke-width="1.89" d="M173.5 1128.5a9.5 9.5 0 1 0 19.0 0a9.5 9.5 0 1 0 -19.0 0Z"/>
<path stroke-width="1.88" d="M174.2 1128.4a9.5 9.5 0 1 0 19.0 0a9.5 9.5 0 1 0 -19.0 0Z"/>
<path stroke-width="1.88" d="M174.9 1128.3a9.5 9.5 0 1 0 19.0 0a9.5 9.5 0 1 0 -19.0 0Z"/>
<path stroke-width="1.87" d="M175.5 1128.1a9.5 9.5 0 1 0 19.0 0a9.5 9.5 0 1 0 -19.0 0Z"/>
<path stroke-width="1.87" d="M176.2 1128.0a9.5 9.5 0 1 0 19.0 0a9.5 9.5 0 1 0 -19.0 0Z"/>
<path stroke-width="1.86" d="M176.9 1127.9a9.5 9.5 0 1 0 19.0 0a9.5 9.5 0 1 0 -19.0 0Z"/>
<path stroke-width="1.85" d="M177.6 1127.8a9.5 9.5 0 1 0 19.0 0a9.5 9.5 0 1 0 -19.0 0Z"/>
<path stroke-width="1.85" d="M178.2 1127.6a9.5 9.5 0 1 0 19.0 0a9.5 9.5 0 1 0 -19.0 0Z"/>
<path stroke-width="1.84" d="M178.9 1127.5a9.5 9.5 0 1 0 19.0 0a9.5 9.5 0 1 0 -19.0 0Z"/>
<path stroke-width="1.84" d="M179.6 1127.4a9.5 9.5 0 1 0 19.0 0a9.5 9.5 0 1 0 -19.0 0Z"/>
<path stroke-width="1.83" d="M180.3 1127.3a9.5 9.5 0 1 0 19.0 0a9.5 9.5 0 1 0 -19.0 0Z"/>
<path stroke-width="1.82" d="M181.0 1127.1a9.5 9.5 0 1 0 19.0 0a9.5 9.5 0 1 0 -19.0 0Z"/>
<path stroke-width="1.82" d="M181.7 1127.0a9.5 9.5 0 1 0 19.0 0a9.5 9.5 0 1 0 -19.0 0Z"/>
<path stroke-width="1.81" d="M182.4 1126.9a9.5 9.5 0 1 0 19.0 0a9.5 9.5 0 1 0 -19.0 0Z"/>
<path stroke-width="1.80" d="M183.1 1126.7a9.5 9.5 0 1 0 19.0 0a9.5 9.5 0 1 0 -19.0 0Z"/>
<path stroke-width="1.80" d="M183.8 1126.6a9.5 9.5 0 1 0 19.0 0a9.5 9.5 0 1 0 -19.0 0Z"/>
<path stroke-width="1.79" d="M184.5 1126.4a9.5 9.5 0 1 0 19.0 0a9.5 9.5 0 1 0 -19.0 0Z"/>
<path stroke-width="1.79" d="M185.2 1126.3a9.5 9.5 0 1 0 19.0 0a9.5 9.5 0 1 0 -19.0 0Z"/>
<path stroke-width="1.78" d="M185.9 1126.2a9.5 9.5 0 1 0 19.0 0a9.5 9.5 0 1 0 -19.0 0Z"/>
<path stroke-width="1.77" d="M186.7 1126.0a9.5 9.5 0 1 0 19.0 0a9.5 9.5 0 1 0 -19.0 0Z"/>
<path stroke-width="1.77" d="M187.4 1125.9a9.5 9.5 0 1 0 19.0 0a9.5 9.5 0 1 0 -19.0 0Z"/>
<path stroke-width="1.76" d="M188.1 1125.7a9.5 9.5 0 1 0 19.0 0a9.5 9.5 0 1 0 -19.0 0Z"/>
<path stroke-width="1.75" d="M188.8 1125.6a9.5 9.5 0 1 0 19.0 0a9.5 9.5 0 1 0 -19.0 0Z"/>
<path stroke-width="1.75" d="M189.6 1125.4a9.5 9.5 0 1 0 19.0 0a9.5 9.5 0 1 0 -19.0 0Z"/>
<path stroke-width="1.74" d="M190.3 1125.3a9.5 9.5 0 1 0 19.0 0a9.5 9.5 0 1 0 -19.0 0Z"/>
<path stroke-width="1.73" d="M191.0 1125.1a9.5 9.5 0 1 0 19.0 0a9.5 9.5 0 1 0 -19.0 0Z"/>
<path stroke-width="1.73" d="M191.8 1125.0a9.5 9.5 0 1 0 19.0 0a9.5 9.5 0 1 0 -19.0 0Z"/>
<path stroke-width="1.72" d="M192.5 1124.8a9.5 9.5 0 1 0 19.0 0a9.5 9.5 0 1 0 -19.0 0Z"/>
<path stroke-width="1.71" d="M193.3 1124.6a9.5 9.5 0 1 0 19.0 0a9.5 9.5 0 1 0 -19.0 0Z"/>
<path stroke-width="1.71" d="M194.0 1124.5a9.5 9.5 0 1 0 19.0 0a9.5 9.5 0 1 0 -19.0 0Z"/>
<path stroke-width="1.70" d="M194.8 1124.3a9.5 9.5 0 1 0 19.0 0a9.5 9.5 0 1 0 -19.0 0Z"/>
<path stroke-width="1.69" d="M195.5 1124.1a9.5 9.5 0 1 0 19.0 0a9.5 9.5 0 1 0 -19.0 0Z"/>
<path stroke-width="1.69" d="M196.3 1124.0a9.5 9.5 0 1 0 19.0 0a9.5 9.5 0 1 0 -19.0 0Z"/>
<path stroke-width="1.68" d="M197.1 1123.8a9.5 9.5 0 1 0 19.0 0a9.5 9.5 0 1 0 -19.0 0Z"/>
<path stroke-width="1.67" d="M197.8 1123.6a9.5 9.5 0 1 0 19.0 0a9.5 9.5 0 1 0 -19.0 0Z"/>
<path stroke-width="1.66" d="M198.6 1123.5a9.5 9.5 0 1 0 19.0 0a9.5 9.5 0 1 0 -19.0 0Z"/>
<path stroke-width="1.66" d="M199.4 1123.3a9.5 9.5 0 1 0 19.0 0a9.5 9.5 0 1 0 -19.0 0Z"/>
<path stroke-width="1.65" d="M200.2 1123.1a9.5 9.5 0 1 0 19.0 0a9.5 9.5 0 1 0 -19.0 0Z"/>
<path stroke-width="1.64" d="M200.9 1122.9a9.5 9.5 0 1 0 19.0 0a9.5 9.5 0 1 0 -19.0 0Z"/>
<path stroke-width="1.64" d="M201.7 1122.8a9.5 9.5 0 1 0 19.0 0a9.5 9.5 0 1 0 -19.0 0Z"/>
<path stroke-width="1.63" d="M202.5 1122.6a9.5 9.5 0 1 0 19.0 0a9.5 9.5 0 1 0 -19.0 0Z"/>
<path stroke-width="1.62" d="M203.3 1122.4a9.5 9.5 0 1 0 19.0 0a9.5 9.5 0 1 0 -19.0 0Z"/>
<path stroke-width="1.62" d="M204.1 1122.2a9.5 9.5 0 1 0 19.0 0a9.5 9.5 0 1 0 -19.0 0Z"/>
<path stroke-width="1.61" d="M204.9 1122.0a9.5 9.5 0 1 0 19.0 0a9.5 9.5 0 1 0 -19.0 0Z"/>
<path stroke-width="1.60" d="M205.7 1121.8a9.5 9.5 0 1 0 19.0 0a9.5 9.5 0 1 0 -19.0 0Z"/>
<path stroke-width="1.59" d="M206.5 1121.6a9.5 9.5 0 1 0 19.0 0a9.5 9.5 0 1 0 -19.0 0Z"/>
<path stroke-width="1.59" d="M207.3 1121.5a9.5 9.5 0 1 0 19.0 0a9.5 9.5 0 1 0 -19.0 0Z"/>
<path stroke-width="1.58" d="M208.1 1121.3a9.5 9.5 0 1 0 19.0 0a9.5 9.5 0 1 0 -19.0 0Z"/>
<path stroke-width="1.57" d="M209.0 1121.0a9.5 9.5 0 1 0 19.0 0a9.5 9.5 0 1 0 -19.0 0Z"/>
<path stroke-width="1.56" d="M209.8 1120.8a9.5 9.5 0 1 0 19.0 0a9.5 9.5 0 1 0 -19.0 0Z"/>
<path stroke-width="1.56" d="M210.6 1120.6a9.5 9.5 0 1 0 19.0 0a9.5 9.5 0 1 0 -19.0 0Z"/>
<path stroke-width="1.55" d="M211.4 1120.4a9.5 9.5 0 1 0 19.0 0a9.5 9.5 0 1 0 -19.0 0Z"/>
<path stroke-width="1.54" d="M212.3 1120.2a9.5 9.5 0 1 0 19.0 0a9.5 9.5 0 1 0 -19.0 0Z"/>
<path stroke-width="1.53" d="M213.1 1120.0a9.5 9.5 0 1 0 19.0 0a9.5 9.5 0 1 0 -19.0 0Z"/>
<path stroke-width="1.53" d="M214.0 1119.7a9.5 9.5 0 1 0 19.0 0a9.5 9.5 0 1 0 -19.0 0Z"/>
<path stroke-width="1.52" d="M214.8 1119.5a9.5 9.5 0 1 0 19.0 0a9.5 9.5 0 1 0 -19.0 0Z"/>
<path stroke-width="1.51" d="M215.6 1119.2a9.5 9.5 0 1 0 19.0 0a9.5 9.5 0 1 0 -19.0 0Z"/>
<path stroke-width="1.50" d="M216.5 1119.0a9.5 9.5 0 1 0 19.0 0a9.5 9.5 0 1 0 -19.0 0Z"/>
<path stroke-width="1.50" d="M217.4 1118.8a9.5 9.5 0 1 0 19.0 0a9.5 9.5 0 1 0 -19.0 0Z"/>
<path stroke-width="1.49" d="M218.2 1118.5a9.5 9.5 0 1 0 19.0 0a9.5 9.5 0 1 0 -19.0 0Z"/>
<path stroke-width="1.48" d="M219.1 1118.2a9.5 9.5 0 1 0 19.0 0a9.5 9.5 0 1 0 -19.0 0Z"/>
<path stroke-width="1.47" d="M220.0 1118.0a9.5 9.5 0 1 0 19.0 0a9.5 9.5 0 1 0 -19.0 0Z"/>
<path stroke-width="1.46" d="M220.8 1117.7a9.5 9.5 0 1 0 19.0 0a9.5 9.5 0 1 0 -19.0 0Z"/>
<path stroke-width="1.46" d="M221.7 1117.4a9.5 9.5 0 1 0 19.0 0a9.5 9.5 0 1 0 -19.0 0Z"/>
<path stroke-width="1.45" d="M222.6 1117.2a9.5 9.5 0 1 0 19.0 0a9.5 9.5 0 1 0 -19.0 0Z"/>
<path stroke-width="1.44" d="M223.5 1116.9a9.5 9.5 0 1 0 19.0 0a9.5 9.5 0 1 0 -19.0 0Z"/>
<path stroke-width="1.43" d="M224.4 1116.6a9.5 9.5 0 1 0 19.0 0a9.5 9.5 0 1 0 -19.0 0Z"/>
<path stroke-width="1.43" d="M225.3 1116.3a9.5 9.5 0 1 0 19.0 0a9.5 9.5 0 1 0 -19.0 0Z"/>
<path stroke-width="1.42" d="M226.2 1116.0a9.5 9.5 0 1 0 19.0 0a9.5 9.5 0 1 0 -19.0 0Z"/>
<path stroke-width="1.41" d="M227.1 1115.7a9.5 9.5 0 1 0 19.0 0a9.5 9.5 0 1 0 -19.0 0Z"/>
<path stroke-width="1.40" d="M228.0 1115.4a9.5 9.5 0 1 0 19.0 0a9.5 9.5 0 1 0 -19.0 0Z"/>
<path stroke-width="1.39" d="M228.9 1115.1a9.5 9.5 0 1 0 19.0 0a9.5 9.5 0 1 0 -19.0 0Z"/>
<path stroke-width="1.38" d="M229.8 1114.8a9.5 9.5 0 1 0 19.0 0a9.5 9.5 0 1 0 -19.0 0Z"/>
<path stroke-width="1.38" d="M230.7 1114.5a9.5 9.5 0 1 0 19.0 0a9.5 9.5 0 1 0 -19.0 0Z"/>
<path stroke-width="1.37" d="M231.7 1114.2a9.5 9.5 0 1 0 19.0 0a9.5 9.5 0 1 0 -19.0 0Z"/>
<path stroke-width="1.36" d="M232.6 1113.9a9.5 9.5 0 1 0 19.0 0a9.5 9.5 0 1 0 -19.0 0Z"/>
<path stroke-width="1.35" d="M233.5 1113.6a9.5 9.5 0 1 0 19.0 0a9.5 9.5 0 1 0 -19.0 0Z"/>
<path stroke-width="1.34" d="M234.5 1113.3a9.5 9.5 0 1 0 19.0 0a9.5 9.5 0 1 0 -19.0 0Z"/>
<path stroke-width="1.33" d="M235.4 1112.9a9.5 9.5 0 1 0 19.0 0a9.5 9.5 0 1 0 -19.0 0Z"/>
<path stroke-width="1.33" d="M236.4 1112.6a9.5 9.5 0 1 0 19.0 0a9.5 9.5 0 1 0 -19.0 0Z"/>
<path stroke-width="1.32" d="M237.3 1112.3a9.5 9.5 0 1 0 19.0 0a9.5 9.5 0 1 0 -19.0 0Z"/>
<path stroke-width="1.31" d="M238.3 1111.9a9.5 9.5 0 1 0 19.0 0a9.5 9.5 0 1 0 -19.0 0Z"/>
<path stroke-width="1.30" d="M239.2 1111.6a9.5 9.5 0 1 0 19.0 0a9.5 9.5 0 1 0 -19.0 0Z"/>
<path stroke-width="1.29" d="M240.2 1111.3a9.5 9.5 0 1 0 19.0 0a9.5 9.5 0 1 0 -19.0 0Z"/>
<path stroke-width="1.28" d="M241.2 1110.9a9.5 9.5 0 1 0 19.0 0a9.5 9.5 0 1 0 -19.0 0Z"/>
<path stroke-width="1.27" d="M242.2 1110.6a9.5 9.5 0 1 0 19.0 0a9.5 9.5 0 1 0 -19.0 0Z"/>
<path stroke-width="1.26" d="M243.1 1110.2a9.5 9.5 0 1 0 19.0 0a9.5 9.5 0 1 0 -19.0 0Z"/>
<path stroke-width="1.26" d="M244.1 1109.9a9.5 9.5 0 1 0 19.0 0a9.5 9.5 0 1 0 -19.0 0Z"/>
<path stroke-width="1.25" d="M245.1 1109.5a9.5 9.5 0 1 0 19.0 0a9.5 9.5 0 1 0 -19.0 0Z"/>
<path stroke-width="1.24" d="M246.1 1109.2a9.5 9.5 0 1 0 19.0 0a9.5 9.5 0 1 0 -19.0 0Z"/>
<path stroke-width="1.23" d="M247.1 1108.8a9.5 9.5 0 1 0 19.0 0a9.5 9.5 0 1 0 -19.0 0Z"/>
<path stroke-width="1.22" d="M248.1 1108.4a9.5 9.5 0 1 0 19.0 0a9.5 9.5 0 1 0 -19.0 0Z"/>
<path stroke-width="1.21" d="M249.2 1108.1a9.5 9.5 0 1 0 19.0 0a9.5 9.5 0 1 0 -19.0 0Z"/>
<path stroke-width="1.20" d="M250.2 1107.7a9.5 9.5 0 1 0 19.0 0a9.5 9.5 0 1 0 -19.0 0Z"/>
<path d="M251.2 1107.3a9.5 9.5 0 1 0 19.0 0a9.5 9.5 0 1 0 -19.0 0Z"/>
<path d="M252.2 1107.0a9.5 9.5 0 1 0 19.0 0a9.5 9.5 0 1 0 -19.0 0Z"/>
<path d="M253.3 1106.6a9.5 9.5 0 1 0 19.0 0a9.5 9.5 0 1 0 -19.0 0Z"/>
<path d="M254.3 1106.2a9.5 9.5 0 1 0 19.0 0a9.5 9.5 0 1 0 -19.0 0Z"/>
<path d="M255.3 1105.9a9.5 9.5 0 1 0 19.0 0a9.5 9.5 0 1 0 -19.0 0Z"/>
<path d="M256.4 1105.5a9.5 9.5 0 1 0 19.0 0a9.5 9.5 0 1 0 -19.0 0Z"/>
<path d="M257.5 1105.1a9.5 9.5 0 1 0 19.0 0a9.5 9.5 0 1 0 -19.0 0Z"/>
<path d="M258.5 1104.8a9.5 9.5 0 1 0 19.0 0a9.5 9.5 0 1 0 -19.0 0Z"/>
<path d="M259.6 1104.4a9.5 9.5 0 1 0 19.0 0a9.5 9.5 0 1 0 -19.0 0Z"/>
<path d="M260.7 1104.0a9.5 9.5 0 1 0 19.0 0a9.5 9.5 0 1 0 -19.0 0Z"/>
<path d="M261.7 1103.6a9.5 9.5 0 1 0 19.0 0a9.5 9.5 0 1 0 -19.0 0Z"/>
<path d="M262.8 1103.3a9.5 9.5 0 1 0 19.0 0a9.5 9.5 0 1 0 -19.0 0Z"/>
<path d="M263.9 1102.9a9.5 9.5 0 1 0 19.0 0a9.5 9.5 0 1 0 -19.0 0Z"/>
<path d="M265.0 1102.5a9.5 9.5 0 1 0 19.0 0a9.5 9.5 0 1 0 -19.0 0Z"/>
<path d="M266.1 1102.1a9.5 9.5 0 1 0 19.0 0a9.5 9.5 0 1 0 -19.0 0Z"/>
<path d="M267.2 1101.8a9.5 9.5 0 1 0 19.0 0a9.5 9.5 0 1 0 -19.0 0Z"/>
<path d="M268.3 1101.4a9.5 9.5 0 1 0 19.0 0a9.5 9.5 0 1 0 -19.0 0Z"/>
<path d="M269.5 1101.0a9.5 9.5 0 1 0 19.0 0a9.5 9.5 0 1 0 -19.0 0Z"/>
<path d="M270.6 1100.6a9.5 9.5 0 1 0 19.0 0a9.5 9.5 0 1 0 -19.0 0Z"/>
<path d="M271.7 1100.2a9.5 9.5 0 1 0 19.0 0a9.5 9.5 0 1 0 -19.0 0Z"/>
<path d="M272.9 1099.8a9.5 9.5 0 1 0 19.0 0a9.5 9.5 0 1 0 -19.0 0Z"/>
<path d="M274.0 1099.5a9.5 9.5 0 1 0 19.0 0a9.5 9.5 0 1 0 -19.0 0Z"/>
<path d="M275.2 1099.0a9.5 9.5 0 1 0 19.0 0a9.5 9.5 0 1 0 -19.0 0Z"/>
<path d="M276.3 1098.6a9.5 9.5 0 1 0 19.0 0a9.5 9.5 0 1 0 -19.0 0Z"/>
<path d="M277.5 1098.2a9.5 9.5 0 1 0 19.0 0a9.5 9.5 0 1 0 -19.0 0Z"/>
<path d="M278.7 1097.8a9.5 9.5 0 1 0 19.0 0a9.5 9.5 0 1 0 -19.0 0Z"/>
<path d="M279.8 1097.4a9.5 9.5 0 1 0 19.0 0a9.5 9.5 0 1 0 -19.0 0Z"/>
<path d="M281.0 1096.9a9.5 9.5 0 1 0 19.0 0a9.5 9.5 0 1 0 -19.0 0Z"/>
<path d="M282.2 1096.5a9.5 9.5 0 1 0 19.0 0a9.5 9.5 0 1 0 -19.0 0Z"/>
<path d="M283.4 1096.0a9.5 9.5 0 1 0 19.0 0a9.5 9.5 0 1 0 -19.0 0Z"/>
<path d="M284.6 1095.5a9.5 9.5 0 1 0 19.0 0a9.5 9.5 0 1 0 -19.0 0Z"/>
<path d="M285.8 1095.1a9.5 9.5 0 1 0 19.0 0a9.5 9.5 0 1 0 -19.0 0Z"/>
<path d="M287.0 1094.6a9.5 9.5 0 1 0 19.0 0a9.5 9.5 0 1 0 -19.0 0Z"/>
<path d="M288.3 1094.0a9.5 9.5 0 1 0 19.0 0a9.5 9.5 0 1 0 -19.0 0Z"/>
<path d="M289.5 1093.5a9.5 9.5 0 1 0 19.0 0a9.5 9.5 0 1 0 -19.0 0Z"/>
<path d="M290.7 1093.0a9.5 9.5 0 1 0 19.0 0a9.5 9.5 0 1 0 -19.0 0Z"/>
<path d="M292.0 1090.4a9.5 9.5 0 1 0 19.0 0a9.5 9.5 0 1 0 -19.0 0Z"/>
<path d="M293.2 1089.8a9.5 9.5 0 1 0 19.0 0a9.5 9.5 0 1 0 -19.0 0Z"/>
<path d="M294.5 1089.1a9.5 9.5 0 1 0 19.0 0a9.5 9.5 0 1 0 -19.0 0Z"/>
<path d="M295.8 1088.4a9.5 9.5 0 1 0 19.0 0a9.5 9.5 0 1 0 -19.0 0Z"/>
<path d="M297.0 1087.7a9.5 9.5 0 1 0 19.0 0a9.5 9.5 0 1 0 -19.0 0Z"/>
<path d="M298.3 1086.9a9.5 9.5 0 1 0 19.0 0a9.5 9.5 0 1 0 -19.0 0Z"/>
<path d="M299.6 1086.2a9.5 9.5 0 1 0 19.0 0a9.5 9.5 0 1 0 -19.0 0Z"/>
<path d="M300.9 1085.4a9.5 9.5 0 1 0 19.0 0a9.5 9.5 0 1 0 -19.0 0Z"/>
<path d="M302.2 1084.6a9.5 9.5 0 1 0 19.0 0a9.5 9.5 0 1 0 -19.0 0Z"/>
<path d="M303.5 1083.8a9.5 9.5 0 1 0 19.0 0a9.5 9.5 0 1 0 -19.0 0Z"/>
<path d="M304.9 1083.0a9.5 9.5 0 1 0 19.0 0a9.5 9.5 0 1 0 -19.0 0Z"/>
<path d="M306.2 1082.1a9.5 9.5 0 1 0 19.0 0a9.5 9.5 0 1 0 -19.0 0Z"/>
<path d="M307.5 1081.3a9.5 9.5 0 1 0 19.0 0a9.5 9.5 0 1 0 -19.0 0Z"/>
<path d="M308.9 1080.4a9.5 9.5 0 1 0 19.0 0a9.5 9.5 0 1 0 -19.0 0Z"/>
<path d="M310.2 1079.6a9.5 9.5 0 1 0 19.0 0a9.5 9.5 0 1 0 -19.0 0Z"/>
<path d="M311.6 1078.7a9.5 9.5 0 1 0 19.0 0a9.5 9.5 0 1 0 -19.0 0Z"/>
<path d="M312.9 1077.8a9.5 9.5 0 1 0 19.0 0a9.5 9.5 0 1 0 -19.0 0Z"/>
<path d="M314.3 1076.9a9.5 9.5 0 1 0 19.0 0a9.5 9.5 0 1 0 -19.0 0Z"/>
<path d="M315.7 1076.0a9.5 9.5 0 1 0 19.0 0a9.5 9.5 0 1 0 -19.0 0Z"/>
<path d="M317.1 1075.1a9.5 9.5 0 1 0 19.0 0a9.5 9.5 0 1 0 -19.0 0Z"/>
<path d="M318.5 1074.2a9.5 9.5 0 1 0 19.0 0a9.5 9.5 0 1 0 -19.0 0Z"/>
<path d="M319.9 1073.2a9.5 9.5 0 1 0 19.0 0a9.5 9.5 0 1 0 -19.0 0Z"/>
<path d="M321.3 1072.3a9.5 9.5 0 1 0 19.0 0a9.5 9.5 0 1 0 -19.0 0Z"/>
<path d="M322.8 1071.3a9.5 9.5 0 1 0 19.0 0a9.5 9.5 0 1 0 -19.0 0Z"/>
<path d="M324.2 1070.2a9.5 9.5 0 1 0 19.0 0a9.5 9.5 0 1 0 -19.0 0Z"/>
<path d="M325.6 1069.2a9.5 9.5 0 1 0 19.0 0a9.5 9.5 0 1 0 -19.0 0Z"/>
<path d="M327.1 1068.2a9.5 9.5 0 1 0 19.0 0a9.5 9.5 0 1 0 -19.0 0Z"/>
<path d="M328.6 1067.1a9.5 9.5 0 1 0 19.0 0a9.5 9.5 0 1 0 -19.0 0Z"/>
<path d="M330.0 1066.0a9.5 9.5 0 1 0 19.0 0a9.5 9.5 0 1 0 -19.0 0Z"/>
<path d="M331.5 1064.9a9.5 9.5 0 1 0 19.0 0a9.5 9.5 0 1 0 -19.0 0Z"/>
<path d="M333.0 1063.8a9.5 9.5 0 1 0 19.0 0a9.5 9.5 0 1 0 -19.0 0Z"/>
<path d="M334.5 1062.8a9.5 9.5 0 1 0 19.0 0a9.5 9.5 0 1 0 -19.0 0Z"/>
<path d="M336.0 1061.6a9.5 9.5 0 1 0 19.0 0a9.5 9.5 0 1 0 -19.0 0Z"/>
<path d="M337.5 1060.5a9.5 9.5 0 1 0 19.0 0a9.5 9.5 0 1 0 -19.0 0Z"/>
<path d="M339.1 1059.5a9.5 9.5 0 1 0 19.0 0a9.5 9.5 0 1 0 -19.0 0Z"/>
<path d="M340.6 1058.4a9.5 9.5 0 1 0 19.0 0a9.5 9.5 0 1 0 -19.0 0Z"/>
<path d="M342.1 1057.3a9.5 9.5 0 1 0 19.0 0a9.5 9.5 0 1 0 -19.0 0Z"/>
<path d="M343.7 1056.3a9.5 9.5 0 1 0 19.0 0a9.5 9.5 0 1 0 -19.0 0Z"/>
<path d="M345.3 1055.1a9.5 9.5 0 1 0 19.0 0a9.5 9.5 0 1 0 -19.0 0Z"/>
<path d="M346.8 1054.1a9.5 9.5 0 1 0 19.0 0a9.5 9.5 0 1 0 -19.0 0Z"/>
<path d="M348.5 1053.0a9.5 9.5 0 1 0 19.0 0a9.5 9.5 0 1 0 -19.0 0Z"/>
<path d="M350.0 1052.0a9.5 9.5 0 1 0 19.0 0a9.5 9.5 0 1 0 -19.0 0Z"/>
<path d="M351.6 1051.1a9.5 9.5 0 1 0 19.0 0a9.5 9.5 0 1 0 -19.0 0Z"/>
<path d="M353.2 1050.1a9.5 9.5 0 1 0 19.0 0a9.5 9.5 0 1 0 -19.0 0Z"/>
<path d="M354.9 1049.1a9.5 9.5 0 1 0 19.0 0a9.5 9.5 0 1 0 -19.0 0Z"/>
<path d="M356.5 1048.1a9.5 9.5 0 1 0 19.0 0a9.5 9.5 0 1 0 -19.0 0Z"/>
<path d="M358.2 1047.1a9.5 9.5 0 1 0 19.0 0a9.5 9.5 0 1 0 -19.0 0Z"/>
<path d="M359.8 1046.1a9.5 9.5 0 1 0 19.0 0a9.5 9.5 0 1 0 -19.0 0Z"/>
<path d="M361.5 1045.0a9.5 9.5 0 1 0 19.0 0a9.5 9.5 0 1 0 -19.0 0Z"/>
<path d="M363.2 1043.9a9.5 9.5 0 1 0 19.0 0a9.5 9.5 0 1 0 -19.0 0Z"/>
<path d="M364.9 1042.8a9.5 9.5 0 1 0 19.0 0a9.5 9.5 0 1 0 -19.0 0Z"/>
<path d="M366.6 1041.6a9.5 9.5 0 1 0 19.0 0a9.5 9.5 0 1 0 -19.0 0Z"/>
<path d="M368.3 1040.4a9.5 9.5 0 1 0 19.0 0a9.5 9.5 0 1 0 -19.0 0Z"/>
<path d="M370.0 1039.1a9.5 9.5 0 1 0 19.0 0a9.5 9.5 0 1 0 -19.0 0Z"/>
<path d="M371.8 1037.8a9.5 9.5 0 1 0 19.0 0a9.5 9.5 0 1 0 -19.0 0Z"/>
<path d="M373.5 1036.4a9.5 9.5 0 1 0 19.0 0a9.5 9.5 0 1 0 -19.0 0Z"/>
<path d="M375.4 1035.2a9.5 9.5 0 1 0 19.0 0a9.5 9.5 0 1 0 -19.0 0Z"/>
<path d="M377.1 1033.3a9.5 9.5 0 1 0 19.0 0a9.5 9.5 0 1 0 -19.0 0Z"/>
<path d="M378.9 1032.0a9.5 9.5 0 1 0 19.0 0a9.5 9.5 0 1 0 -19.0 0Z"/>
<path d="M380.6 1030.8a9.5 9.5 0 1 0 19.0 0a9.5 9.5 0 1 0 -19.0 0Z"/>
<path d="M382.5 1028.8a9.5 9.5 0 1 0 19.0 0a9.5 9.5 0 1 0 -19.0 0Z"/>
<path d="M384.3 1027.0a9.5 9.5 0 1 0 19.0 0a9.5 9.5 0 1 0 -19.0 0Z"/>
<path d="M386.2 1025.5a9.5 9.5 0 1 0 19.0 0a9.5 9.5 0 1 0 -19.0 0Z"/>
<path d="M388.0 1024.0a9.5 9.5 0 1 0 19.0 0a9.5 9.5 0 1 0 -19.0 0Z"/>
<path d="M389.9 1022.0a9.5 9.5 0 1 0 19.0 0a9.5 9.5 0 1 0 -19.0 0Z"/>
<path d="M391.9 1020.3a9.5 9.5 0 1 0 19.0 0a9.5 9.5 0 1 0 -19.0 0Z"/>
<path d="M393.7 1018.2a9.5 9.5 0 1 0 19.0 0a9.5 9.5 0 1 0 -19.0 0Z"/>
<path d="M395.5 1016.1a9.5 9.5 0 1 0 19.0 0a9.5 9.5 0 1 0 -19.0 0Z"/>
<path d="M397.4 1014.7a9.5 9.5 0 1 0 19.0 0a9.5 9.5 0 1 0 -19.0 0Z"/>
<path d="M399.5 1012.0a9.5 9.5 0 1 0 19.0 0a9.5 9.5 0 1 0 -19.0 0Z"/>
<path d="M401.3 1009.6a9.5 9.5 0 1 0 19.0 0a9.5 9.5 0 1 0 -19.0 0Z"/>
<path d="M403.4 1007.3a9.5 9.5 0 1 0 19.0 0a9.5 9.5 0 1 0 -19.0 0Z"/>
<path d="M405.4 1004.9a9.5 9.5 0 1 0 19.0 0a9.5 9.5 0 1 0 -19.0 0Z"/>
<path d="M407.2 1002.2a9.5 9.5 0 1 0 19.0 0a9.5 9.5 0 1 0 -19.0 0Z"/>
<path d="M409.3 999.5a9.5 9.5 0 1 0 19.0 0a9.5 9.5 0 1 0 -19.0 0Z"/>
<path d="M411.3 996.5a9.5 9.5 0 1 0 19.0 0a9.5 9.5 0 1 0 -19.0 0Z"/>
<path d="M413.4 993.2a9.5 9.5 0 1 0 19.0 0a9.5 9.5 0 1 0 -19.0 0Z"/>
<path d="M415.4 990.9a9.5 9.5 0 1 0 19.0 0a9.5 9.5 0 1 0 -19.0 0Z"/>
<path d="M417.6 987.8a9.5 9.5 0 1 0 19.0 0a9.5 9.5 0 1 0 -19.0 0Z"/>
<path d="M419.6 984.9a9.5 9.5 0 1 0 19.0 0a9.5 9.5 0 1 0 -19.0 0Z"/>
<path d="M421.6 981.5a9.5 9.5 0 1 0 19.0 0a9.5 9.5 0 1 0 -19.0 0Z"/>
<path d="M423.8 978.7a9.5 9.5 0 1 0 19.0 0a9.5 9.5 0 1 0 -19.0 0Z"/>
<path d="M425.8 975.6a9.5 9.5 0 1 0 19.0 0a9.5 9.5 0 1 0 -19.0 0Z"/>
<path d="M427.9 972.9a9.5 9.5 0 1 0 19.0 0a9.5 9.5 0 1 0 -19.0 0Z"/>
<path d="M430.4 969.5a9.5 9.5 0 1 0 19.0 0a9.5 9.5 0 1 0 -19.0 0Z"/>
<path d="M432.2 967.2a9.5 9.5 0 1 0 19.0 0a9.5 9.5 0 1 0 -19.0 0Z"/>
<path d="M434.4 964.4a9.5 9.5 0 1 0 19.0 0a9.5 9.5 0 1 0 -19.0 0Z"/>
<path d="M436.7 961.1a9.5 9.5 0 1 0 19.0 0a9.5 9.5 0 1 0 -19.0 0Z"/>
<path d="M438.8 958.5a9.5 9.5 0 1 0 19.0 0a9.5 9.5 0 1 0 -19.0 0Z"/>
<path d="M440.9 955.5a9.5 9.5 0 1 0 19.0 0a9.5 9.5 0 1 0 -19.0 0Z"/>
<path d="M443.5 953.4a9.5 9.5 0 1 0 19.0 0a9.5 9.5 0 1 0 -19.0 0Z"/>
<path d="M445.6 949.2a9.5 9.5 0 1 0 19.0 0a9.5 9.5 0 1 0 -19.0 0Z"/>
<path d="M447.9 947.3a9.5 9.5 0 1 0 19.0 0a9.5 9.5 0 1 0 -19.0 0Z"/>
<path d="M450.2 943.8a9.5 9.5 0 1 0 19.0 0a9.5 9.5 0 1 0 -19.0 0Z"/>
<path d="M452.4 941.8a9.5 9.5 0 1 0 19.0 0a9.5 9.5 0 1 0 -19.0 0Z"/>
<path d="M454.8 939.9a9.5 9.5 0 1 0 19.0 0a9.5 9.5 0 1 0 -19.0 0Z"/>
<path d="M457.3 936.7a9.5 9.5 0 1 0 19.0 0a9.5 9.5 0 1 0 -19.0 0Z"/>
<path d="M460.1 934.9a9.5 9.5 0 1 0 19.0 0a9.5 9.5 0 1 0 -19.0 0Z"/>
<path d="M462.2 932.7a9.5 9.5 0 1 0 19.0 0a9.5 9.5 0 1 0 -19.0 0Z"/>
<path d="M464.6 931.9a9.5 9.5 0 1 0 19.0 0a9.5 9.5 0 1 0 -19.0 0Z"/>
<path d="M466.7 929.2a9.5 9.5 0 1 0 19.0 0a9.5 9.5 0 1 0 -19.0 0Z"/>
<path d="M469.4 927.4a9.5 9.5 0 1 0 19.0 0a9.5 9.5 0 1 0 -19.0 0Z"/>
<path d="M471.6 923.8a9.5 9.5 0 1 0 19.0 0a9.5 9.5 0 1 0 -19.0 0Z"/>
<path d="M474.5 921.4a9.5 9.5 0 1 0 19.0 0a9.5 9.5 0 1 0 -19.0 0Z"/>
<path d="M476.9 920.9a9.5 9.5 0 1 0 19.0 0a9.5 9.5 0 1 0 -19.0 0Z"/>
<path d="M479.5 917.9a9.5 9.5 0 1 0 19.0 0a9.5 9.5 0 1 0 -19.0 0Z"/>
<path d="M482.0 915.3a9.5 9.5 0 1 0 19.0 0a9.5 9.5 0 1 0 -19.0 0Z"/>
<path d="M484.4 913.3a9.5 9.5 0 1 0 19.0 0a9.5 9.5 0 1 0 -19.0 0Z"/>
<path d="M486.8 909.5a9.5 9.5 0 1 0 19.0 0a9.5 9.5 0 1 0 -19.0 0Z"/>
<path d="M489.6 908.2a9.5 9.5 0 1 0 19.0 0a9.5 9.5 0 1 0 -19.0 0Z"/>
<path d="M492.1 904.3a9.5 9.5 0 1 0 19.0 0a9.5 9.5 0 1 0 -19.0 0Z"/>
<path d="M494.1 901.8a9.5 9.5 0 1 0 19.0 0a9.5 9.5 0 1 0 -19.0 0Z"/>
<path d="M497.7 897.2a9.5 9.5 0 1 0 19.0 0a9.5 9.5 0 1 0 -19.0 0Z"/>
<path d="M499.3 895.4a9.5 9.5 0 1 0 19.0 0a9.5 9.5 0 1 0 -19.0 0Z"/>
<path d="M503.3 890.0a9.5 9.5 0 1 0 19.0 0a9.5 9.5 0 1 0 -19.0 0Z"/>
<path d="M504.9 888.4a9.5 9.5 0 1 0 19.0 0a9.5 9.5 0 1 0 -19.0 0Z"/>
<path d="M508.9 883.0a9.5 9.5 0 1 0 19.0 0a9.5 9.5 0 1 0 -19.0 0Z"/>
<path d="M509.9 879.1a9.5 9.5 0 1 0 19.0 0a9.5 9.5 0 1 0 -19.0 0Z"/>
<path d="M514.5 871.5a9.5 9.5 0 1 0 19.0 0a9.5 9.5 0 1 0 -19.0 0Z"/>
<path d="M515.4 866.1a9.5 9.5 0 1 0 19.0 0a9.5 9.5 0 1 0 -19.0 0Z"/>
<path d="M519.6 854.5a9.5 9.5 0 1 0 19.0 0a9.5 9.5 0 1 0 -19.0 0Z"/>
<path d="M520.7 853.9a9.5 9.5 0 1 0 19.0 0a9.5 9.5 0 1 0 -19.0 0Z"/>
<path d="M525.7 846.7a9.5 9.5 0 1 0 19.0 0a9.5 9.5 0 1 0 -19.0 0Z"/>
<path d="M525.6 844.3a9.5 9.5 0 1 0 19.0 0a9.5 9.5 0 1 0 -19.0 0Z"/>
<path d="M532.0 838.5a9.5 9.5 0 1 0 19.0 0a9.5 9.5 0 1 0 -19.0 0Z"/>
<path d="M531.5 835.4a9.5 9.5 0 1 0 19.0 0a9.5 9.5 0 1 0 -19.0 0Z"/>
<path d="M538.2 831.0a9.5 9.5 0 1 0 19.0 0a9.5 9.5 0 1 0 -19.0 0Z"/>
<path d="M537.8 830.9a9.5 9.5 0 1 0 19.0 0a9.5 9.5 0 1 0 -19.0 0Z"/>
<path d="M543.2 825.2a9.5 9.5 0 1 0 19.0 0a9.5 9.5 0 1 0 -19.0 0Z"/>
<path d="M543.2 820.9a9.5 9.5 0 1 0 19.0 0a9.5 9.5 0 1 0 -19.0 0Z"/>
<path d="M551.3 813.4a9.5 9.5 0 1 0 19.0 0a9.5 9.5 0 1 0 -19.0 0Z"/>
<path d="M549.5 813.1a9.5 9.5 0 1 0 19.0 0a9.5 9.5 0 1 0 -19.0 0Z"/>
<path d="M557.5 801.2a9.5 9.5 0 1 0 19.0 0a9.5 9.5 0 1 0 -19.0 0Z"/>
<path d="M555.2 803.0a9.5 9.5 0 1 0 19.0 0a9.5 9.5 0 1 0 -19.0 0Z"/>
<path d="M562.6 792.4a9.5 9.5 0 1 0 19.0 0a9.5 9.5 0 1 0 -19.0 0Z"/>
<path d="M560.7 789.1a9.5 9.5 0 1 0 19.0 0a9.5 9.5 0 1 0 -19.0 0Z"/>
<path d="M570.3 784.9a9.5 9.5 0 1 0 19.0 0a9.5 9.5 0 1 0 -19.0 0Z"/>
<path d="M568.0 786.0a9.5 9.5 0 1 0 19.0 0a9.5 9.5 0 1 0 -19.0 0Z"/>
<path d="M576.3 773.7a9.5 9.5 0 1 0 19.0 0a9.5 9.5 0 1 0 -19.0 0Z"/>
<path d="M573.8 776.8a9.5 9.5 0 1 0 19.0 0a9.5 9.5 0 1 0 -19.0 0Z"/>
<path d="M583.7 766.1a9.5 9.5 0 1 0 19.0 0a9.5 9.5 0 1 0 -19.0 0Z"/>
<path d="M579.4 766.9a9.5 9.5 0 1 0 19.0 0a9.5 9.5 0 1 0 -19.0 0Z"/>
<path d="M590.4 753.4a9.5 9.5 0 1 0 19.0 0a9.5 9.5 0 1 0 -19.0 0Z"/>
<path d="M588.0 748.0a9.5 9.5 0 1 0 19.0 0a9.5 9.5 0 1 0 -19.0 0Z"/>
<path d="M599.1 735.3a9.5 9.5 0 1 0 19.0 0a9.5 9.5 0 1 0 -19.0 0Z"/>
<path d="M593.7 738.6a9.5 9.5 0 1 0 19.0 0a9.5 9.5 0 1 0 -19.0 0Z"/>
<path d="M606.2 735.9a9.5 9.5 0 1 0 19.0 0a9.5 9.5 0 1 0 -19.0 0Z"/>
<path d="M600.4 739.0a9.5 9.5 0 1 0 19.0 0a9.5 9.5 0 1 0 -19.0 0Z"/>
<path d="M611.9 730.9a9.5 9.5 0 1 0 19.0 0a9.5 9.5 0 1 0 -19.0 0Z"/>
<path d="M606.7 725.2a9.5 9.5 0 1 0 19.0 0a9.5 9.5 0 1 0 -19.0 0Z"/>
<path d="M620.7 702.7a9.5 9.5 0 1 0 19.0 0a9.5 9.5 0 1 0 -19.0 0Z"/>
</g>
<path d="M630.3 678.2L436.6 1112" stroke="#f00" stroke-width="2.6" stroke-linecap="round" fill="none"/>
<path d="M424 1140.3L430.8 1102.3L436.6 1112L447.8 1109.8Z" fill="#f00" stroke="#f00" stroke-width="1.5" stroke-linejoin="round"/>
<text x="111" y="1164.2" font-size="32" text-anchor="middle" font-weight="normal" fill="#000" >2</text>
<text x="234.5" y="1164.2" font-size="32" text-anchor="middle" font-weight="normal" fill="#000" >3</text>
<text x="357.9" y="1164.2" font-size="32" text-anchor="middle" font-weight="normal" fill="#000" >4</text>
<text x="481.4" y="1164.2" font-size="32" text-anchor="middle" font-weight="normal" fill="#000" >5</text>
<text x="604.9" y="1164.2" font-size="32" text-anchor="middle" font-weight="normal" fill="#000" >6</text>
<text x="239.1" y="715.8" font-size="37" text-anchor="start" font-weight="bold" fill="#ff0000" >S004</text>
<text x="0.1" y="682.7" font-size="36" text-anchor="start" font-weight="normal" fill="#000" >(d)</text>
<g transform="translate(69.7,972.8) rotate(-90)"><text x="-2" y="0" font-size="32">(</text><text x="7.3" y="0" font-size="28" font-family="IPAGothic, 'DejaVu Serif', serif">α</text><text x="31.4" y="0" font-size="32">h</text><text x="46" y="0" font-size="28" font-family="IPAGothic, 'DejaVu Serif', serif">υ</text><text x="69.6" y="0" font-size="32">)</text><text x="77.6" y="-18" font-size="20">2</text><text x="89" y="0" font-size="32" letter-spacing="1.28">(a.u.)</text></g>
<text x="359.1" y="1202.5" font-size="32">h</text><text x="376.2" y="1202.5" font-size="28" font-family="IPAGothic, 'DejaVu Serif', serif">υ</text><text x="405.7" y="1202.5" font-size="32" letter-spacing="1.73">(eV)</text>
<rect x="797.5" y="657.3" width="555.8" height="480.8" fill="none" stroke="#000" stroke-width="3.3"/>
<path d="M797.5 682.5h9.5M797.5 708.4h18M797.5 734.3h9.5M797.5 760.2h18M797.5 786.1h9.5M797.5 812h18M797.5 838h9.5M797.5 863.9h18M797.5 889.8h9.5M797.5 915.7h18M797.5 941.6h9.5M797.5 967.5h18M797.5 993.4h9.5M797.5 1019.3h18M797.5 1045.2h9.5M797.5 1071.2h18M797.5 1097.1h9.5M797.5 1123h18" stroke="#000" stroke-width="3.2" fill="none"/>
<path d="M797.5 1138.1v-17M822.2 1138.1v-9.5M846.9 1138.1v-9.5M871.6 1138.1v-9.5M896.3 1138.1v-9.5M921 1138.1v-17M945.7 1138.1v-9.5M970.4 1138.1v-9.5M995.1 1138.1v-9.5M1019.8 1138.1v-9.5M1044.5 1138.1v-17M1069.2 1138.1v-9.5M1093.9 1138.1v-9.5M1118.6 1138.1v-9.5M1143.3 1138.1v-9.5M1168 1138.1v-17M1192.7 1138.1v-9.5M1217.4 1138.1v-9.5M1242.1 1138.1v-9.5M1266.8 1138.1v-9.5M1291.5 1138.1v-17M1316.2 1138.1v-9.5M1340.9 1138.1v-9.5" stroke="#000" stroke-width="3.2" fill="none"/>
<clipPath id="ce"><rect x="796.1" y="655.9" width="558.6" height="483.6"/></clipPath>
<g clip-path="url(#ce)" fill="#fff" stroke="#ff00ff" stroke-width="1.15" stroke-linejoin="miter">
<path stroke-width="2.15" d="M797.5 1120.9L809.6 1141.9L785.4 1141.9Z"/>
<path stroke-width="2.15" d="M797.9 1120.8L810.0 1141.8L785.8 1141.8Z"/>
<path stroke-width="2.15" d="M798.3 1120.7L810.4 1141.7L786.2 1141.7Z"/>
<path stroke-width="2.15" d="M798.7 1120.6L810.8 1141.6L786.6 1141.6Z"/>
<path stroke-width="2.15" d="M799.1 1120.5L811.2 1141.5L787.0 1141.5Z"/>
<path stroke-width="2.15" d="M799.5 1120.4L811.6 1141.4L787.4 1141.4Z"/>
<path stroke-width="2.15" d="M799.9 1120.3L812.0 1141.3L787.8 1141.3Z"/>
<path stroke-width="2.15" d="M800.3 1120.2L812.4 1141.2L788.2 1141.2Z"/>
<path stroke-width="2.15" d="M800.7 1120.1L812.9 1141.1L788.6 1141.1Z"/>
<path stroke-width="2.15" d="M801.1 1120.0L813.3 1141.0L789.0 1141.0Z"/>
<path stroke-width="2.15" d="M801.5 1119.9L813.7 1140.9L789.4 1140.9Z"/>
<path stroke-width="2.15" d="M802.0 1119.8L814.1 1140.8L789.8 1140.8Z"/>
<path stroke-width="2.15" d="M802.4 1119.6L814.5 1140.6L790.3 1140.6Z"/>
<path stroke-width="2.15" d="M802.8 1119.5L814.9 1140.5L790.7 1140.5Z"/>
<path stroke-width="2.15" d="M803.2 1119.4L815.3 1140.4L791.1 1140.4Z"/>
<path stroke-width="2.15" d="M803.6 1119.3L815.7 1140.3L791.5 1140.3Z"/>
<path stroke-width="2.15" d="M804.0 1119.2L816.2 1140.2L791.9 1140.2Z"/>
<path stroke-width="2.15" d="M804.5 1119.1L816.6 1140.1L792.3 1140.1Z"/>
<path stroke-width="2.15" d="M804.9 1119.0L817.0 1140.0L792.8 1140.0Z"/>
<path stroke-width="2.15" d="M805.3 1118.9L817.4 1139.9L793.2 1139.9Z"/>
<path stroke-width="2.15" d="M805.7 1118.7L817.9 1139.7L793.6 1139.7Z"/>
<path stroke-width="2.15" d="M806.2 1118.6L818.3 1139.6L794.0 1139.6Z"/>
<path stroke-width="2.15" d="M806.6 1118.5L818.7 1139.5L794.5 1139.5Z"/>
<path stroke-width="2.15" d="M807.0 1118.4L819.1 1139.4L794.9 1139.4Z"/>
<path stroke-width="2.15" d="M807.4 1118.3L819.6 1139.3L795.3 1139.3Z"/>
<path stroke-width="2.15" d="M807.9 1118.1L820.0 1139.1L795.8 1139.1Z"/>
<path stroke-width="2.15" d="M808.3 1118.0L820.4 1139.0L796.2 1139.0Z"/>
<path stroke-width="2.15" d="M808.7 1117.9L820.9 1138.9L796.6 1138.9Z"/>
<path stroke-width="2.15" d="M809.2 1117.8L821.3 1138.8L797.1 1138.8Z"/>
<path stroke-width="2.15" d="M809.6 1117.6L821.7 1138.6L797.5 1138.6Z"/>
<path stroke-width="2.15" d="M810.1 1117.5L822.2 1138.5L797.9 1138.5Z"/>
<path stroke-width="2.15" d="M810.5 1117.4L822.6 1138.4L798.4 1138.4Z"/>
<path stroke-width="2.15" d="M810.9 1117.3L823.1 1138.3L798.8 1138.3Z"/>
<path stroke-width="2.15" d="M811.4 1117.1L823.5 1138.1L799.3 1138.1Z"/>
<path stroke-width="2.15" d="M811.8 1117.0L824.0 1138.0L799.7 1138.0Z"/>
<path stroke-width="2.15" d="M812.3 1116.9L824.4 1137.9L800.2 1137.9Z"/>
<path stroke-width="2.15" d="M812.7 1116.7L824.9 1137.7L800.6 1137.7Z"/>
<path stroke-width="2.15" d="M813.2 1116.6L825.3 1137.6L801.1 1137.6Z"/>
<path stroke-width="2.15" d="M813.6 1116.5L825.8 1137.5L801.5 1137.5Z"/>
<path stroke-width="2.15" d="M814.1 1116.3L826.2 1137.3L802.0 1137.3Z"/>
<path stroke-width="2.15" d="M814.5 1116.2L826.7 1137.2L802.4 1137.2Z"/>
<path stroke-width="2.15" d="M815.0 1116.0L827.1 1137.0L802.9 1137.0Z"/>
<path stroke-width="2.15" d="M815.4 1115.9L827.6 1136.9L803.3 1136.9Z"/>
<path stroke-width="2.15" d="M815.9 1115.7L828.0 1136.7L803.8 1136.7Z"/>
<path stroke-width="2.15" d="M816.4 1115.6L828.5 1136.6L804.2 1136.6Z"/>
<path stroke-width="2.15" d="M816.8 1115.5L829.0 1136.5L804.7 1136.5Z"/>
<path stroke-width="2.15" d="M817.3 1115.3L829.4 1136.3L805.2 1136.3Z"/>
<path stroke-width="2.15" d="M817.8 1115.2L829.9 1136.2L805.6 1136.2Z"/>
<path stroke-width="2.15" d="M818.2 1115.0L830.4 1136.0L806.1 1136.0Z"/>
<path stroke-width="2.15" d="M818.7 1114.9L830.8 1135.9L806.6 1135.9Z"/>
<path stroke-width="2.15" d="M819.2 1114.7L831.3 1135.7L807.0 1135.7Z"/>
<path stroke-width="2.15" d="M819.6 1114.6L831.8 1135.6L807.5 1135.6Z"/>
<path stroke-width="2.15" d="M820.1 1114.4L832.2 1135.4L808.0 1135.4Z"/>
<path stroke-width="2.15" d="M820.6 1114.3L832.7 1135.3L808.5 1135.3Z"/>
<path stroke-width="2.15" d="M821.1 1114.1L833.2 1135.1L808.9 1135.1Z"/>
<path stroke-width="2.15" d="M821.5 1113.9L833.7 1134.9L809.4 1134.9Z"/>
<path stroke-width="2.15" d="M822.0 1113.8L834.2 1134.8L809.9 1134.8Z"/>
<path stroke-width="2.15" d="M822.5 1113.6L834.6 1134.6L810.4 1134.6Z"/>
<path stroke-width="2.15" d="M823.0 1113.5L835.1 1134.5L810.9 1134.5Z"/>
<path stroke-width="2.15" d="M823.5 1113.3L835.6 1134.3L811.4 1134.3Z"/>
<path stroke-width="2.15" d="M824.0 1113.1L836.1 1134.1L811.8 1134.1Z"/>
<path stroke-width="2.15" d="M824.5 1113.0L836.6 1134.0L812.3 1134.0Z"/>
<path stroke-width="2.15" d="M824.9 1112.8L837.1 1133.8L812.8 1133.8Z"/>
<path stroke-width="2.15" d="M825.4 1112.6L837.6 1133.6L813.3 1133.6Z"/>
<path stroke-width="2.15" d="M825.9 1112.5L838.1 1133.5L813.8 1133.5Z"/>
<path stroke-width="2.15" d="M826.4 1112.3L838.6 1133.3L814.3 1133.3Z"/>
<path stroke-width="2.15" d="M826.9 1112.1L839.1 1133.1L814.8 1133.1Z"/>
<path stroke-width="2.15" d="M827.4 1111.9L839.6 1132.9L815.3 1132.9Z"/>
<path stroke-width="2.15" d="M827.9 1111.8L840.1 1132.8L815.8 1132.8Z"/>
<path stroke-width="2.15" d="M828.4 1111.6L840.6 1132.6L816.3 1132.6Z"/>
<path stroke-width="2.15" d="M828.9 1111.4L841.1 1132.4L816.8 1132.4Z"/>
<path stroke-width="2.15" d="M829.4 1111.2L841.6 1132.2L817.3 1132.2Z"/>
<path stroke-width="2.15" d="M830.0 1111.1L842.1 1132.1L817.8 1132.1Z"/>
<path stroke-width="2.15" d="M830.5 1110.9L842.6 1131.9L818.3 1131.9Z"/>
<path stroke-width="2.15" d="M831.0 1110.7L843.1 1131.7L818.9 1131.7Z"/>
<path stroke-width="2.15" d="M831.5 1110.5L843.6 1131.5L819.4 1131.5Z"/>
<path stroke-width="2.15" d="M832.0 1110.3L844.1 1131.3L819.9 1131.3Z"/>
<path stroke-width="2.15" d="M832.5 1110.1L844.7 1131.1L820.4 1131.1Z"/>
<path stroke-width="2.15" d="M833.0 1109.9L845.2 1130.9L820.9 1130.9Z"/>
<path stroke-width="2.15" d="M833.6 1109.7L845.7 1130.7L821.4 1130.7Z"/>
<path stroke-width="2.15" d="M834.1 1109.5L846.2 1130.5L822.0 1130.5Z"/>
<path stroke-width="2.15" d="M834.6 1109.3L846.7 1130.3L822.5 1130.3Z"/>
<path stroke-width="2.15" d="M835.2 1109.1L847.3 1130.1L823.0 1130.1Z"/>
<path stroke-width="2.15" d="M835.7 1108.9L847.8 1129.9L823.6 1129.9Z"/>
<path stroke-width="2.15" d="M836.2 1108.6L848.3 1129.6L824.1 1129.6Z"/>
<path stroke-width="2.15" d="M836.7 1108.4L848.9 1129.4L824.6 1129.4Z"/>
<path stroke-width="2.15" d="M837.3 1108.2L849.4 1129.2L825.2 1129.2Z"/>
<path stroke-width="2.15" d="M837.8 1108.0L849.9 1129.0L825.7 1129.0Z"/>
<path stroke-width="2.15" d="M838.4 1107.8L850.5 1128.8L826.2 1128.8Z"/>
<path stroke-width="2.15" d="M838.9 1107.5L851.0 1128.5L826.8 1128.5Z"/>
<path stroke-width="2.15" d="M839.4 1107.3L851.6 1128.3L827.3 1128.3Z"/>
<path stroke-width="2.15" d="M840.0 1107.1L852.1 1128.1L827.9 1128.1Z"/>
<path stroke-width="2.15" d="M840.5 1106.8L852.7 1127.8L828.4 1127.8Z"/>
<path stroke-width="2.15" d="M841.1 1106.6L853.2 1127.6L829.0 1127.6Z"/>
<path stroke-width="2.14" d="M841.6 1106.4L853.8 1127.4L829.5 1127.4Z"/>
<path stroke-width="2.14" d="M842.2 1106.1L854.3 1127.1L830.1 1127.1Z"/>
<path stroke-width="2.13" d="M842.8 1105.9L854.9 1126.9L830.6 1126.9Z"/>
<path stroke-width="2.13" d="M843.3 1105.6L855.4 1126.6L831.2 1126.6Z"/>
<path stroke-width="2.12" d="M843.9 1105.4L856.0 1126.4L831.8 1126.4Z"/>
<path stroke-width="2.12" d="M844.4 1105.1L856.6 1126.1L832.3 1126.1Z"/>
<path stroke-width="2.11" d="M845.0 1104.9L857.1 1125.9L832.9 1125.9Z"/>
<path stroke-width="2.11" d="M845.6 1104.6L857.7 1125.6L833.4 1125.6Z"/>
<path stroke-width="2.10" d="M846.1 1104.4L858.3 1125.4L834.0 1125.4Z"/>
<path stroke-width="2.10" d="M846.7 1104.1L858.8 1125.1L834.6 1125.1Z"/>
<path stroke-width="2.09" d="M847.3 1103.9L859.4 1124.9L835.2 1124.9Z"/>
<path stroke-width="2.09" d="M847.9 1103.6L860.0 1124.6L835.7 1124.6Z"/>
<path stroke-width="2.08" d="M848.4 1103.3L860.6 1124.3L836.3 1124.3Z"/>
<path stroke-width="2.08" d="M849.0 1103.1L861.1 1124.1L836.9 1124.1Z"/>
<path stroke-width="2.07" d="M849.6 1102.8L861.7 1123.8L837.5 1123.8Z"/>
<path stroke-width="2.06" d="M850.2 1102.5L862.3 1123.5L838.1 1123.5Z"/>
<path stroke-width="2.06" d="M850.8 1102.3L862.9 1123.3L838.7 1123.3Z"/>
<path stroke-width="2.05" d="M851.4 1102.0L863.5 1123.0L839.2 1123.0Z"/>
<path stroke-width="2.05" d="M852.0 1101.7L864.1 1122.7L839.8 1122.7Z"/>
<path stroke-width="2.04" d="M852.6 1101.4L864.7 1122.4L840.4 1122.4Z"/>
<path stroke-width="2.04" d="M853.2 1101.2L865.3 1122.2L841.0 1122.2Z"/>
<path stroke-width="2.03" d="M853.8 1100.9L865.9 1121.9L841.6 1121.9Z"/>
<path stroke-width="2.03" d="M854.4 1100.6L866.5 1121.6L842.2 1121.6Z"/>
<path stroke-width="2.02" d="M855.0 1100.3L867.1 1121.3L842.8 1121.3Z"/>
<path stroke-width="2.02" d="M855.6 1100.1L867.7 1121.1L843.4 1121.1Z"/>
<path stroke-width="2.01" d="M856.2 1099.8L868.3 1120.8L844.0 1120.8Z"/>
<path stroke-width="2.01" d="M856.8 1099.5L868.9 1120.5L844.7 1120.5Z"/>
<path stroke-width="2.00" d="M857.4 1099.2L869.5 1120.2L845.3 1120.2Z"/>
<path stroke-width="1.99" d="M858.0 1099.0L870.1 1120.0L845.9 1120.0Z"/>
<path stroke-width="1.99" d="M858.6 1098.7L870.8 1119.7L846.5 1119.7Z"/>
<path stroke-width="1.98" d="M859.3 1098.4L871.4 1119.4L847.1 1119.4Z"/>
<path stroke-width="1.98" d="M859.9 1098.1L872.0 1119.1L847.8 1119.1Z"/>
<path stroke-width="1.97" d="M860.5 1097.8L872.6 1118.8L848.4 1118.8Z"/>
<path stroke-width="1.97" d="M861.1 1097.5L873.3 1118.5L849.0 1118.5Z"/>
<path stroke-width="1.96" d="M861.8 1097.3L873.9 1118.3L849.6 1118.3Z"/>
<path stroke-width="1.96" d="M862.4 1097.0L874.5 1118.0L850.3 1118.0Z"/>
<path stroke-width="1.95" d="M863.0 1096.7L875.2 1117.7L850.9 1117.7Z"/>
<path stroke-width="1.94" d="M863.7 1096.4L875.8 1117.4L851.6 1117.4Z"/>
<path stroke-width="1.94" d="M864.3 1096.1L876.4 1117.1L852.2 1117.1Z"/>
<path stroke-width="1.93" d="M865.0 1095.9L877.1 1116.9L852.8 1116.9Z"/>
<path stroke-width="1.93" d="M865.6 1095.6L877.7 1116.6L853.5 1116.6Z"/>
<path stroke-width="1.92" d="M866.3 1095.3L878.4 1116.3L854.1 1116.3Z"/>
<path stroke-width="1.91" d="M866.9 1095.0L879.0 1116.0L854.8 1116.0Z"/>
<path stroke-width="1.91" d="M867.6 1094.8L879.7 1115.8L855.4 1115.8Z"/>
<path stroke-width="1.90" d="M868.2 1094.5L880.3 1115.5L856.1 1115.5Z"/>
<path stroke-width="1.90" d="M868.9 1094.2L881.0 1115.2L856.8 1115.2Z"/>
<path stroke-width="1.89" d="M869.5 1093.9L881.7 1114.9L857.4 1114.9Z"/>
<path stroke-width="1.88" d="M870.2 1093.7L882.3 1114.7L858.1 1114.7Z"/>
<path stroke-width="1.88" d="M870.9 1093.4L883.0 1114.4L858.8 1114.4Z"/>
<path stroke-width="1.87" d="M871.6 1093.1L883.7 1114.1L859.4 1114.1Z"/>
<path stroke-width="1.87" d="M872.2 1092.8L884.4 1113.8L860.1 1113.8Z"/>
<path stroke-width="1.86" d="M872.9 1092.6L885.0 1113.6L860.8 1113.6Z"/>
<path stroke-width="1.85" d="M873.6 1092.3L885.7 1113.3L861.5 1113.3Z"/>
<path stroke-width="1.85" d="M874.3 1092.0L886.4 1113.0L862.1 1113.0Z"/>
<path stroke-width="1.84" d="M875.0 1091.7L887.1 1112.7L862.8 1112.7Z"/>
<path stroke-width="1.84" d="M875.6 1091.4L887.8 1112.4L863.5 1112.4Z"/>
<path stroke-width="1.83" d="M876.3 1091.2L888.5 1112.2L864.2 1112.2Z"/>
<path stroke-width="1.82" d="M877.0 1090.9L889.2 1111.9L864.9 1111.9Z"/>
<path stroke-width="1.82" d="M877.7 1090.6L889.9 1111.6L865.6 1111.6Z"/>
<path stroke-width="1.81" d="M878.4 1090.3L890.6 1111.3L866.3 1111.3Z"/>
<path stroke-width="1.80" d="M879.1 1090.0L891.3 1111.0L867.0 1111.0Z"/>
<path stroke-width="1.80" d="M879.8 1089.8L892.0 1110.8L867.7 1110.8Z"/>
<path stroke-width="1.79" d="M880.6 1089.5L892.7 1110.5L868.4 1110.5Z"/>
<path stroke-width="1.79" d="M881.3 1089.2L893.4 1110.2L869.1 1110.2Z"/>
<path stroke-width="1.78" d="M882.0 1088.9L894.1 1109.9L869.9 1109.9Z"/>
<path stroke-width="1.77" d="M882.7 1088.6L894.8 1109.6L870.6 1109.6Z"/>
<path stroke-width="1.77" d="M883.4 1088.3L895.5 1109.3L871.3 1109.3Z"/>
<path stroke-width="1.76" d="M884.1 1088.0L896.3 1109.0L872.0 1109.0Z"/>
<path stroke-width="1.75" d="M884.9 1087.7L897.0 1108.7L872.8 1108.7Z"/>
<path stroke-width="1.75" d="M885.6 1087.5L897.7 1108.5L873.5 1108.5Z"/>
<path stroke-width="1.74" d="M886.3 1087.2L898.5 1108.2L874.2 1108.2Z"/>
<path stroke-width="1.73" d="M887.1 1086.9L899.2 1107.9L875.0 1107.9Z"/>
<path stroke-width="1.73" d="M887.8 1086.6L899.9 1107.6L875.7 1107.6Z"/>
<path stroke-width="1.72" d="M888.6 1086.3L900.7 1107.3L876.4 1107.3Z"/>
<path stroke-width="1.71" d="M889.3 1086.0L901.4 1107.0L877.2 1107.0Z"/>
<path stroke-width="1.71" d="M890.1 1085.7L902.2 1106.7L877.9 1106.7Z"/>
<path stroke-width="1.70" d="M890.8 1085.4L902.9 1106.4L878.7 1106.4Z"/>
<path stroke-width="1.69" d="M891.6 1085.1L903.7 1106.1L879.5 1106.1Z"/>
<path stroke-width="1.69" d="M892.3 1084.8L904.5 1105.8L880.2 1105.8Z"/>
<path stroke-width="1.68" d="M893.1 1084.5L905.2 1105.5L881.0 1105.5Z"/>
<path stroke-width="1.67" d="M893.9 1084.2L906.0 1105.2L881.7 1105.2Z"/>
<path stroke-width="1.66" d="M894.6 1083.9L906.8 1104.9L882.5 1104.9Z"/>
<path stroke-width="1.66" d="M895.4 1083.6L907.5 1104.6L883.3 1104.6Z"/>
<path stroke-width="1.65" d="M896.2 1083.3L908.3 1104.3L884.1 1104.3Z"/>
<path stroke-width="1.64" d="M897.0 1083.0L909.1 1104.0L884.9 1104.0Z"/>
<path stroke-width="1.64" d="M897.8 1082.7L909.9 1103.7L885.6 1103.7Z"/>
<path stroke-width="1.63" d="M898.6 1082.4L910.7 1103.4L886.4 1103.4Z"/>
<path stroke-width="1.62" d="M899.3 1082.1L911.5 1103.1L887.2 1103.1Z"/>
<path stroke-width="1.62" d="M900.1 1081.7L912.3 1102.7L888.0 1102.7Z"/>
<path stroke-width="1.61" d="M900.9 1081.4L913.1 1102.4L888.8 1102.4Z"/>
<path stroke-width="1.60" d="M901.7 1081.1L913.9 1102.1L889.6 1102.1Z"/>
<path stroke-width="1.59" d="M902.6 1080.8L914.7 1101.8L890.4 1101.8Z"/>
<path stroke-width="1.59" d="M903.4 1080.5L915.5 1101.5L891.2 1101.5Z"/>
<path stroke-width="1.58" d="M904.2 1080.2L916.3 1101.2L892.1 1101.2Z"/>
<path stroke-width="1.57" d="M905.0 1079.9L917.1 1100.9L892.9 1100.9Z"/>
<path stroke-width="1.56" d="M905.8 1079.5L917.9 1100.5L893.7 1100.5Z"/>
<path stroke-width="1.56" d="M906.6 1079.2L918.8 1100.2L894.5 1100.2Z"/>
<path stroke-width="1.55" d="M907.5 1078.9L919.6 1099.9L895.4 1099.9Z"/>
<path stroke-width="1.54" d="M908.3 1078.6L920.4 1099.6L896.2 1099.6Z"/>
<path stroke-width="1.53" d="M909.2 1078.2L921.3 1099.2L897.0 1099.2Z"/>
<path stroke-width="1.53" d="M910.0 1077.9L922.1 1098.9L897.9 1098.9Z"/>
<path stroke-width="1.52" d="M910.8 1077.6L923.0 1098.6L898.7 1098.6Z"/>
<path stroke-width="1.51" d="M911.7 1077.3L923.8 1098.3L899.6 1098.3Z"/>
<path stroke-width="1.50" d="M912.5 1076.9L924.7 1097.9L900.4 1097.9Z"/>
<path stroke-width="1.50" d="M913.4 1076.6L925.5 1097.6L901.3 1097.6Z"/>
<path stroke-width="1.49" d="M914.3 1076.3L926.4 1097.3L902.1 1097.3Z"/>
<path stroke-width="1.48" d="M915.1 1075.9L927.3 1096.9L903.0 1096.9Z"/>
<path stroke-width="1.47" d="M916.0 1075.6L928.1 1096.6L903.9 1096.6Z"/>
<path stroke-width="1.46" d="M916.9 1075.3L929.0 1096.3L904.8 1096.3Z"/>
<path stroke-width="1.46" d="M917.8 1074.9L929.9 1095.9L905.6 1095.9Z"/>
<path stroke-width="1.45" d="M918.6 1074.6L930.8 1095.6L906.5 1095.6Z"/>
<path stroke-width="1.44" d="M919.5 1074.3L931.6 1095.3L907.4 1095.3Z"/>
<path stroke-width="1.43" d="M920.4 1073.9L932.5 1094.9L908.3 1094.9Z"/>
<path stroke-width="1.43" d="M921.3 1073.6L933.4 1094.6L909.2 1094.6Z"/>
<path stroke-width="1.42" d="M922.2 1073.3L934.3 1094.3L910.1 1094.3Z"/>
<path stroke-width="1.41" d="M923.1 1072.9L935.2 1093.9L911.0 1093.9Z"/>
<path stroke-width="1.40" d="M924.0 1072.6L936.1 1093.6L911.9 1093.6Z"/>
<path stroke-width="1.39" d="M924.9 1072.2L937.1 1093.2L912.8 1093.2Z"/>
<path stroke-width="1.38" d="M925.9 1071.9L938.0 1092.9L913.7 1092.9Z"/>
<path stroke-width="1.38" d="M926.8 1071.5L938.9 1092.5L914.7 1092.5Z"/>
<path stroke-width="1.37" d="M927.7 1071.2L939.8 1092.2L915.6 1092.2Z"/>
<path stroke-width="1.36" d="M928.6 1070.9L940.8 1091.9L916.5 1091.9Z"/>
<path stroke-width="1.35" d="M929.6 1070.5L941.7 1091.5L917.4 1091.5Z"/>
<path stroke-width="1.34" d="M930.5 1070.1L942.6 1091.1L918.4 1091.1Z"/>
<path stroke-width="1.33" d="M931.5 1069.8L943.6 1090.8L919.3 1090.8Z"/>
<path stroke-width="1.33" d="M932.4 1069.4L944.5 1090.4L920.3 1090.4Z"/>
<path stroke-width="1.32" d="M933.4 1069.1L945.5 1090.1L921.2 1090.1Z"/>
<path stroke-width="1.31" d="M934.3 1068.7L946.4 1089.7L922.2 1089.7Z"/>
<path stroke-width="1.30" d="M935.3 1068.3L947.4 1089.3L923.2 1089.3Z"/>
<path stroke-width="1.29" d="M936.3 1068.0L948.4 1089.0L924.1 1089.0Z"/>
<path stroke-width="1.28" d="M937.2 1067.6L949.4 1088.6L925.1 1088.6Z"/>
<path stroke-width="1.27" d="M938.2 1067.2L950.3 1088.2L926.1 1088.2Z"/>
<path stroke-width="1.26" d="M939.2 1066.9L951.3 1087.9L927.1 1087.9Z"/>
<path stroke-width="1.26" d="M940.2 1066.5L952.3 1087.5L928.1 1087.5Z"/>
<path stroke-width="1.25" d="M941.2 1066.1L953.3 1087.1L929.1 1087.1Z"/>
<path stroke-width="1.24" d="M942.2 1065.7L954.3 1086.7L930.1 1086.7Z"/>
<path stroke-width="1.23" d="M943.2 1065.3L955.3 1086.3L931.1 1086.3Z"/>
<path stroke-width="1.22" d="M944.2 1064.9L956.3 1085.9L932.1 1085.9Z"/>
<path stroke-width="1.21" d="M945.2 1064.5L957.3 1085.5L933.1 1085.5Z"/>
<path stroke-width="1.20" d="M946.2 1064.1L958.3 1085.1L934.1 1085.1Z"/>
<path d="M947.2 1063.7L959.4 1084.7L935.1 1084.7Z"/>
<path d="M948.3 1063.3L960.4 1084.3L936.2 1084.3Z"/>
<path d="M949.3 1062.9L961.4 1083.9L937.2 1083.9Z"/>
<path d="M950.4 1062.5L962.5 1083.5L938.2 1083.5Z"/>
<path d="M951.4 1062.1L963.5 1083.1L939.3 1083.1Z"/>
<path d="M952.5 1061.7L964.6 1082.7L940.3 1082.7Z"/>
<path d="M953.5 1061.3L965.6 1082.3L941.4 1082.3Z"/>
<path d="M954.6 1060.8L966.7 1081.8L942.5 1081.8Z"/>
<path d="M955.6 1060.4L967.8 1081.4L943.5 1081.4Z"/>
<path d="M956.7 1060.0L968.8 1081.0L944.6 1081.0Z"/>
<path d="M957.8 1059.6L969.9 1080.6L945.7 1080.6Z"/>
<path d="M958.9 1059.1L971.0 1080.1L946.8 1080.1Z"/>
<path d="M960.0 1058.7L972.1 1079.7L947.9 1079.7Z"/>
<path d="M961.1 1058.3L973.2 1079.3L949.0 1079.3Z"/>
<path d="M962.2 1057.8L974.3 1078.8L950.1 1078.8Z"/>
<path d="M963.3 1057.4L975.4 1078.4L951.2 1078.4Z"/>
<path d="M964.4 1057.0L976.5 1078.0L952.3 1078.0Z"/>
<path d="M965.5 1056.5L977.7 1077.5L953.4 1077.5Z"/>
<path d="M966.7 1056.1L978.8 1077.1L954.5 1077.1Z"/>
<path d="M967.8 1055.6L979.9 1076.6L955.7 1076.6Z"/>
<path d="M968.9 1055.2L981.1 1076.2L956.8 1076.2Z"/>
<path d="M970.1 1054.7L982.2 1075.7L958.0 1075.7Z"/>
<path d="M971.2 1054.2L983.4 1075.2L959.1 1075.2Z"/>
<path d="M972.4 1053.8L984.5 1074.8L960.3 1074.8Z"/>
<path d="M973.6 1053.3L985.7 1074.3L961.4 1074.3Z"/>
<path d="M974.7 1052.8L986.9 1073.8L962.6 1073.8Z"/>
<path d="M975.9 1052.3L988.0 1073.3L963.8 1073.3Z"/>
<path d="M977.1 1051.8L989.2 1072.8L965.0 1072.8Z"/>
<path d="M978.3 1051.4L990.4 1072.4L966.2 1072.4Z"/>
<path d="M979.5 1050.9L991.6 1071.9L967.4 1071.9Z"/>
<path d="M980.7 1050.3L992.8 1071.3L968.6 1071.3Z"/>
<path d="M981.9 1049.8L994.0 1070.8L969.8 1070.8Z"/>
<path d="M983.1 1049.3L995.2 1070.3L971.0 1070.3Z"/>
<path d="M984.3 1048.8L996.5 1069.8L972.2 1069.8Z"/>
<path d="M985.6 1048.3L997.7 1069.3L973.4 1069.3Z"/>
<path d="M986.8 1047.7L998.9 1068.7L974.7 1068.7Z"/>
<path d="M988.1 1045.2L1000.2 1066.2L975.9 1066.2Z"/>
<path d="M989.3 1044.6L1001.4 1065.6L977.2 1065.6Z"/>
<path d="M990.6 1043.9L1002.7 1064.9L978.5 1064.9Z"/>
<path d="M991.8 1043.2L1004.0 1064.2L979.7 1064.2Z"/>
<path d="M993.1 1042.6L1005.2 1063.6L981.0 1063.6Z"/>
<path d="M994.4 1041.9L1006.5 1062.9L982.3 1062.9Z"/>
<path d="M995.7 1041.2L1007.8 1062.2L983.6 1062.2Z"/>
<path d="M997.0 1040.5L1009.1 1061.5L984.9 1061.5Z"/>
<path d="M998.3 1039.8L1010.4 1060.8L986.2 1060.8Z"/>
<path d="M999.6 1039.0L1011.7 1060.0L987.5 1060.0Z"/>
<path d="M1000.9 1038.3L1013.1 1059.3L988.8 1059.3Z"/>
<path d="M1002.3 1037.5L1014.4 1058.5L990.1 1058.5Z"/>
<path d="M1003.6 1036.8L1015.7 1057.8L991.5 1057.8Z"/>
<path d="M1004.9 1036.0L1017.1 1057.0L992.8 1057.0Z"/>
<path d="M1006.3 1035.2L1018.4 1056.2L994.2 1056.2Z"/>
<path d="M1007.7 1034.5L1019.8 1055.5L995.5 1055.5Z"/>
<path d="M1009.0 1033.7L1021.1 1054.7L996.9 1054.7Z"/>
<path d="M1010.4 1032.9L1022.5 1053.9L998.3 1053.9Z"/>
<path d="M1011.8 1032.1L1023.9 1053.1L999.7 1053.1Z"/>
<path d="M1013.2 1031.3L1025.3 1052.3L1001.1 1052.3Z"/>
<path d="M1014.6 1030.5L1026.7 1051.5L1002.5 1051.5Z"/>
<path d="M1016.0 1029.7L1028.1 1050.7L1003.9 1050.7Z"/>
<path d="M1017.4 1028.9L1029.5 1049.9L1005.3 1049.9Z"/>
<path d="M1018.8 1028.1L1031.0 1049.1L1006.7 1049.1Z"/>
<path d="M1020.3 1027.3L1032.4 1048.3L1008.1 1048.3Z"/>
<path d="M1021.7 1026.5L1033.8 1047.5L1009.6 1047.5Z"/>
<path d="M1023.2 1025.8L1035.3 1046.8L1011.1 1046.8Z"/>
<path d="M1024.6 1025.0L1036.8 1046.0L1012.5 1046.0Z"/>
<path d="M1026.1 1024.3L1038.2 1045.3L1014.0 1045.3Z"/>
<path d="M1027.6 1023.5L1039.7 1044.5L1015.5 1044.5Z"/>
<path d="M1029.1 1022.8L1041.2 1043.8L1017.0 1043.8Z"/>
<path d="M1030.6 1022.1L1042.7 1043.1L1018.5 1043.1Z"/>
<path d="M1032.1 1021.4L1044.2 1042.4L1020.0 1042.4Z"/>
<path d="M1033.6 1020.8L1045.7 1041.8L1021.5 1041.8Z"/>
<path d="M1035.2 1020.0L1047.3 1041.0L1023.0 1041.0Z"/>
<path d="M1036.7 1019.3L1048.8 1040.3L1024.6 1040.3Z"/>
<path d="M1038.2 1018.6L1050.4 1039.6L1026.1 1039.6Z"/>
<path d="M1039.8 1017.8L1051.9 1038.8L1027.6 1038.8Z"/>
<path d="M1041.4 1017.1L1053.5 1038.1L1029.3 1038.1Z"/>
<path d="M1042.9 1016.1L1055.0 1037.1L1030.8 1037.1Z"/>
<path d="M1044.5 1015.1L1056.7 1036.1L1032.4 1036.1Z"/>
<path d="M1046.1 1014.1L1058.2 1035.1L1034.0 1035.1Z"/>
<path d="M1047.7 1012.7L1059.8 1033.7L1035.6 1033.7Z"/>
<path d="M1049.4 1011.1L1061.5 1032.1L1037.2 1032.1Z"/>
<path d="M1051.0 1009.4L1063.1 1030.4L1038.9 1030.4Z"/>
<path d="M1052.6 1007.7L1064.7 1028.7L1040.5 1028.7Z"/>
<path d="M1054.3 1006.0L1066.4 1027.0L1042.2 1027.0Z"/>
<path d="M1055.9 1004.1L1068.1 1025.1L1043.8 1025.1Z"/>
<path d="M1057.6 1002.2L1069.7 1023.2L1045.5 1023.2Z"/>
<path d="M1059.3 1000.2L1071.4 1021.2L1047.2 1021.2Z"/>
<path d="M1061.0 998.6L1073.1 1019.6L1048.9 1019.6Z"/>
<path d="M1062.7 996.7L1074.8 1017.7L1050.6 1017.7Z"/>
<path d="M1064.4 995.3L1076.5 1016.3L1052.3 1016.3Z"/>
<path d="M1066.1 993.9L1078.2 1014.9L1054.0 1014.9Z"/>
<path d="M1067.9 992.4L1080.0 1013.4L1055.7 1013.4Z"/>
<path d="M1069.6 991.1L1081.7 1012.1L1057.5 1012.1Z"/>
<path d="M1071.4 989.7L1083.5 1010.7L1059.3 1010.7Z"/>
<path d="M1073.2 988.2L1085.4 1009.2L1061.1 1009.2Z"/>
<path d="M1074.9 987.3L1087.0 1008.3L1062.8 1008.3Z"/>
<path d="M1076.8 985.9L1088.9 1006.9L1064.7 1006.9Z"/>
<path d="M1078.5 984.7L1090.6 1005.7L1066.4 1005.7Z"/>
<path d="M1080.4 983.4L1092.5 1004.4L1068.2 1004.4Z"/>
<path d="M1082.2 982.5L1094.4 1003.5L1070.1 1003.5Z"/>
<path d="M1084.0 981.5L1096.1 1002.5L1071.9 1002.5Z"/>
<path d="M1085.9 980.8L1098.0 1001.8L1073.8 1001.8Z"/>
<path d="M1087.9 980.4L1100.0 1001.4L1075.7 1001.4Z"/>
<path d="M1089.8 979.4L1101.9 1000.4L1077.6 1000.4Z"/>
<path d="M1091.7 979.0L1103.8 1000.0L1079.5 1000.0Z"/>
<path d="M1093.5 978.4L1105.6 999.4L1081.4 999.4Z"/>
<path d="M1095.7 977.3L1107.8 998.3L1083.5 998.3Z"/>
<path d="M1097.4 977.1L1109.6 998.1L1085.3 998.1Z"/>
<path d="M1099.4 976.7L1111.5 997.7L1087.2 997.7Z"/>
<path d="M1101.5 976.2L1113.6 997.2L1089.4 997.2Z"/>
<path d="M1103.4 975.0L1115.6 996.0L1091.3 996.0Z"/>
<path d="M1105.4 974.2L1117.5 995.2L1093.2 995.2Z"/>
<path d="M1107.5 973.0L1119.6 994.0L1095.4 994.0Z"/>
<path d="M1109.4 971.0L1121.6 992.0L1097.3 992.0Z"/>
<path d="M1111.5 969.7L1123.7 990.7L1099.4 990.7Z"/>
<path d="M1113.6 967.8L1125.7 988.8L1101.4 988.8Z"/>
<path d="M1115.5 965.2L1127.6 986.2L1103.4 986.2Z"/>
<path d="M1117.8 962.5L1129.9 983.5L1105.7 983.5Z"/>
<path d="M1119.8 960.7L1132.0 981.7L1107.7 981.7Z"/>
<path d="M1121.8 957.7L1134.0 978.7L1109.7 978.7Z"/>
<path d="M1124.0 955.1L1136.1 976.1L1111.9 976.1Z"/>
<path d="M1126.4 952.5L1138.5 973.5L1114.2 973.5Z"/>
<path d="M1128.4 949.4L1140.5 970.4L1116.2 970.4Z"/>
<path d="M1130.6 946.9L1142.7 967.9L1118.5 967.9Z"/>
<path d="M1132.9 943.5L1145.0 964.5L1120.8 964.5Z"/>
<path d="M1135.1 940.3L1147.2 961.3L1122.9 961.3Z"/>
<path d="M1137.1 936.8L1149.2 957.8L1124.9 957.8Z"/>
<path d="M1139.6 932.8L1151.7 953.8L1127.5 953.8Z"/>
<path d="M1141.9 929.9L1154.1 950.9L1129.8 950.9Z"/>
<path d="M1144.2 927.9L1156.4 948.9L1132.1 948.9Z"/>
<path d="M1146.7 925.0L1158.8 946.0L1134.5 946.0Z"/>
<path d="M1148.8 924.2L1160.9 945.2L1136.7 945.2Z"/>
<path d="M1151.2 920.7L1163.3 941.7L1139.1 941.7Z"/>
<path d="M1153.7 918.5L1165.8 939.5L1141.6 939.5Z"/>
<path d="M1155.8 917.0L1167.9 938.0L1143.7 938.0Z"/>
<path d="M1158.5 915.0L1170.7 936.0L1146.4 936.0Z"/>
<path d="M1161.0 912.4L1173.1 933.4L1148.9 933.4Z"/>
<path d="M1163.2 910.3L1175.4 931.3L1151.1 931.3Z"/>
<path d="M1165.9 909.0L1178.0 930.0L1153.8 930.0Z"/>
<path d="M1168.2 907.3L1180.3 928.3L1156.1 928.3Z"/>
<path d="M1170.3 905.4L1182.5 926.4L1158.2 926.4Z"/>
<path d="M1173.3 903.0L1185.4 924.0L1161.2 924.0Z"/>
<path d="M1175.7 901.1L1187.8 922.1L1163.5 922.1Z"/>
<path d="M1178.3 898.9L1190.4 919.9L1166.1 919.9Z"/>
<path d="M1180.8 896.6L1192.9 917.6L1168.6 917.6Z"/>
<path d="M1183.7 891.2L1195.8 912.2L1171.5 912.2Z"/>
<path d="M1185.7 889.1L1197.9 910.1L1173.6 910.1Z"/>
<path d="M1188.4 884.9L1200.6 905.9L1176.3 905.9Z"/>
<path d="M1190.7 881.3L1202.8 902.3L1178.6 902.3Z"/>
<path d="M1194.2 875.8L1206.3 896.8L1182.1 896.8Z"/>
<path d="M1195.4 871.4L1207.6 892.4L1183.3 892.4Z"/>
<path d="M1199.3 865.5L1211.4 886.5L1187.2 886.5Z"/>
<path d="M1200.7 860.4L1212.8 881.4L1188.5 881.4Z"/>
<path d="M1204.8 853.0L1216.9 874.0L1192.7 874.0Z"/>
<path d="M1206.1 848.6L1218.2 869.6L1194.0 869.6Z"/>
<path d="M1210.9 838.3L1223.1 859.3L1198.8 859.3Z"/>
<path d="M1211.9 832.1L1224.1 853.1L1199.8 853.1Z"/>
<path d="M1216.8 824.0L1228.9 845.0L1204.6 845.0Z"/>
<path d="M1217.1 817.2L1229.2 838.2L1205.0 838.2Z"/>
<path d="M1222.6 806.9L1234.7 827.9L1210.5 827.9Z"/>
<path d="M1222.7 803.5L1234.9 824.5L1210.6 824.5Z"/>
<path d="M1228.0 794.0L1240.1 815.0L1215.9 815.0Z"/>
<path d="M1228.1 789.4L1240.3 810.4L1216.0 810.4Z"/>
<path d="M1234.3 782.7L1246.4 803.7L1222.2 803.7Z"/>
<path d="M1233.5 777.8L1245.7 798.8L1221.4 798.8Z"/>
<path d="M1240.2 769.1L1252.3 790.1L1228.0 790.1Z"/>
<path d="M1239.2 768.3L1251.3 789.3L1227.1 789.3Z"/>
<path d="M1246.5 760.7L1258.6 781.7L1234.4 781.7Z"/>
<path d="M1244.8 757.7L1256.9 778.7L1232.6 778.7Z"/>
<path d="M1253.3 750.3L1265.4 771.3L1241.1 771.3Z"/>
<path d="M1251.3 749.0L1263.5 770.0L1239.2 770.0Z"/>
<path d="M1259.6 740.5L1271.7 761.5L1247.4 761.5Z"/>
<path d="M1257.6 737.8L1269.8 758.8L1245.5 758.8Z"/>
<path d="M1266.5 729.6L1278.6 750.6L1254.4 750.6Z"/>
<path d="M1263.4 725.6L1275.6 746.6L1251.3 746.6Z"/>
<path d="M1272.8 715.1L1285.0 736.1L1260.7 736.1Z"/>
<path d="M1269.2 716.1L1281.4 737.1L1257.1 737.1Z"/>
<path d="M1278.6 705.0L1290.7 726.0L1266.4 726.0Z"/>
<path d="M1275.5 704.4L1287.6 725.4L1263.4 725.4Z"/>
<path d="M1287.7 695.6L1299.8 716.6L1275.6 716.6Z"/>
<path d="M1282.1 696.3L1294.3 717.3L1270.0 717.3Z"/>
<path d="M1294.2 689.1L1306.4 710.1L1282.1 710.1Z"/>
<path d="M1290.9 691.4L1303.0 712.4L1278.8 712.4Z"/>
<path d="M1300.9 683.5L1313.1 704.5L1288.8 704.5Z"/>
<path d="M1298.0 691.2L1310.1 712.2L1285.9 712.2Z"/>
<path d="M1309.9 682.0L1322.0 703.0L1297.8 703.0Z"/>
<path d="M1305.1 689.6L1317.2 710.6L1293.0 710.6Z"/>
<path d="M1317.9 678.3L1330.0 699.3L1305.8 699.3Z"/>
</g>
<path d="M1287.6 683.1L1112.7 1110.1" stroke="#f00" stroke-width="2.6" stroke-linecap="round" fill="none"/>
<path d="M1101 1138.8L1106.6 1100.6L1112.7 1110.1L1123.8 1107.6Z" fill="#f00" stroke="#f00" stroke-width="1.5" stroke-linejoin="round"/>
<text x="797.5" y="1164.2" font-size="32" text-anchor="middle" font-weight="normal" fill="#000" >2</text>
<text x="921" y="1164.2" font-size="32" text-anchor="middle" font-weight="normal" fill="#000" >3</text>
<text x="1044.5" y="1164.2" font-size="32" text-anchor="middle" font-weight="normal" fill="#000" >4</text>
<text x="1168" y="1164.2" font-size="32" text-anchor="middle" font-weight="normal" fill="#000" >5</text>
<text x="1291.5" y="1164.2" font-size="32" text-anchor="middle" font-weight="normal" fill="#000" >6</text>
<text x="927" y="714.3" font-size="37" text-anchor="start" font-weight="bold" fill="#ff00ff" >S006</text>
<text x="725.8" y="681.9" font-size="36" text-anchor="start" font-weight="normal" fill="#000" >(e)</text>
<g transform="translate(757.3,973.7) rotate(-90)"><text x="-2" y="0" font-size="32">(</text><text x="7.3" y="0" font-size="28" font-family="IPAGothic, 'DejaVu Serif', serif">α</text><text x="31.4" y="0" font-size="32">h</text><text x="46" y="0" font-size="28" font-family="IPAGothic, 'DejaVu Serif', serif">υ</text><text x="69.6" y="0" font-size="32">)</text><text x="77.6" y="-18" font-size="20">2</text><text x="89" y="0" font-size="32" letter-spacing="1.28">(a.u.)</text></g>
<text x="1047.3" y="1202.3" font-size="32">h</text><text x="1064.4" y="1202.3" font-size="28" font-family="IPAGothic, 'DejaVu Serif', serif">υ</text><text x="1093.9" y="1202.3" font-size="32" letter-spacing="1.73">(eV)</text>
<path d="M1560.6 732.4L1624.7 807.2" stroke="#800000" stroke-width="3" fill="none"/>
<path d="M1657.4 838.4L1808.9 956.1" stroke="#800000" stroke-width="3" fill="none"/>
<path d="M1847.5 979.5L1993.5 1045.7" stroke="#800000" stroke-width="3" fill="none"/>
<circle cx="1545.8" cy="715.2" r="15.6" fill="#ff00ff"/>
<circle cx="1639.5" cy="824.4" r="15.6" fill="#ff00ff"/>
<circle cx="1826.8" cy="970.1" r="15.6" fill="#ff00ff"/>
<circle cx="2014.2" cy="1055.0" r="15.6" fill="#ff00ff"/>
<rect x="1499" y="654.5" width="562" height="485.5" fill="none" stroke="#000" stroke-width="3.3"/>
<path d="M1499 1140v-9.5M1545.8 1140v-19M1592.7 1140v-9.5M1639.5 1140v-19M1686.3 1140v-9.5M1733.2 1140v-19M1780 1140v-9.5M1826.8 1140v-19M1873.7 1140v-9.5M1920.5 1140v-19M1967.3 1140v-9.5M2014.2 1140v-19M2061 1140v-9.5" stroke="#000" stroke-width="3.2" fill="none"/>
<path d="M1499 1140h18M1499 1079.3h9.5M1499 1018.6h18M1499 957.9h9.5M1499 897.2h18M1499 836.6h9.5M1499 775.9h18M1499 715.2h9.5M1499 654.5h18" stroke="#000" stroke-width="3.2" fill="none"/>
<text x="1545.8" y="1184.5" font-size="32" text-anchor="middle" font-weight="normal" fill="#000" >0.01</text>
<text x="1639.5" y="1184.5" font-size="32" text-anchor="middle" font-weight="normal" fill="#000" >0.02</text>
<text x="1733.2" y="1184.5" font-size="32" text-anchor="middle" font-weight="normal" fill="#000" >0.03</text>
<text x="1826.8" y="1184.5" font-size="32" text-anchor="middle" font-weight="normal" fill="#000" >0.04</text>
<text x="1920.5" y="1184.5" font-size="32" text-anchor="middle" font-weight="normal" fill="#000" >0.05</text>
<text x="2014.2" y="1184.5" font-size="32" text-anchor="middle" font-weight="normal" fill="#000" >0.06</text>
<text x="1484.5" y="1148.5" font-size="32" text-anchor="end" font-weight="normal" fill="#000" >4.4</text>
<text x="1484.5" y="1027.1" font-size="32" text-anchor="end" font-weight="normal" fill="#000" >4.5</text>
<text x="1484.5" y="905.8" font-size="32" text-anchor="end" font-weight="normal" fill="#000" >4.6</text>
<text x="1484.5" y="784.4" font-size="32" text-anchor="end" font-weight="normal" fill="#000" >4.7</text>
<text x="1484.5" y="663" font-size="32" text-anchor="end" font-weight="normal" fill="#000" >4.8</text>
<text x="1624.5" y="1228" font-size="32" text-anchor="start" font-weight="normal" fill="#000" >Concentration (mol/L)</text>
<text transform="translate(1416,913.5) rotate(-90)" font-size="32" text-anchor="middle">Optical bandgap (eV)</text>
<text x="1385.4" y="679.1" font-size="36" text-anchor="start" font-weight="normal" fill="#000" >(f)</text>
</svg>
</body></html>
